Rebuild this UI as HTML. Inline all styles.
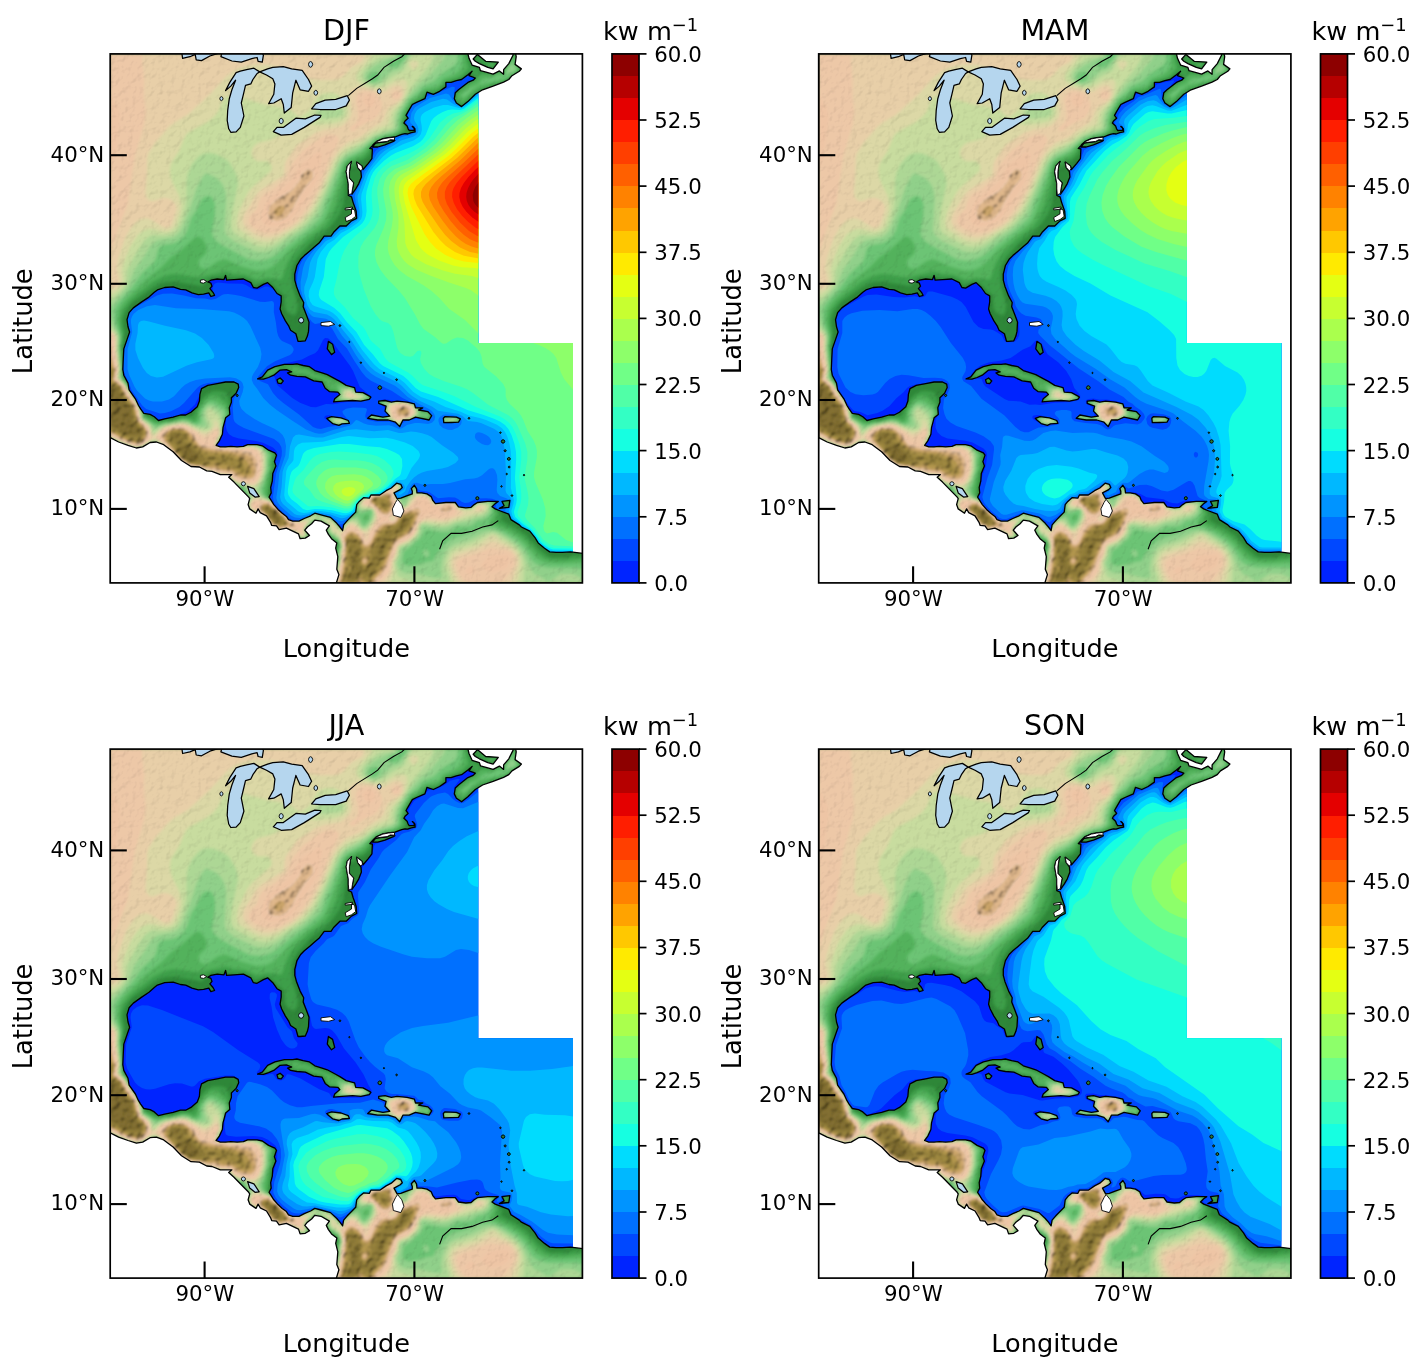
<!DOCTYPE html><html><head><meta charset="utf-8"><title>Seasonal wave power</title><style>html,body{margin:0;padding:0;background:#fff}svg{display:block}</style></head><body>
<svg width="1420" height="1362" viewBox="0 0 1420 1362" font-family="'DejaVu Sans','Liberation Sans',sans-serif" fill="#000">
<defs><path id="landshape" d="M110.2 50.6 L467.9 50.6 L467.9 53.7 L469.0 58.3 L472.1 65.1 L479.4 67.4 L480.5 70.7 L487.8 72.7 L493.1 74.2 L499.4 70.9 L503.6 74.2 L503.6 69.7 L508.8 63.6 L513.0 55.2 L513.5 50.6 L515.1 50.6 L516.2 56.7 L515.1 64.4 L521.4 68.9 L519.3 71.2 L512.0 75.7 L508.8 79.5 L503.6 82.1 L493.1 86.1 L482.6 89.8 L475.3 94.3 L467.9 101.6 L461.6 106.6 L456.4 103.0 L454.3 98.7 L455.3 92.8 L458.5 89.8 L467.9 82.4 L473.2 80.2 L475.3 78.0 L469.0 75.7 L472.1 71.2 L467.9 74.7 L461.6 79.5 L456.4 80.6 L451.1 82.4 L445.9 82.4 L445.9 86.9 L439.6 91.3 L433.3 94.3 L427.0 92.1 L424.9 98.7 L416.5 102.3 L412.3 104.5 L408.1 111.7 L406.0 115.3 L408.1 118.2 L405.0 121.0 L403.9 123.1 L407.1 126.0 L408.1 128.8 L409.2 130.5 L414.4 130.2 L413.9 127.4 L412.3 126.4 L414.9 128.8 L415.1 131.9 L411.3 132.6 L407.6 134.0 L405.0 133.7 L401.8 134.4 L399.7 135.1 L395.0 137.0 L388.2 137.7 L382.9 138.6 L376.6 141.4 L373.5 144.2 L372.4 145.6 L369.8 148.4 L372.4 149.0 L371.9 158.7 L368.3 163.4 L363.0 169.5 L362.0 166.1 L356.7 162.1 L357.8 167.5 L360.9 171.6 L361.4 176.9 L358.8 183.6 L355.7 188.9 L352.0 194.2 L352.5 188.9 L353.6 182.9 L349.4 178.3 L349.4 171.6 L350.4 164.8 L351.5 161.4 L347.3 166.1 L346.2 171.6 L347.3 178.3 L348.3 183.6 L348.3 188.9 L348.3 195.5 L351.5 196.8 L353.0 202.1 L356.2 211.2 L356.7 218.3 L351.5 220.9 L346.2 226.0 L339.9 226.0 L333.6 232.3 L331.0 236.1 L324.2 236.1 L319.0 243.1 L313.7 247.5 L309.5 251.2 L304.3 255.6 L300.6 259.3 L296.9 265.5 L294.8 274.1 L294.8 280.2 L296.4 286.2 L300.1 295.9 L303.7 302.5 L303.2 306.7 L306.4 315.0 L309.0 322.1 L308.5 331.4 L307.4 336.1 L305.3 340.8 L300.1 341.3 L298.0 341.3 L295.9 333.8 L290.6 330.3 L288.5 325.6 L285.4 320.9 L281.7 313.8 L280.1 309.0 L281.2 301.9 L281.2 295.9 L277.0 293.5 L272.8 287.5 L267.6 282.6 L263.4 284.4 L257.1 288.1 L253.4 287.5 L250.8 282.6 L243.4 279.0 L234.0 279.6 L226.6 280.2 L225.6 275.3 L224.0 279.6 L217.2 279.0 L210.9 280.2 L207.8 282.0 L210.9 283.2 L212.0 286.2 L209.9 288.7 L213.0 292.3 L214.6 295.3 L210.9 296.5 L208.8 292.9 L203.6 294.1 L198.3 294.7 L192.0 292.9 L185.7 289.9 L180.5 289.3 L173.1 286.9 L164.7 287.5 L157.4 289.9 L154.3 292.3 L149.0 297.1 L141.7 301.9 L133.3 307.9 L129.1 312.6 L127.0 319.7 L128.0 326.8 L129.6 332.0 L127.0 339.6 L123.8 348.9 L123.3 358.1 L122.8 369.5 L123.8 375.2 L128.0 383.1 L129.1 389.9 L135.4 398.8 L138.5 405.5 L140.6 408.9 L143.8 413.3 L150.1 414.4 L154.3 416.7 L158.5 420.5 L164.7 418.9 L173.1 417.2 L180.5 415.0 L185.7 415.0 L191.0 412.2 L197.3 406.7 L199.4 401.1 L199.9 394.4 L201.5 388.7 L207.8 385.4 L217.2 383.7 L225.6 382.0 L234.0 382.0 L238.2 384.2 L238.7 387.6 L236.1 393.2 L231.4 397.7 L231.4 402.2 L229.3 407.8 L229.8 414.4 L225.6 417.8 L224.5 422.2 L223.0 427.7 L222.4 434.3 L219.3 440.9 L216.1 445.3 L220.3 446.9 L225.6 446.9 L230.8 446.4 L237.1 446.9 L243.4 446.4 L247.6 444.7 L257.1 444.7 L262.3 445.8 L268.6 450.2 L274.9 452.9 L276.5 455.1 L274.4 461.6 L275.9 465.9 L272.8 473.5 L272.3 481.0 L270.7 487.5 L271.2 492.9 L269.1 497.1 L271.2 500.4 L273.8 504.6 L278.0 509.4 L282.2 513.2 L286.4 516.4 L288.5 519.6 L292.7 521.1 L299.0 521.1 L304.3 518.5 L310.6 515.8 L314.8 513.2 L321.0 514.8 L330.5 517.4 L336.8 523.3 L339.9 527.0 L342.6 530.7 L343.6 524.9 L347.3 520.6 L352.5 515.3 L355.7 512.1 L356.7 504.6 L359.3 501.4 L363.5 497.7 L369.3 498.2 L370.9 495.0 L379.8 495.0 L386.1 490.7 L391.3 488.0 L396.6 483.2 L400.8 484.3 L402.3 487.5 L400.2 489.6 L394.0 492.9 L397.1 498.7 L400.8 498.2 L406.0 496.1 L412.3 493.9 L412.3 491.2 L411.3 488.6 L414.4 485.3 L416.5 488.6 L417.0 492.9 L421.8 492.9 L427.0 493.9 L431.2 496.6 L432.8 500.4 L435.4 503.6 L445.9 502.5 L455.3 502.5 L458.5 506.8 L465.8 507.8 L471.1 507.3 L474.2 504.6 L477.4 502.5 L487.8 501.4 L498.3 501.4 L495.2 503.6 L492.0 506.8 L495.2 508.9 L500.4 511.0 L508.8 514.2 L510.9 519.6 L519.3 524.9 L521.4 527.0 L529.8 531.2 L535.0 537.6 L538.2 542.9 L544.5 548.2 L549.7 551.9 L556.0 552.4 L562.3 552.4 L570.7 551.9 L583.3 553.5 L583.3 585.1 L335.7 585.1 L338.9 574.6 L336.8 569.3 L337.8 556.6 L335.7 548.2 L336.8 542.9 L331.5 538.7 L328.4 534.4 L326.3 530.2 L329.4 525.9 L321.0 521.1 L314.8 520.1 L311.6 523.8 L307.4 527.0 L304.8 530.2 L309.5 535.5 L305.3 538.1 L300.1 538.7 L298.5 533.9 L292.7 531.2 L286.4 528.1 L279.1 529.6 L276.5 525.9 L271.7 525.4 L270.7 522.7 L266.5 515.8 L260.2 512.6 L258.1 508.9 L256.0 513.2 L249.7 508.9 L248.1 504.6 L249.7 498.7 L248.7 497.1 L241.3 489.6 L234.0 482.1 L228.7 477.3 L231.9 474.6 L227.2 474.6 L220.3 474.6 L212.0 471.3 L206.7 470.8 L199.4 467.0 L191.0 466.5 L181.5 460.5 L173.1 451.8 L163.7 444.7 L156.4 442.0 L150.1 442.5 L142.7 446.9 L136.4 448.0 L128.0 445.3 L118.6 442.0 L110.2 437.6ZM372.4 147.0 L377.7 147.0 L385.0 144.9 L393.4 141.4 L394.8 140.4 L390.3 140.0 L387.1 141.7 L380.8 142.4 L375.6 143.2ZM473.2 59.0 L477.4 54.4 L485.7 61.3 L498.3 62.1 L493.1 68.9 L487.8 67.4 L479.4 63.6 L475.3 61.3ZM257.6 378.9 L262.3 376.9 L267.6 370.1 L274.9 366.7 L284.3 364.4 L292.7 364.4 L296.9 363.8 L303.2 365.5 L309.5 366.7 L314.8 370.6 L322.1 372.9 L327.3 374.6 L334.7 378.6 L339.9 381.4 L346.2 385.4 L354.6 387.6 L355.7 392.1 L363.0 392.7 L370.4 396.6 L370.9 397.2 L369.3 399.4 L360.9 401.1 L352.5 400.5 L342.0 401.1 L333.6 401.9 L334.7 398.8 L339.9 394.4 L337.8 392.1 L329.4 391.6 L325.2 388.2 L322.1 382.0 L313.7 380.9 L305.3 376.9 L296.9 376.3 L290.6 375.2 L287.5 372.9 L291.7 371.8 L286.4 369.7 L280.1 370.1 L273.8 375.2 L268.6 377.5 L263.4 379.2ZM277.0 379.7 L280.1 378.0 L283.3 380.9 L281.2 383.7 L278.0 383.1ZM326.8 418.3 L331.5 416.7 L341.0 417.8 L348.3 420.5 L349.4 423.3 L342.0 423.8 L338.9 425.3 L332.6 423.6 L328.4 420.0ZM378.7 401.1 L385.0 400.5 L391.3 402.2 L397.1 401.1 L407.1 402.2 L414.4 403.9 L415.5 407.8 L422.8 407.8 L418.6 410.0 L428.0 411.7 L431.7 415.6 L429.1 420.0 L415.5 417.2 L409.2 420.0 L402.9 420.0 L399.7 426.6 L395.5 422.2 L388.2 420.0 L377.7 420.0 L367.7 418.3 L371.4 415.0 L382.9 417.2 L389.8 416.1 L385.0 411.1 L386.1 406.1 L378.7 403.3ZM443.3 418.3 L444.8 416.7 L456.4 417.2 L460.4 418.9 L458.5 422.2 L451.1 422.5 L443.8 422.7ZM499.4 508.4 L503.6 507.8 L508.8 507.3 L509.9 500.4 L502.0 501.4 L504.1 505.7ZM328.4 341.3 L332.6 344.2 L334.7 352.3 L331.5 354.6 L327.3 348.9Z"/>
<path id="lakes" d="M182.6 58.3 L189.9 56.7 L195.2 54.4 L196.2 59.8 L201.5 60.6 L209.9 56.0 L217.2 53.7 L220.3 50.6 L181.5 50.6ZM222.4 50.6 L220.9 56.7 L231.9 61.0 L241.3 62.1 L251.8 58.6 L257.1 57.5 L258.1 61.3 L262.3 62.1 L263.4 55.2 L261.3 50.6ZM230.8 132.3 L236.1 131.9 L240.3 127.4 L243.9 116.0 L241.3 103.0 L243.4 94.3 L245.5 85.4 L250.8 83.9 L252.9 79.5 L257.1 73.5 L259.7 71.9 L253.9 68.2 L246.6 69.7 L240.3 71.2 L236.1 72.7 L229.8 82.4 L225.6 90.6 L230.8 86.1 L235.6 80.2 L231.9 89.8 L229.3 98.7 L227.7 110.3 L227.2 120.3 L228.7 128.8ZM259.7 71.9 L267.6 68.9 L272.8 67.4 L283.3 66.7 L291.7 68.9 L302.2 70.4 L308.5 79.5 L311.6 86.1 L308.5 91.3 L300.1 89.8 L295.9 80.2 L292.7 92.8 L291.2 107.4 L284.3 113.1 L283.3 104.5 L281.2 98.7 L273.8 103.0 L268.6 103.7 L273.8 94.3 L274.9 83.9 L272.8 78.7 L266.5 75.0ZM273.3 131.6 L281.2 135.1 L291.7 134.4 L304.3 127.4 L320.0 117.4 L321.0 115.3 L314.8 115.0 L305.3 118.9 L295.9 118.2 L283.3 127.4 L277.0 127.4ZM311.6 108.8 L320.0 109.5 L335.7 109.5 L346.2 105.9 L349.4 100.1 L347.3 95.7 L335.7 99.4 L325.2 100.1 L315.8 103.7ZM247.6 486.4 L253.9 488.6 L259.2 496.6 L255.0 497.1 L249.7 492.9Z"/>
<path id="marac" d="M397.6 499.3 L401.8 504.6 L403.9 511.0 L400.8 517.4 L393.4 515.3 L392.4 508.9 L395.5 502.5ZM351.5 161.4 L350.4 164.8 L349.4 171.6 L349.4 178.3 L353.6 182.9 L352.5 188.9 L351.8 193.5 L348.8 194.9 L348.3 188.9 L348.3 183.6 L347.3 178.3 L346.2 171.6 L347.3 166.1ZM356.7 162.1 L362.0 166.1 L362.5 168.9 L360.9 170.9 L357.8 167.5ZM354.6 209.9 L355.7 216.4 L351.5 219.6 L346.2 221.5 L345.2 217.6 L351.5 213.8 L351.5 208.6ZM352.5 207.0 L345.2 208.3 L345.2 209.9 L352.5 209.2ZM375.6 142.8 L380.8 142.1 L387.1 141.4 L390.3 139.7 L394.5 140.0 L394.5 137.2 L388.2 137.9 L382.9 138.9 L376.6 141.7ZM200.4 280.2 L203.6 279.6 L206.7 281.4 L203.6 283.2 L200.4 282.6ZM321.0 322.6 L330.5 321.5 L334.7 324.4 L328.4 326.2 L321.0 325.6Z"/>
<path id="small" d="M504.8 441.4 L504.3 440.2 L503.1 439.7 L501.8 440.2 L501.3 441.4 L501.8 442.7 L503.1 443.2 L504.3 442.7ZM506.2 450.7 L505.9 450.0 L505.1 449.7 L504.4 450.0 L504.1 450.7 L504.4 451.4 L505.1 451.8 L505.9 451.4ZM510.3 458.9 L509.9 457.9 L508.8 457.4 L507.8 457.9 L507.4 458.9 L507.8 459.9 L508.8 460.3 L509.9 459.9ZM510.1 467.0 L509.8 466.4 L509.1 466.1 L508.5 466.4 L508.2 467.0 L508.5 467.7 L509.1 467.9 L509.8 467.7ZM507.5 474.0 L507.2 473.5 L506.7 473.3 L506.2 473.5 L506.0 474.0 L506.2 474.5 L506.7 474.8 L507.2 474.5ZM502.2 486.4 L502.0 485.9 L501.5 485.7 L501.0 485.9 L500.7 486.4 L501.0 486.9 L501.5 487.1 L502.0 486.9ZM524.8 475.1 L524.5 474.6 L524.0 474.4 L523.5 474.6 L523.3 475.1 L523.5 475.6 L524.0 475.8 L524.5 475.6ZM512.8 495.5 L512.6 495.0 L512.0 494.7 L511.4 495.0 L511.1 495.5 L511.4 496.1 L512.0 496.4 L512.6 496.1ZM478.9 498.2 L478.5 497.1 L477.4 496.7 L476.2 497.1 L475.8 498.2 L476.2 499.3 L477.4 499.7 L478.5 499.3ZM425.9 485.3 L425.6 484.6 L424.9 484.3 L424.2 484.6 L423.9 485.3 L424.2 486.1 L424.9 486.4 L425.6 486.1ZM501.2 432.7 L500.9 432.1 L500.4 431.9 L499.9 432.1 L499.7 432.7 L499.9 433.2 L500.4 433.4 L500.9 433.2ZM469.8 418.3 L469.6 417.7 L469.0 417.5 L468.4 417.7 L468.1 418.3 L468.4 418.9 L469.0 419.2 L469.6 418.9ZM381.7 387.6 L381.1 386.3 L379.8 385.7 L378.5 386.3 L377.9 387.6 L378.5 389.0 L379.8 389.5 L381.1 389.0ZM340.8 325.6 L340.5 324.9 L339.9 324.7 L339.3 324.9 L339.1 325.6 L339.3 326.2 L339.9 326.5 L340.5 326.2ZM350.0 341.9 L349.8 341.5 L349.4 341.3 L348.9 341.5 L348.7 341.9 L348.9 342.4 L349.4 342.6 L349.8 342.4ZM361.6 362.7 L361.4 362.1 L360.9 361.9 L360.4 362.1 L360.2 362.7 L360.4 363.2 L360.9 363.4 L361.4 363.2ZM384.6 372.9 L384.4 372.5 L384.0 372.3 L383.5 372.5 L383.4 372.9 L383.5 373.4 L384.0 373.6 L384.4 373.4ZM397.4 379.7 L397.2 379.1 L396.6 378.9 L396.0 379.1 L395.7 379.7 L396.0 380.3 L396.6 380.6 L397.2 380.3ZM238.2 395.5 L237.9 394.7 L237.1 394.4 L236.4 394.7 L236.1 395.5 L236.4 396.2 L237.1 396.6 L237.9 396.2Z"/>
<path id="slakes" d="M381.2 91.3 L380.6 89.5 L379.3 88.8 L377.9 89.5 L377.4 91.3 L377.9 93.1 L379.3 93.8 L380.6 93.1ZM283.3 121.0 L282.7 119.1 L281.2 118.3 L279.7 119.1 L279.1 121.0 L279.7 122.9 L281.2 123.7 L282.7 122.9ZM317.7 92.8 L317.1 91.0 L315.8 90.3 L314.5 91.0 L313.9 92.8 L314.5 94.6 L315.8 95.3 L317.1 94.6ZM312.7 64.4 L312.0 62.3 L310.6 61.5 L309.1 62.3 L308.5 64.4 L309.1 66.4 L310.6 67.3 L312.0 66.4ZM303.7 320.3 L303.0 318.3 L301.1 317.5 L299.3 318.3 L298.5 320.3 L299.3 322.3 L301.1 323.1 L303.0 322.3ZM223.0 98.7 L222.5 97.2 L221.4 96.6 L220.3 97.2 L219.8 98.7 L220.3 100.1 L221.4 100.7 L222.5 100.1ZM245.5 483.7 L244.9 482.3 L243.4 481.7 L241.9 482.3 L241.3 483.7 L241.9 485.2 L243.4 485.8 L244.9 485.2Z"/>
<path id="rivers" d="M348.3 95.7 L356.7 88.4 L365.1 83.2 L372.4 78.7 L377.7 75.0 L384.0 67.4 L393.4 61.3 L401.8 56.7 L408.1 50.6M498.3 520.6 L492.0 524.9 L482.6 527.0 L472.1 531.2 L461.6 533.4 L451.1 533.4 L442.7 540.8 L439.6 549.2"/>
<clipPath id="axclip"><rect x="110.2" y="53.9" width="472.2" height="529.0"/></clipPath>
<clipPath id="dataclip"><path d="M105.0 45.9 L456.4 45.9 L456.4 74.2 L478.2 74.2 L478.2 343.1 L573.0 343.1 L573.0 552.9 L346.2 552.9 L338.9 531.2 L325.2 519.0 L312.7 518.0 L301.1 524.9 L285.4 522.7 L272.8 514.2 L262.3 503.6 L257.1 492.9 L246.6 476.7 L225.6 460.5 L204.6 449.6 L183.6 438.7 L155.3 431.0 L131.2 422.2 L105.0 422.2Z"/></clipPath>
<clipPath id="landclip"><use href="#landshape"/></clipPath>
<filter id="lblur" x="105" y="49" width="483" height="539" filterUnits="userSpaceOnUse" primitiveUnits="userSpaceOnUse"><feGaussianBlur stdDeviation="1.6" result="b"/><feTurbulence type="fractalNoise" baseFrequency="0.13" numOctaves="3" seed="7" result="n"/><feDiffuseLighting in="n" surfaceScale="0.55" diffuseConstant="1.3" lighting-color="#fff" result="l"><feDistantLight azimuth="225" elevation="50"/></feDiffuseLighting><feBlend in="b" in2="l" mode="multiply" result="m"/><feComposite in="m" in2="b" operator="in"/></filter>
<filter id="mblur" x="105" y="49" width="483" height="539" filterUnits="userSpaceOnUse" primitiveUnits="userSpaceOnUse"><feTurbulence type="fractalNoise" baseFrequency="0.17" numOctaves="4" seed="3" result="n"/><feDiffuseLighting in="n" surfaceScale="3.2" diffuseConstant="1.3" lighting-color="#fff" result="l"><feDistantLight azimuth="225" elevation="50"/></feDiffuseLighting><feComposite in="l" in2="SourceGraphic" operator="in" result="li"/><feBlend in="SourceGraphic" in2="li" mode="multiply" result="m"/><feGaussianBlur in="m" stdDeviation="0.8"/></filter>
<g id="landfill" clip-path="url(#landclip)"><g filter="url(#lblur)"><rect x="105" y="49" width="483" height="539" fill="#2d8738"/><path fill="#3c9f48" d="M110.0 54.0 467.6 54.0 469.0 61.0 472.0 66.0 477.1 68.0 481.0 71.5 492.0 73.3 498.0 70.6 502.0 70.8 508.0 61.7 511.4 54.0 516.9 54.0 516.9 63.0 520.5 67.0 520.9 70.0 519.4 72.0 512.9 76.0 508.0 80.3 502.0 83.3 481.9 90.0 475.5 94.0 468.0 101.1 462.0 105.1 459.0 104.5 456.1 102.0 454.7 99.0 454.8 95.0 456.1 92.0 460.0 88.1 466.0 83.5 474.2 79.0 474.6 77.0 470.0 72.3 461.0 78.5 447.0 82.4 444.0 87.2 438.0 91.3 433.0 93.1 427.0 92.7 423.0 98.5 412.6 104.0 407.0 113.0 406.3 118.0 404.1 123.0 407.3 130.0 406.4 132.0 396.0 136.5 381.7 140.0 380.1 141.0 385.4 143.0 384.0 144.3 379.0 146.0 374.0 146.0 372.0 146.7 370.9 148.0 370.5 153.0 364.0 160.0 356.6 162.0 353.0 167.9 350.6 164.0 349.0 164.1 348.0 165.0 345.9 171.0 345.7 184.0 343.2 204.0 339.6 214.0 328.2 230.0 322.0 233.7 310.1 243.0 297.7 257.0 293.6 264.0 291.6 273.0 291.7 280.0 293.1 288.0 297.6 304.0 296.9 311.0 295.0 314.4 293.0 315.1 291.0 314.6 287.0 311.4 285.2 308.0 284.2 297.0 283.1 294.0 278.0 290.3 272.0 284.0 268.0 281.7 264.2 282.0 256.0 285.3 254.0 284.5 250.6 281.0 244.0 277.7 230.0 277.7 225.0 275.5 222.0 276.9 215.0 277.3 209.0 278.8 205.7 281.0 203.5 285.0 201.0 286.1 175.0 281.4 167.0 281.9 162.0 283.1 154.0 286.7 133.7 301.0 129.0 305.7 125.0 312.3 123.1 318.0 122.8 322.0 124.4 333.0 122.7 348.0 123.8 375.0 125.1 379.0 136.6 397.0 145.0 413.4 147.8 416.0 157.5 421.0 166.0 419.9 172.0 420.0 181.0 416.7 192.0 415.9 194.0 413.6 202.0 399.0 207.0 393.9 212.0 391.6 216.0 391.0 222.0 391.6 226.3 393.0 229.5 402.0 230.2 413.0 227.0 418.5 224.9 427.0 224.3 434.0 220.6 443.0 222.0 443.7 240.0 444.0 248.0 442.3 257.0 442.7 263.0 444.5 274.7 453.0 275.5 455.0 273.9 461.0 274.3 466.0 271.1 477.0 269.4 496.0 291.0 517.1 293.1 518.0 299.0 518.1 312.0 512.3 317.0 511.7 331.0 515.4 341.0 524.4 353.5 512.0 355.4 503.0 357.2 500.0 361.0 496.5 366.4 495.0 370.0 492.3 379.9 491.0 395.0 481.6 397.0 481.1 401.0 482.1 403.8 486.0 403.7 488.0 402.5 490.0 398.0 493.1 397.9 495.0 399.0 496.2 402.0 496.0 408.8 493.0 410.5 486.0 412.0 484.3 414.0 483.7 416.4 485.0 419.6 490.0 427.0 491.4 431.0 493.8 435.8 500.0 437.0 500.5 447.0 499.1 454.0 499.2 457.0 500.8 460.0 504.3 467.0 505.3 469.6 505.0 476.0 500.2 478.0 499.7 494.0 499.4 496.0 500.1 497.2 502.0 494.8 507.0 502.2 515.0 502.0 517.0 500.4 519.0 500.8 520.0 507.2 524.0 516.0 528.1 527.0 536.1 539.0 549.1 547.6 556.0 551.0 557.2 566.0 557.4 574.0 555.4 583.0 554.6 583.0 583.0 333.3 583.0 335.3 575.0 334.4 568.0 336.2 561.0 336.1 551.0 337.5 544.0 336.2 542.0 331.0 538.9 326.4 534.0 325.0 531.0 325.3 526.0 324.2 525.0 319.0 522.6 315.0 522.8 308.1 529.0 308.0 530.1 310.3 534.0 309.6 537.0 304.0 540.4 299.0 539.8 294.9 535.0 288.0 532.0 278.0 531.9 274.1 529.0 269.0 526.7 263.6 518.0 258.0 515.0 254.0 514.9 248.5 511.0 246.5 508.0 245.7 505.0 246.9 499.0 246.2 497.0 241.0 491.0 232.0 483.7 226.0 477.6 218.0 476.7 197.4 470.0 191.0 469.5 188.0 468.4 179.0 462.7 171.0 454.0 166.0 450.0 160.2 446.0 156.0 444.2 150.7 445.0 144.0 448.7 141.0 449.5 135.0 449.9 127.0 447.6 110.0 440.6ZM476.1 56.0 478.0 55.5 486.0 61.0 496.0 61.8 496.7 64.0 495.0 66.8 493.0 68.1 489.0 67.6 476.0 60.9 474.7 59.0ZM285.6 364.0 297.0 364.4 309.0 367.4 315.0 371.1 327.0 375.2 346.7 384.0 353.0 385.5 355.4 387.0 357.4 390.0 364.0 391.2 369.0 394.0 371.0 396.0 371.3 398.0 369.0 400.7 362.0 402.5 340.0 402.8 335.0 402.2 333.5 401.0 333.3 399.0 337.0 394.1 336.8 393.0 335.0 391.9 330.0 391.5 328.0 390.5 325.3 388.0 322.0 381.9 313.0 379.9 304.0 376.2 292.0 375.0 290.3 374.0 289.1 371.0 287.0 369.9 281.0 370.1 274.0 375.1 268.0 377.4 264.0 378.2 262.5 377.0 265.4 372.0 270.0 368.3 275.0 366.2ZM277.9 379.0 281.0 378.8 282.1 380.0 282.0 382.0 280.0 383.3 278.0 382.6 277.1 381.0ZM381.7 399.0 391.0 399.6 405.0 399.3 413.0 401.3 415.0 402.5 417.0 405.2 420.5 407.0 422.0 409.1 428.0 410.7 430.0 412.0 431.6 414.0 431.9 417.0 430.0 419.7 428.0 420.5 417.0 419.0 410.0 421.7 405.0 422.4 401.0 427.0 399.0 427.8 397.0 427.0 393.9 424.0 388.5 422.0 375.0 421.4 368.0 419.7 366.8 417.0 367.7 415.0 370.0 413.2 373.0 412.8 382.0 414.5 384.3 414.0 383.2 411.0 383.0 407.0 379.0 404.9 377.4 403.0 378.2 400.0ZM445.7 415.0 457.0 415.3 460.6 418.0 460.7 421.0 459.0 423.3 457.0 424.1 448.0 424.7 444.0 424.1 441.8 422.0 441.3 418.0 443.0 415.8ZM328.4 416.0 335.0 415.1 344.0 416.5 349.0 419.0 350.5 421.0 350.7 423.0 349.0 425.0 347.0 425.6 339.0 426.6 334.0 425.8 330.0 423.7 326.8 420.0 326.5 418.0ZM503.5 501.0 506.0 500.4 508.2 501.0 509.0 503.0 508.0 505.7 506.0 506.7 504.0 506.0 502.8 503.0Z"/><path fill="#52b25c" d="M110.0 54.0 465.8 54.0 466.1 61.0 468.1 68.0 462.0 75.0 456.1 78.0 445.4 81.0 442.4 86.0 437.0 89.6 433.0 91.0 426.0 91.0 422.0 96.6 411.0 103.3 404.7 114.0 404.1 118.0 402.5 122.0 403.8 129.0 402.6 131.0 395.0 135.5 383.4 138.0 377.0 140.7 369.6 147.0 367.6 152.0 363.0 156.2 354.0 160.6 349.0 161.7 347.0 163.5 344.5 169.0 342.4 183.0 336.4 204.0 330.5 218.0 324.1 227.0 307.7 239.0 292.0 254.9 286.5 265.0 282.2 278.0 281.0 279.4 268.0 277.7 257.0 280.1 245.0 274.6 232.0 273.4 226.0 271.1 198.0 277.4 178.0 274.1 172.0 274.1 163.0 276.6 153.0 281.6 130.0 299.7 122.9 309.0 121.0 313.7 120.0 319.0 120.2 324.0 122.5 334.0 121.3 348.0 122.9 377.0 137.4 400.0 141.7 408.0 145.0 416.7 156.0 422.5 173.0 421.1 183.0 418.1 188.0 418.4 195.0 420.7 196.0 419.3 198.4 410.0 201.5 404.0 205.0 399.5 209.0 396.8 213.0 395.7 216.0 395.9 219.0 397.5 226.4 404.0 228.9 412.0 228.7 414.0 226.0 418.2 224.0 427.0 223.6 434.0 220.0 442.0 219.7 444.0 240.0 444.6 248.0 443.1 257.0 443.5 263.0 445.6 272.4 453.0 273.6 456.0 271.8 461.0 271.7 468.0 268.8 477.0 266.8 495.0 268.2 497.0 272.0 499.3 291.2 518.0 299.0 518.8 313.0 512.8 317.0 512.5 331.0 516.3 341.0 525.9 345.1 521.0 354.2 513.0 355.2 511.0 356.3 503.0 361.0 497.4 367.0 495.5 371.0 492.6 379.0 492.0 395.0 482.4 397.0 481.9 401.0 483.0 402.9 486.0 402.8 488.0 401.5 490.0 397.0 493.0 397.0 495.0 399.0 497.1 402.0 497.0 409.0 494.0 410.4 492.0 410.9 487.0 412.0 485.6 414.0 484.7 416.1 486.0 419.0 490.7 427.0 492.3 431.0 494.7 436.0 501.1 453.0 499.9 456.0 500.9 460.0 505.2 467.0 506.2 470.0 505.7 476.0 501.2 478.0 500.5 493.0 500.4 495.4 502.0 493.5 507.0 497.3 513.0 495.1 519.0 495.6 522.0 498.5 524.0 513.0 530.6 520.0 535.3 527.0 541.0 537.0 552.4 542.6 557.0 549.0 559.8 562.0 560.5 568.0 560.3 583.0 557.9 583.0 583.0 334.1 583.0 336.0 575.0 335.2 568.0 337.0 562.0 337.3 551.0 339.2 546.0 339.1 544.0 337.2 541.0 331.0 537.4 327.7 534.0 325.9 530.0 326.5 526.0 324.1 524.0 319.0 521.7 314.6 522.0 307.8 528.0 307.1 530.0 309.5 535.0 308.0 537.4 304.0 539.6 300.0 539.4 296.0 534.9 286.7 531.0 278.0 531.3 274.0 528.3 271.0 527.4 269.2 526.0 263.3 517.0 258.0 514.2 255.0 514.5 253.0 513.6 248.5 510.0 246.5 505.0 247.8 499.0 247.0 496.5 241.5 490.0 232.0 482.8 226.9 477.0 220.0 476.5 210.1 473.0 206.0 472.7 199.0 469.9 188.0 467.8 179.0 461.9 172.0 454.2 167.0 450.0 157.0 443.8 151.3 444.0 143.0 448.3 136.0 449.4 129.0 447.6 110.0 439.8ZM512.8 54.0 515.5 54.0 516.1 57.0 515.8 63.0 519.7 68.0 518.8 71.0 505.0 80.6 481.0 88.6 475.0 92.2 463.0 102.3 461.0 102.8 458.1 101.0 456.7 97.0 458.0 92.7 467.0 85.2 475.3 81.0 479.3 75.0 483.0 74.3 492.0 74.8 498.0 72.2 503.0 72.3ZM488.5 63.0 493.2 63.0 494.4 64.0 494.2 65.0 492.0 66.5 490.0 66.1 487.1 64.0ZM284.3 367.0 296.0 366.4 308.0 369.5 314.0 373.1 333.0 380.5 353.0 386.5 357.1 391.0 363.0 391.8 368.0 394.4 369.8 396.0 370.1 398.0 368.0 400.1 361.0 401.8 336.0 401.3 334.6 399.0 338.0 394.5 338.0 392.4 336.0 390.4 331.0 389.7 328.0 388.0 323.0 379.2 314.0 378.0 305.0 374.2 295.0 373.7 293.5 373.0 291.9 370.0 290.0 368.5ZM274.5 368.0 279.1 368.0 275.8 372.0 273.0 374.0 268.0 375.6 266.0 375.0 268.5 371.0ZM381.0 400.0 391.0 400.5 399.0 399.8 411.0 401.4 414.3 403.0 416.6 406.0 419.6 408.0 421.0 410.3 429.0 412.6 430.8 415.0 430.7 417.0 428.0 419.3 418.0 418.0 410.0 420.9 404.0 421.9 401.0 426.0 399.0 426.9 393.5 423.0 388.0 421.1 375.0 420.6 369.0 419.1 368.0 418.0 368.2 416.0 371.0 413.7 381.0 415.3 385.4 415.0 384.1 411.0 384.0 406.9 378.6 403.0 378.8 401.0ZM331.9 416.0 340.0 416.3 345.0 417.6 348.9 420.0 349.6 423.0 348.0 424.5 339.0 425.8 333.0 424.5 329.5 422.0 327.6 419.0 328.7 417.0ZM444.9 416.0 453.0 415.5 457.0 416.2 459.5 418.0 459.7 421.0 458.0 422.8 456.0 423.4 445.0 423.5 443.0 422.2 442.1 420.0 442.3 418.0Z"/><path fill="#6cc474" d="M110.0 54.0 462.8 54.0 461.9 66.0 460.5 69.0 458.0 71.9 451.1 76.0 444.0 78.2 442.0 80.0 439.5 84.0 436.0 86.4 425.0 88.5 419.3 95.0 410.0 101.4 402.8 113.0 400.4 122.0 400.7 128.0 399.0 131.0 394.0 134.2 382.3 137.0 376.0 139.7 368.3 146.0 362.0 153.0 349.0 159.2 345.6 162.0 343.0 166.5 339.7 179.0 327.2 213.0 323.2 221.0 319.0 225.2 289.8 249.0 278.0 262.1 273.0 266.3 266.0 269.8 257.0 270.7 241.0 266.3 227.0 259.8 224.0 259.3 218.0 261.1 207.8 268.0 205.0 268.7 202.0 268.3 199.1 266.0 198.3 262.0 200.0 259.1 206.0 253.2 206.8 248.0 205.6 244.0 203.0 239.8 200.0 236.9 198.0 236.2 194.0 238.3 179.0 251.9 171.0 257.0 161.3 267.0 145.0 279.9 124.0 301.1 119.7 307.0 117.7 312.0 117.2 322.0 120.9 336.0 119.9 348.0 121.6 367.0 121.6 377.0 136.7 400.0 141.8 410.0 143.7 418.0 155.0 424.2 158.0 424.5 166.0 422.5 173.0 422.1 183.0 419.5 188.0 420.2 194.0 423.1 197.0 422.8 199.0 420.3 199.7 413.0 202.1 407.0 206.0 402.3 210.0 400.5 215.0 401.0 224.0 406.7 226.5 410.0 227.3 413.0 224.9 418.0 222.6 435.0 218.7 444.0 221.0 445.0 239.0 445.3 249.0 443.7 256.0 444.1 262.0 446.1 266.8 450.0 270.4 454.0 270.9 456.0 269.0 461.0 269.3 469.0 263.8 489.0 264.1 494.0 266.1 497.0 272.0 500.3 290.0 517.9 292.0 519.0 300.0 519.2 313.0 513.7 317.0 513.4 330.0 516.7 340.0 526.3 342.0 527.0 345.2 522.0 355.8 513.0 356.8 504.0 361.0 498.3 367.4 496.0 371.0 493.3 380.3 492.0 397.0 482.5 400.0 483.1 402.2 486.0 401.4 489.0 396.1 493.0 397.0 496.3 399.0 498.0 404.0 497.5 410.0 494.4 411.1 493.0 411.4 488.0 414.0 485.8 416.0 487.1 418.0 491.1 426.0 492.6 430.0 494.8 436.0 501.8 447.0 500.4 453.0 500.4 456.0 501.7 459.9 506.0 468.0 506.9 471.0 506.1 477.0 501.5 491.0 501.1 493.3 502.0 493.6 503.0 492.2 507.0 493.9 513.0 489.1 522.0 489.6 524.0 505.0 530.3 517.0 537.3 524.8 544.0 536.0 557.7 542.0 561.5 546.0 562.7 558.0 564.1 583.0 562.8 583.0 583.0 334.6 583.0 336.6 575.0 336.0 568.0 338.1 561.0 338.2 552.0 340.3 545.0 338.0 540.0 332.0 536.7 328.2 533.0 326.9 530.0 327.5 526.0 325.6 524.0 319.7 521.0 316.0 520.6 314.0 521.3 306.9 528.0 306.3 530.0 308.5 535.0 307.0 537.2 304.0 538.8 300.0 538.6 295.9 534.0 288.7 531.0 285.0 530.4 280.0 531.2 278.0 530.7 274.6 528.0 269.9 526.0 264.0 516.9 258.0 513.5 254.0 513.5 249.3 510.0 247.2 505.0 248.6 499.0 247.9 496.0 242.0 488.4 234.0 483.6 227.0 476.3 219.0 475.7 197.8 469.0 189.0 467.7 179.0 461.4 169.0 451.0 161.0 445.0 157.0 443.0 152.4 443.0 143.0 447.7 136.0 448.8 128.0 446.6 110.0 439.1ZM366.0 514.7 363.8 517.0 363.8 519.0 365.0 520.3 367.0 519.6 368.3 517.0 368.0 514.4ZM512.8 58.0 514.0 57.1 514.8 64.0 518.1 68.0 518.0 69.7 516.8 71.0 507.0 77.7 502.2 80.0 480.0 84.5 473.0 89.2 466.0 96.1 463.0 97.5 461.4 97.0 461.5 95.0 464.0 92.0 469.7 88.0 478.0 84.5 483.2 79.0 493.0 77.0 498.0 74.2 502.0 74.8 504.0 74.0 505.7 69.0ZM338.8 385.0 353.0 387.6 357.0 391.9 363.0 392.7 367.0 394.8 368.5 396.0 368.9 398.0 367.0 399.5 360.0 401.0 351.0 401.3 337.0 400.2 336.2 399.0 336.5 398.0 339.0 395.0 339.5 393.0 337.0 386.0ZM381.5 401.0 391.0 401.3 400.0 400.4 411.0 402.1 414.0 403.8 420.0 411.5 428.0 413.4 429.4 415.0 429.2 417.0 427.0 418.1 420.0 416.8 416.0 417.5 409.0 420.5 404.0 421.2 401.0 425.0 399.0 426.0 394.0 422.5 389.0 420.6 375.0 419.7 370.0 418.5 368.9 417.0 371.0 414.6 382.0 416.4 385.9 416.0 386.9 415.0 385.0 411.0 384.5 406.0 380.2 403.0 380.0 402.0ZM331.4 417.0 342.0 417.4 347.0 419.4 348.8 422.0 347.0 423.9 336.0 424.7 332.0 423.0 329.2 420.0 329.4 418.0ZM444.7 417.0 455.0 416.5 458.0 417.7 459.0 420.0 458.0 421.8 456.0 422.6 446.0 422.9 444.0 422.0 443.0 420.0 443.4 418.0Z"/><path fill="#90d08a" d="M110.0 54.0 400.0 54.0 397.0 58.6 390.6 61.0 388.3 63.0 387.6 65.0 388.0 66.2 392.0 67.4 396.0 67.0 399.0 65.1 405.8 58.0 406.8 54.0 457.7 54.0 457.0 61.5 454.8 65.0 441.0 73.9 434.0 81.0 423.0 85.9 417.0 92.3 409.0 99.0 400.4 113.0 398.4 121.0 398.1 128.0 396.0 130.9 393.0 132.6 382.0 135.5 375.0 138.6 360.0 150.9 348.0 157.0 344.0 160.3 341.0 165.0 336.8 177.0 329.5 195.0 325.9 202.0 323.2 211.0 320.0 218.0 308.0 229.2 273.0 256.6 267.0 259.3 261.0 260.5 255.0 260.3 248.0 259.0 223.0 245.5 217.0 241.4 213.1 237.0 211.9 233.0 214.8 216.0 215.1 207.0 214.4 202.0 212.4 198.0 210.0 196.1 207.0 195.9 203.0 197.9 201.0 200.2 196.4 210.0 191.0 218.3 187.5 230.0 184.0 236.0 180.0 239.7 175.0 242.7 170.0 244.1 163.0 244.7 160.0 246.3 157.8 250.0 155.9 258.0 154.0 261.7 141.9 273.0 130.5 289.0 118.6 302.0 115.2 307.0 114.0 312.0 114.5 321.0 115.7 326.0 118.8 333.0 119.6 337.0 118.7 348.0 120.8 368.0 120.4 377.0 136.6 401.0 141.4 411.0 143.0 418.8 149.0 421.9 155.0 426.4 182.0 420.7 187.0 421.3 195.0 424.7 200.0 424.1 201.8 422.0 201.7 414.0 202.9 410.0 205.3 406.0 209.0 403.8 213.0 404.2 222.9 410.0 224.7 413.0 222.5 426.0 222.3 433.0 218.0 444.3 221.0 445.5 240.0 445.9 248.0 444.4 254.0 444.6 261.0 446.5 264.3 449.0 268.1 455.0 267.2 461.0 267.7 467.0 264.3 481.0 261.2 489.0 261.5 493.0 264.4 497.0 271.0 500.2 291.0 519.1 299.4 520.0 314.0 514.2 318.0 514.4 330.0 517.5 335.2 522.0 340.0 527.6 342.0 528.3 344.4 524.0 348.0 520.4 354.0 516.5 358.0 515.4 362.0 524.2 363.0 525.1 364.8 525.0 368.0 522.5 370.0 519.7 372.0 511.6 371.0 510.2 370.0 510.1 361.0 512.9 359.0 512.9 357.3 506.0 359.3 501.0 362.0 498.3 367.0 496.8 371.0 493.8 379.0 493.0 397.0 483.1 400.0 483.9 401.5 486.0 400.6 489.0 395.5 493.0 397.0 497.4 400.0 499.2 404.0 499.2 410.8 495.0 412.0 493.0 412.3 488.0 414.0 486.8 415.6 488.0 417.9 492.0 426.0 493.3 430.0 495.5 434.0 501.0 436.0 502.4 448.0 500.9 453.0 501.0 455.4 502.0 459.0 506.3 463.0 507.4 468.0 507.6 471.0 507.0 478.0 502.0 490.0 502.0 491.8 503.0 491.9 504.0 491.0 507.0 491.1 512.0 489.6 515.0 484.0 519.3 477.0 521.0 472.0 525.3 465.0 526.6 457.0 526.3 451.0 530.7 447.0 531.8 441.0 531.9 428.0 529.5 425.0 529.7 420.0 538.4 415.2 542.0 411.0 546.6 403.8 551.0 402.3 560.0 403.0 563.2 406.0 565.5 410.3 566.0 419.0 564.5 427.0 561.7 433.0 561.1 435.5 556.0 443.9 545.0 452.0 538.4 467.7 534.0 477.0 529.4 492.0 528.4 501.0 531.4 517.0 541.2 524.6 549.0 532.1 561.0 538.0 565.3 548.0 567.7 576.0 568.0 583.0 569.0 583.0 583.0 335.1 583.0 337.1 575.0 336.6 568.0 338.9 561.0 339.2 552.0 340.9 547.0 341.0 544.6 339.0 539.7 332.0 535.2 328.7 532.0 327.9 530.0 328.4 526.0 325.3 523.0 319.0 520.0 314.0 520.3 306.2 528.0 305.6 530.0 307.6 535.0 306.0 537.2 303.0 538.4 300.0 537.8 296.9 534.0 290.1 531.0 286.0 529.9 279.0 530.7 275.0 527.7 270.0 525.6 266.0 518.7 263.3 516.0 258.0 512.8 254.0 512.9 250.0 509.9 248.6 508.0 247.8 505.0 249.4 497.0 244.5 488.0 243.0 486.6 239.0 485.8 235.0 483.5 230.0 479.3 228.0 476.0 220.0 475.4 211.0 472.2 206.0 471.6 199.0 469.0 189.0 467.2 180.0 461.7 172.0 453.0 163.3 446.0 156.0 442.1 150.4 443.0 142.0 447.5 136.0 448.3 129.0 446.4 110.0 438.6ZM374.0 71.9 370.2 74.0 368.6 77.0 369.3 80.0 372.0 81.9 376.3 81.0 378.2 79.0 379.5 76.0 379.5 74.0 378.0 72.0ZM512.0 63.0 516.1 69.0 514.0 71.0 509.0 73.6 507.0 73.8 507.1 70.0ZM340.9 388.0 344.0 387.2 352.0 388.2 356.0 392.3 362.0 393.3 365.7 395.0 367.6 397.0 367.4 398.0 363.0 399.8 358.0 400.5 350.0 400.6 339.0 399.4 338.3 398.0 340.6 394.0ZM383.0 402.0 400.0 401.1 406.0 401.4 411.0 402.8 413.2 404.0 417.4 409.0 419.7 414.0 419.4 415.0 410.0 419.6 403.1 421.0 400.9 424.0 399.0 425.2 394.4 422.0 388.0 419.5 383.0 418.4 378.0 419.1 371.0 418.0 370.2 417.0 370.5 416.0 372.0 415.3 382.0 417.7 385.0 417.5 387.6 416.0 387.9 415.0 385.8 411.0 385.6 406.0 382.5 403.0ZM331.6 418.0 335.0 417.5 342.0 418.2 346.6 420.0 347.8 422.0 346.0 423.4 337.0 424.1 333.0 422.7 331.1 421.0 330.4 419.0ZM444.7 418.0 448.0 417.2 455.0 417.3 457.0 418.1 458.1 420.0 456.0 421.7 447.0 422.2 444.3 421.0 444.0 419.0ZM424.1 550.0 427.0 550.0 428.9 552.0 429.2 555.0 428.0 556.9 426.0 557.0 423.7 555.0 422.9 552.0Z"/><path fill="#add795" d="M110.0 54.0 397.4 54.0 395.0 56.9 385.2 60.0 374.0 66.2 366.9 72.0 365.1 76.0 365.9 80.0 369.0 83.0 374.0 84.2 380.4 82.0 392.0 71.1 398.0 69.7 401.0 68.0 408.5 57.0 409.7 54.0 445.8 54.0 442.8 60.0 430.9 74.0 419.0 84.0 408.0 96.8 397.6 113.0 396.0 119.1 395.8 127.0 394.6 129.0 392.0 130.6 381.0 133.9 374.1 137.0 360.0 147.5 347.0 154.4 341.0 159.9 338.6 164.0 317.9 213.0 308.3 224.0 301.0 230.4 290.0 237.5 277.0 247.5 271.0 250.6 266.0 252.1 260.0 252.3 254.0 251.1 234.0 241.2 227.5 236.0 225.5 233.0 224.5 230.0 226.2 199.0 225.7 193.0 224.0 187.3 221.6 183.0 218.0 179.1 214.0 176.5 206.0 173.1 202.0 177.6 197.0 186.7 189.5 210.0 183.5 226.0 180.9 231.0 177.1 235.0 173.0 237.4 157.0 240.6 151.6 244.0 144.3 256.0 134.3 270.0 129.4 283.0 126.7 288.0 110.0 307.0ZM110.0 315.0 110.0 314.1 113.3 326.0 117.2 333.0 118.3 337.0 117.7 349.0 120.1 369.0 119.2 377.0 126.2 386.0 136.6 402.0 140.5 410.0 142.1 419.0 148.8 423.0 155.0 428.9 166.0 424.6 182.0 421.7 187.0 422.5 196.0 426.3 204.0 426.7 206.4 426.0 206.7 425.0 204.0 415.2 205.2 410.0 208.0 406.7 210.0 406.3 213.0 407.4 220.0 413.1 222.0 418.3 221.5 434.0 217.4 443.0 217.6 445.0 221.0 446.0 240.0 446.4 249.0 445.0 254.0 445.3 261.0 447.6 264.5 451.0 266.2 456.0 265.9 469.0 262.6 481.0 258.6 489.0 258.4 492.0 262.6 497.0 272.0 501.7 290.0 519.0 293.0 520.2 299.0 520.6 314.0 515.2 317.0 515.1 330.0 518.4 341.0 529.5 343.0 528.5 345.0 524.4 348.0 521.5 352.0 519.2 355.0 518.7 357.0 520.1 361.7 527.0 365.0 527.5 368.0 525.3 371.7 520.0 373.1 516.0 373.1 511.0 371.0 508.9 363.0 510.1 360.0 509.5 358.3 506.0 360.2 501.0 363.0 498.4 367.8 497.0 371.0 494.2 380.2 493.0 397.0 483.6 400.0 484.6 400.9 487.0 399.8 489.0 395.4 492.0 395.0 494.4 397.0 498.4 400.9 501.0 402.0 505.0 403.0 506.0 405.7 505.0 407.4 500.0 412.1 495.0 413.0 493.0 413.1 489.0 414.0 488.2 417.0 492.4 425.0 493.6 429.0 495.5 434.0 501.8 436.0 503.0 447.0 501.4 453.0 501.5 455.0 502.3 459.0 507.1 468.0 508.5 471.0 507.9 478.0 502.7 488.9 503.0 490.1 504.0 489.2 510.0 486.8 514.0 483.0 516.4 476.0 517.9 468.0 521.6 456.0 523.3 449.0 526.7 444.0 527.8 439.0 527.7 424.0 525.2 421.2 526.0 420.0 533.0 417.7 537.0 409.0 544.7 400.9 548.0 399.6 556.0 397.2 563.0 398.0 566.2 400.0 569.8 402.5 572.0 406.0 573.2 415.0 573.2 435.0 577.9 441.0 578.0 442.1 577.0 441.0 569.0 442.2 560.0 445.5 552.0 449.0 547.4 455.0 543.8 471.0 538.8 484.0 532.8 489.0 531.3 493.0 531.0 500.0 533.8 512.0 541.2 518.0 546.0 523.3 553.0 530.0 568.3 535.0 574.8 539.5 576.0 544.0 579.5 549.0 581.7 560.6 574.0 572.0 574.1 576.0 575.3 583.0 579.1 583.0 583.0 335.6 583.0 337.6 575.0 337.2 568.0 339.4 562.0 339.8 553.0 341.5 547.0 341.4 544.0 339.0 538.4 332.0 533.7 329.4 531.0 328.9 525.0 323.0 520.6 317.0 518.9 313.0 519.9 306.0 527.0 304.9 530.0 306.8 535.0 305.0 537.0 303.0 537.7 300.0 537.0 296.3 533.0 288.4 530.0 285.0 529.6 279.0 530.2 275.0 527.3 270.0 525.0 264.0 516.0 258.0 512.1 254.0 512.3 250.0 509.2 248.4 505.0 250.5 496.0 246.9 488.0 244.0 485.3 239.0 484.8 235.0 482.8 230.4 479.0 229.0 476.0 228.0 475.4 220.0 474.9 211.9 472.0 207.0 471.4 198.0 468.3 191.0 467.6 188.0 466.4 179.0 460.4 173.0 453.5 167.8 449.0 157.0 441.8 152.0 441.8 143.0 446.7 136.0 447.8 128.0 445.5 110.0 438.0ZM344.1 389.0 351.1 389.0 355.6 393.0 363.0 394.6 365.8 397.0 362.7 399.0 358.0 399.7 350.0 399.9 342.0 398.7 340.7 398.0 340.7 397.0 342.8 390.0ZM395.0 402.0 405.0 401.9 412.0 403.9 416.9 410.0 417.7 414.0 411.0 418.6 404.0 420.1 402.3 421.0 400.0 424.0 398.0 424.1 387.9 418.0 388.8 415.0 386.4 410.0 385.9 403.0ZM449.6 418.0 455.0 418.3 456.4 419.0 456.6 420.0 455.0 420.9 449.0 421.5 446.0 421.0 445.1 420.0 446.0 418.6ZM332.6 419.0 341.0 418.6 345.2 420.0 346.5 422.0 340.0 423.5 337.0 423.3 332.6 421.0 332.1 420.0Z"/><path fill="#c8dc9f" d="M110.0 54.0 395.1 54.0 393.0 55.8 384.0 56.4 377.1 59.0 369.0 65.3 362.8 72.0 361.5 77.0 363.1 81.0 368.0 84.6 375.0 86.0 382.0 84.4 393.0 76.2 403.0 71.2 405.2 68.0 407.5 61.0 413.4 54.0 433.8 54.0 432.1 60.0 428.0 67.0 414.0 83.4 403.3 102.0 395.3 112.0 393.4 118.0 392.8 127.0 391.0 128.3 374.0 134.8 363.0 143.0 348.0 150.8 342.0 155.5 337.0 162.3 324.6 192.0 314.0 213.0 305.4 223.0 300.0 227.9 288.3 235.0 279.0 241.8 273.0 245.0 265.0 247.0 257.0 245.8 239.0 236.5 233.3 232.0 231.4 228.0 231.1 222.0 232.3 211.0 238.0 185.0 237.8 179.0 235.8 173.0 229.2 162.0 225.7 159.0 221.0 156.4 214.0 153.6 209.0 152.7 204.0 153.4 199.0 156.1 192.0 164.0 187.8 173.0 186.5 181.0 186.6 198.0 185.7 207.0 182.7 218.0 178.9 227.0 175.9 231.0 171.0 234.1 165.0 235.4 152.0 235.0 149.0 236.4 144.7 240.0 138.0 249.4 127.9 268.0 126.6 272.0 126.3 281.0 124.0 287.0 120.8 291.0 110.0 300.9ZM327.0 102.9 321.0 105.4 317.0 109.4 315.4 114.0 317.0 117.4 320.0 118.8 324.0 119.0 338.0 117.4 342.7 115.0 343.5 111.0 342.1 108.0 340.0 105.8 334.0 102.9ZM110.0 325.0 115.9 333.0 117.4 337.0 116.9 349.0 119.6 369.0 118.5 378.0 125.7 386.0 135.6 401.0 139.6 409.0 141.5 419.0 149.8 425.0 151.8 428.0 153.0 432.2 154.0 432.4 159.0 428.6 165.0 425.7 181.0 422.5 187.0 423.4 201.0 429.0 208.0 429.3 210.1 428.0 210.9 425.0 207.4 418.0 206.7 413.0 208.0 409.7 209.0 408.9 211.0 409.2 219.0 417.1 220.6 421.0 221.0 434.0 216.8 443.0 217.0 445.1 220.0 446.3 240.0 446.8 249.0 445.5 254.0 445.9 260.1 448.0 263.7 452.0 264.9 457.0 264.4 471.0 261.3 481.0 256.0 488.3 254.0 489.8 252.0 489.7 245.0 484.8 237.0 483.3 232.0 479.9 228.3 475.0 220.0 474.6 198.1 468.0 189.0 466.6 180.0 460.8 172.0 452.1 163.3 445.0 156.0 440.9 151.0 441.5 142.0 446.6 136.0 447.5 129.0 445.5 110.0 437.6ZM346.2 390.0 351.0 390.0 355.0 393.5 361.5 395.0 363.7 397.0 361.0 398.5 354.0 399.3 343.9 398.0 342.6 397.0 343.4 393.0 344.4 391.0ZM393.1 403.0 401.0 402.1 406.0 402.5 411.0 403.9 413.0 405.5 416.0 410.0 416.5 414.0 410.0 418.6 403.0 419.9 400.0 423.2 398.0 423.4 389.5 418.0 389.4 415.0 387.4 411.0 387.9 404.0ZM334.3 420.0 340.0 419.2 344.9 421.0 343.9 422.0 338.0 422.7 334.4 421.0ZM394.9 485.0 398.0 484.2 400.3 486.0 399.1 489.0 394.8 492.0 394.5 494.0 396.1 498.0 399.9 502.0 401.3 506.0 403.0 507.1 405.0 506.7 407.0 505.0 409.5 500.0 415.0 492.4 418.0 493.6 425.0 494.2 428.0 495.4 430.1 497.0 435.0 503.2 448.0 501.7 453.0 501.9 455.1 503.0 458.0 507.1 462.0 508.6 471.0 508.9 476.7 504.0 479.0 503.2 487.5 504.0 488.5 505.0 488.3 507.0 486.8 511.0 483.0 514.1 474.0 516.4 466.0 519.4 456.0 521.5 447.0 524.9 440.0 525.4 425.0 523.4 422.0 523.8 420.2 525.0 418.4 533.0 415.7 537.0 408.0 543.6 399.5 547.0 398.2 555.0 394.9 563.0 397.0 573.7 399.0 576.9 416.7 583.0 336.0 583.0 338.0 575.0 337.6 569.0 340.0 561.6 340.4 553.0 342.0 547.0 341.9 544.0 341.0 540.6 339.0 537.3 330.7 531.0 330.2 526.0 329.1 524.0 320.3 518.0 325.0 517.8 330.0 519.2 341.0 530.4 343.0 529.5 347.0 523.2 350.0 521.3 353.0 520.5 356.0 521.9 361.1 528.0 364.0 529.2 366.0 528.9 369.0 526.3 373.0 520.3 374.2 516.0 374.1 512.0 373.0 509.4 371.0 508.3 364.0 508.6 361.0 508.0 359.5 506.0 360.3 502.0 363.0 499.0 368.0 497.3 371.0 494.6 380.9 493.0ZM253.5 494.0 256.0 494.0 262.5 498.0 271.0 501.4 291.1 520.0 299.0 521.1 315.0 516.1 319.4 517.0 313.0 518.3 306.0 526.0 304.4 530.0 306.0 535.0 304.0 536.9 301.0 537.0 297.2 533.0 289.6 530.0 286.0 529.2 279.0 529.9 275.1 527.0 270.4 525.0 264.4 516.0 258.0 511.6 254.0 511.9 250.0 508.5 248.9 504.0ZM491.9 533.0 496.2 534.0 512.0 544.0 516.0 547.3 519.8 552.0 522.7 558.0 524.3 565.0 523.6 583.0 448.7 583.0 449.1 578.0 446.1 569.0 445.6 564.0 446.7 558.0 450.0 551.4 455.0 547.9 474.0 541.8 488.0 534.2Z"/><path fill="#dcd8a6" d="M110.0 54.0 373.6 54.0 366.2 63.0 357.5 72.0 356.1 77.0 356.8 80.0 358.3 82.0 362.0 84.5 367.0 86.4 374.0 87.9 380.0 88.2 384.2 87.0 396.0 80.3 404.0 79.2 406.7 81.0 407.1 87.0 405.5 94.0 403.0 99.5 391.5 112.0 388.0 124.4 372.0 132.8 361.6 141.0 347.0 147.7 342.0 151.7 338.0 156.2 334.5 162.0 323.3 189.0 315.0 205.9 311.8 211.0 303.5 221.0 296.0 227.6 280.0 237.4 273.0 240.6 267.0 241.9 260.0 241.3 253.0 238.4 240.2 230.0 238.0 227.7 237.1 225.0 237.1 219.0 238.6 212.0 247.8 193.0 252.0 187.7 270.0 172.0 271.8 169.0 271.3 165.0 268.9 162.0 266.0 161.1 258.0 161.2 253.8 159.0 251.4 154.0 251.6 151.0 253.0 147.5 256.0 144.3 259.0 142.6 270.0 140.1 276.0 137.5 299.0 121.8 301.0 121.7 310.0 124.4 317.0 125.0 333.0 123.3 340.0 121.4 344.0 118.9 346.8 115.0 347.5 111.0 346.8 107.0 343.0 99.3 339.0 95.1 333.0 92.8 326.0 92.9 322.0 94.1 318.0 96.6 315.3 100.0 312.1 107.0 310.0 109.8 303.0 115.6 299.0 116.9 291.0 110.2 286.0 108.0 267.0 104.9 237.0 96.8 229.0 96.1 225.0 97.3 222.9 100.0 218.4 111.0 213.7 117.0 207.2 122.0 189.0 131.9 186.6 134.0 183.8 139.0 178.5 152.0 171.2 163.0 169.8 170.0 170.5 177.0 172.7 183.0 179.0 195.8 181.2 205.0 180.3 213.0 175.9 225.0 172.8 229.0 168.0 231.4 163.0 231.4 153.0 229.0 149.0 228.8 143.0 230.8 138.0 234.8 130.4 246.0 123.5 263.0 122.0 270.0 122.8 280.0 121.8 285.0 118.0 289.8 110.0 295.3ZM410.6 61.0 416.0 60.4 418.6 62.0 418.0 66.0 414.0 70.1 412.0 69.6 410.0 66.0 409.4 63.0ZM110.0 330.0 110.0 329.4 114.5 333.0 116.6 338.0 116.2 349.0 119.0 369.0 117.6 378.0 125.0 386.0 134.5 400.0 139.5 410.0 140.9 419.0 149.6 426.0 152.3 434.0 154.0 434.6 155.0 434.1 158.9 430.0 165.0 426.5 181.0 423.3 187.0 424.3 202.0 431.4 207.0 431.7 210.0 430.3 212.2 428.0 214.0 424.0 213.6 420.0 214.0 419.4 215.0 419.9 218.0 422.5 220.5 432.0 220.1 435.0 216.1 443.0 216.2 445.0 217.0 445.8 220.0 446.6 240.0 447.3 252.0 446.2 258.1 448.0 261.7 451.0 263.7 457.0 263.7 469.0 261.0 479.0 257.0 484.9 254.0 486.6 251.0 486.6 245.0 483.9 236.0 482.1 231.7 479.0 229.0 474.7 220.0 474.2 211.0 471.1 206.0 470.6 199.0 468.0 189.0 466.3 180.0 460.5 172.3 452.0 163.8 445.0 156.0 440.2 151.0 440.9 142.0 446.2 136.0 447.1 130.0 445.5 110.0 437.1ZM345.9 392.0 348.0 391.1 351.0 391.4 355.0 394.6 359.9 396.0 360.5 397.0 353.0 398.6 347.6 398.0 344.5 396.0ZM395.6 403.0 405.0 402.8 411.0 404.5 415.1 410.0 415.8 412.0 415.5 414.0 410.0 418.1 403.0 419.5 400.0 422.3 398.0 422.6 390.7 418.0 388.0 410.0 389.1 405.0ZM396.0 485.0 398.5 485.0 399.7 487.0 398.2 489.0 395.0 491.0 394.0 494.0 400.0 506.0 402.0 507.7 405.0 507.5 407.4 506.0 415.0 494.7 420.0 494.4 425.0 494.8 428.0 496.1 435.0 503.8 448.0 502.1 453.0 502.4 455.0 503.5 458.0 507.9 463.0 509.8 471.0 510.6 476.6 505.0 479.0 504.0 485.4 505.0 486.5 507.0 485.0 510.1 481.0 512.8 472.0 514.0 447.0 522.8 440.0 523.3 426.0 521.8 422.0 522.6 420.0 523.7 418.7 526.0 417.5 532.0 415.0 536.0 409.0 541.5 400.0 545.1 398.2 547.0 396.8 555.0 393.6 562.0 393.6 572.0 391.1 580.0 391.2 583.0 336.3 583.0 338.3 575.0 338.1 569.0 340.4 562.0 342.4 545.0 341.0 539.3 339.0 535.7 332.0 530.4 330.5 524.0 326.1 520.0 328.0 519.5 330.7 521.0 340.0 531.4 343.0 530.5 347.0 524.3 352.0 522.1 355.0 523.3 362.0 529.8 366.0 530.8 369.0 528.3 374.0 521.0 375.3 517.0 375.1 513.0 374.2 510.0 372.0 507.9 364.0 507.2 361.3 506.0 360.6 504.0 361.8 501.0 364.0 499.1 368.0 497.8 372.0 494.5 380.0 493.7ZM254.4 497.0 258.0 496.9 270.0 501.2 291.0 520.3 299.0 521.6 306.0 519.7 309.5 520.0 303.9 529.0 305.0 535.2 302.0 536.5 296.2 532.0 287.0 529.0 279.0 529.6 275.0 526.7 271.0 525.2 264.9 516.0 258.0 511.0 254.0 511.4 250.2 508.0 249.4 506.0 249.8 503.0 252.0 499.3ZM490.7 536.0 493.0 535.4 494.7 536.0 501.0 540.8 511.0 546.3 515.0 549.5 518.2 554.0 520.2 559.0 520.8 565.0 517.5 583.0 454.2 583.0 449.2 565.0 449.6 560.0 452.0 554.9 454.0 552.8 458.0 550.7 477.0 544.9Z"/><path fill="#e8cfa8" d="M110.0 54.0 111.0 54.0 364.8 54.0 363.0 60.0 361.4 62.0 352.0 67.0 342.0 77.3 338.0 79.2 333.0 80.1 320.0 80.1 308.0 78.6 286.0 68.9 269.0 64.8 254.0 64.6 241.0 67.6 233.0 71.6 226.0 76.8 210.0 94.3 187.3 115.0 175.0 122.0 169.0 126.7 155.0 142.7 148.3 153.0 147.2 158.0 147.0 173.0 145.4 193.0 146.6 198.0 150.0 201.1 154.0 201.1 161.0 198.4 165.0 197.8 170.0 199.0 174.0 202.0 176.0 205.1 176.7 209.0 172.8 222.0 170.8 226.0 167.0 227.9 163.0 227.0 151.0 219.6 146.0 218.0 140.0 219.3 134.0 223.7 129.5 230.0 125.0 238.6 118.3 258.0 116.8 269.0 119.2 280.0 119.0 284.0 116.0 287.5 110.0 289.3ZM393.5 86.0 399.0 85.2 401.0 86.0 402.7 88.0 403.5 94.0 401.4 99.0 399.0 101.4 389.0 107.6 386.4 112.0 383.9 119.0 380.6 123.0 369.0 130.3 360.0 137.2 347.0 142.7 339.0 150.2 332.5 160.0 321.7 187.0 313.5 203.0 308.3 211.0 299.0 221.9 293.0 226.7 281.0 233.5 275.0 236.1 269.0 237.4 264.0 237.3 258.0 235.7 252.0 232.5 246.0 227.9 243.1 223.0 243.2 217.0 245.3 212.0 250.2 205.0 254.5 197.0 257.5 193.0 262.0 189.0 283.2 176.0 284.1 174.0 284.6 166.0 285.9 161.0 297.0 145.2 316.0 132.5 324.0 129.8 340.0 126.7 344.0 124.3 349.0 119.3 350.9 116.0 351.7 112.0 349.6 96.0 350.0 92.7 351.3 90.0 355.0 88.1 361.0 87.8 371.0 89.2 383.0 92.0 385.0 91.5ZM110.0 332.0 110.0 331.5 111.0 331.8 113.9 334.0 115.7 338.0 115.6 350.0 118.5 370.0 116.8 378.0 124.5 386.0 134.6 401.0 138.6 409.0 140.4 419.0 148.7 426.0 150.2 429.0 151.0 433.9 152.0 435.8 154.0 436.9 155.0 436.3 159.4 431.0 165.0 427.3 179.0 424.2 183.0 424.1 187.0 425.2 202.0 433.7 205.0 434.5 209.0 433.1 215.0 427.8 217.0 427.3 219.0 429.4 219.8 433.0 215.4 443.0 215.4 445.0 216.4 446.0 220.0 447.1 240.0 447.8 251.0 446.8 256.0 448.1 260.1 451.0 262.5 457.0 262.7 468.0 260.7 477.0 257.0 483.0 255.0 484.4 252.0 485.1 244.0 482.9 238.0 482.2 232.4 479.0 230.4 475.0 229.0 474.3 220.0 473.8 199.0 467.7 190.0 466.4 180.0 460.2 171.5 451.0 163.0 443.9 155.0 438.6 153.0 438.7 143.0 445.4 136.0 446.7 129.0 444.7 110.0 436.7ZM348.1 393.0 351.0 393.2 354.5 396.0 354.5 397.0 351.0 397.5 348.0 396.5 346.8 395.0ZM394.5 404.0 401.0 403.1 406.0 403.4 410.0 404.7 412.0 406.2 414.3 410.0 414.9 412.0 414.4 414.0 410.0 417.6 402.9 419.0 399.0 421.9 398.0 421.7 391.8 418.0 389.0 410.0 390.0 406.0ZM395.4 486.0 398.0 485.6 398.9 487.0 394.0 491.3 393.6 494.0 399.0 506.4 401.0 508.4 404.0 508.6 407.4 507.0 416.0 496.0 423.0 495.2 426.0 495.8 429.0 497.5 432.9 503.0 435.0 504.4 448.0 502.6 453.3 503.0 454.7 504.0 458.0 509.0 463.1 512.0 463.7 513.0 460.0 516.0 447.0 520.8 441.0 521.3 427.0 520.0 423.0 520.9 420.0 522.6 418.3 525.0 416.3 532.0 413.6 536.0 408.0 540.8 400.0 544.2 397.8 546.0 395.6 555.0 392.5 562.0 391.3 572.0 384.7 583.0 336.7 583.0 338.7 575.0 338.7 569.0 340.9 562.0 341.6 553.0 342.9 547.0 340.1 534.0 344.0 530.3 347.0 525.5 351.0 523.6 355.0 525.1 365.0 533.1 367.0 532.8 375.4 521.0 376.4 518.0 376.3 515.0 375.0 510.4 373.1 508.0 362.7 505.0 362.0 503.0 362.8 501.0 368.0 498.3 372.0 494.9 380.1 494.0ZM392.0 516.4 390.3 519.0 391.0 520.1 393.0 520.4 394.7 518.0 394.0 516.5ZM254.0 499.0 258.0 498.3 270.0 501.7 277.0 507.4 291.0 520.7 299.0 522.1 306.0 521.0 306.7 522.0 303.2 529.0 304.0 535.0 302.0 535.7 297.5 532.0 288.0 528.8 279.0 529.3 275.0 526.4 271.2 525.0 265.0 515.8 261.0 513.4 258.0 510.4 254.0 510.9 250.7 508.0 250.1 504.0 252.0 500.7ZM477.1 506.0 479.0 505.2 481.0 505.6 483.0 507.0 483.0 508.0 481.0 510.2 477.0 510.9 475.5 510.0 475.4 509.0ZM490.3 542.0 494.0 541.7 509.0 547.9 513.3 551.0 516.2 555.0 517.7 560.0 517.6 565.0 511.2 583.0 460.2 583.0 456.0 576.0 452.8 567.0 452.5 562.0 454.2 558.0 459.0 554.4 478.0 548.5Z"/><path fill="#edc8a7" d="M110.0 54.0 142.4 54.0 142.2 61.0 144.2 79.0 143.9 96.0 145.8 112.0 143.9 125.0 134.8 156.0 127.8 204.0 117.0 232.1 110.0 255.5ZM364.1 91.0 372.0 91.5 378.3 95.0 381.9 103.0 381.5 109.0 378.5 115.0 374.0 119.3 361.0 125.6 355.0 130.4 351.0 130.9 349.7 129.0 350.2 127.0 356.0 122.7 357.8 119.0 357.8 112.0 355.8 101.0 356.1 97.0 358.9 93.0ZM394.0 91.0 398.0 90.2 400.4 92.0 401.1 95.0 399.0 98.5 395.0 99.6 391.7 98.0 391.1 96.0 391.4 94.0ZM326.4 135.0 332.0 134.4 337.0 135.7 338.9 138.0 338.5 142.0 330.0 157.2 318.3 188.0 309.3 204.0 301.4 215.0 296.0 220.9 290.7 225.0 282.0 229.7 275.0 232.3 269.0 233.0 264.0 232.5 258.0 230.3 252.0 226.7 248.9 223.0 248.7 219.0 250.8 215.0 256.7 209.0 259.2 201.0 261.6 197.0 265.0 193.6 273.0 189.0 285.2 179.0 287.3 176.0 292.0 163.4 302.0 151.1 319.9 138.0ZM110.0 333.0 113.0 334.6 114.7 338.0 114.9 351.0 117.9 370.0 116.1 378.0 123.9 386.0 134.7 402.0 138.4 410.0 139.5 418.0 140.5 420.0 146.8 425.0 149.4 429.0 150.8 438.0 145.8 443.0 141.0 445.6 136.0 446.3 132.0 445.3 110.0 436.1ZM397.5 404.0 405.0 403.9 410.0 405.5 411.7 407.0 413.8 411.0 413.4 414.0 409.0 417.5 402.0 418.7 399.0 420.7 394.0 418.4 392.5 417.0 390.4 409.0 392.4 406.0ZM178.3 425.0 183.0 424.9 188.0 426.6 203.0 437.3 205.0 438.0 209.0 436.3 215.0 430.8 217.0 430.5 218.3 432.0 218.5 434.0 214.2 444.0 215.3 446.0 217.2 447.0 241.0 448.4 250.0 447.6 256.8 450.0 260.1 454.0 261.6 461.0 260.9 472.0 258.0 479.8 255.0 482.7 252.0 483.7 238.0 481.3 233.0 478.7 231.3 475.0 230.0 474.0 221.0 473.5 198.0 467.1 191.0 466.5 182.0 461.4 172.0 451.0 159.8 441.0 157.2 438.0 157.5 436.0 159.3 433.0 163.7 429.0 169.0 426.7ZM395.7 487.0 397.3 487.0 393.2 491.0 393.1 494.0 398.0 507.4 400.0 509.4 404.0 509.4 407.4 508.0 412.1 504.0 417.0 497.7 420.0 496.5 424.0 496.3 428.3 498.0 432.8 504.0 435.0 505.1 448.0 503.1 453.0 503.5 454.7 505.0 458.0 513.0 454.6 516.0 448.0 518.6 441.0 519.2 428.0 517.9 424.0 518.9 420.0 521.4 417.9 524.0 415.1 532.0 412.1 536.0 408.0 539.5 399.0 543.7 397.0 545.7 394.4 555.0 391.7 561.0 389.3 572.0 386.0 576.6 380.7 581.0 379.5 583.0 337.2 583.0 339.2 575.0 339.3 569.0 341.5 562.0 343.3 547.0 341.3 536.0 341.7 534.0 348.0 526.1 352.0 525.4 356.0 527.5 362.4 533.0 364.2 536.0 365.0 540.8 367.0 540.8 369.3 533.0 377.1 521.0 377.9 517.0 374.9 509.0 372.0 506.7 364.4 504.0 363.7 503.0 364.2 501.0 368.0 499.0 372.0 495.3 381.0 494.0ZM393.0 515.0 390.8 516.0 389.1 518.0 389.5 520.0 391.0 521.0 393.2 521.0 395.2 519.0 395.0 515.7ZM255.4 500.0 259.0 499.9 270.0 502.3 278.0 508.7 290.0 520.6 294.0 522.0 303.9 523.0 302.2 530.0 302.3 534.0 298.0 531.5 288.0 528.5 279.0 528.9 275.0 526.0 271.0 524.5 265.6 516.0 261.0 513.0 258.0 509.7 255.0 510.6 251.4 508.0 250.6 506.0 251.0 503.7 253.0 501.2ZM487.3 549.0 492.0 548.1 498.0 549.3 504.0 549.4 508.0 550.4 511.0 552.2 513.9 556.0 514.9 560.0 514.3 565.0 512.0 570.0 502.1 583.0 466.2 583.0 461.0 576.9 458.7 573.0 456.4 565.0 457.0 561.2 462.1 558.0 477.0 553.4Z"/><path fill="#eec5a5" d="M366.4 95.0 371.1 95.0 373.8 97.0 374.8 99.0 374.4 104.0 371.0 107.1 367.0 106.6 363.4 102.0 363.3 98.0ZM110.0 96.0 110.0 95.2 112.0 97.4 117.1 107.0 118.9 113.0 119.5 119.0 114.9 156.0 110.0 170.7ZM317.2 153.0 320.0 152.6 321.9 155.0 317.8 178.0 314.0 185.9 297.4 212.0 290.0 220.0 281.0 225.1 272.0 226.5 268.0 225.7 264.7 224.0 262.0 221.0 261.2 217.0 264.0 207.0 267.0 201.3 271.0 197.3 288.2 184.0 292.0 179.0 298.0 168.1 302.0 163.4ZM110.0 336.0 110.0 335.0 111.8 336.0 113.1 339.0 114.0 355.5 116.9 370.0 115.4 379.0 122.9 386.0 128.0 394.7 133.1 401.0 137.6 410.0 139.0 419.1 141.0 421.8 146.2 426.0 148.4 430.0 148.5 438.0 145.4 442.0 141.0 444.8 136.0 445.5 132.0 444.5 110.0 435.0ZM399.9 405.0 406.0 405.2 409.8 407.0 412.3 412.0 410.8 415.0 408.0 416.8 399.0 418.6 395.2 417.0 393.3 413.0 393.2 409.0 396.0 406.3ZM172.4 427.0 181.0 426.1 187.0 427.6 195.3 434.0 203.0 443.5 205.0 444.2 210.0 443.7 214.4 447.0 217.0 448.0 241.0 449.7 249.0 449.4 253.5 451.0 257.6 455.0 259.5 460.0 259.0 472.0 256.9 478.0 254.0 480.9 251.0 481.7 238.0 479.7 234.3 478.0 232.0 474.0 230.0 473.0 221.0 472.7 212.0 469.7 207.0 469.4 199.0 466.8 191.0 465.9 188.0 464.6 180.0 459.1 173.0 451.2 160.1 439.0 160.0 436.0 163.0 431.5 167.0 428.7ZM389.6 491.0 391.0 491.1 391.6 492.0 395.7 508.0 395.0 511.2 386.3 518.0 386.5 520.0 390.0 522.0 393.0 522.1 395.0 520.9 396.2 519.0 397.3 514.0 399.0 512.1 408.4 509.0 414.8 505.0 420.0 500.3 423.0 499.1 427.0 499.9 431.7 506.0 434.0 507.1 447.0 504.3 452.0 504.4 454.1 507.0 454.0 511.0 451.3 514.0 447.0 515.5 441.0 515.6 429.0 513.3 425.0 514.6 422.0 517.1 417.6 522.0 413.8 531.0 411.0 534.7 406.0 538.7 398.0 542.8 396.0 544.9 386.9 571.0 384.0 575.0 377.7 580.0 376.5 583.0 338.0 583.0 342.5 561.0 344.1 547.0 342.7 538.0 343.6 534.0 349.0 528.2 353.0 528.2 357.0 530.5 360.9 534.0 364.2 542.0 366.0 543.0 368.0 542.2 372.8 531.0 381.4 519.0 376.1 509.0 367.7 503.0 367.6 501.0 372.1 496.0 380.0 495.0ZM261.4 502.0 267.0 502.1 271.0 503.8 278.0 509.4 290.0 521.5 300.4 525.0 301.1 527.0 300.4 529.0 298.0 529.9 287.0 527.6 280.0 528.6 276.0 525.9 272.0 524.6 266.3 516.0 261.0 512.3 258.0 508.2 255.0 509.3 252.3 507.0 252.2 505.0 254.0 502.9ZM499.8 555.0 507.0 555.1 509.0 556.3 509.9 558.0 509.0 564.0 505.0 568.5 501.0 570.3 491.0 572.1 487.0 570.8 482.0 567.0 481.6 565.0 482.5 563.0 488.2 557.0 492.0 555.5ZM469.5 567.0 474.0 567.5 475.0 568.5 475.0 570.0 472.0 573.5 468.0 574.2 466.0 572.8 465.7 570.0 467.0 568.2Z"/></g><g filter="url(#mblur)"><path fill="#e0b88c" d="M305.9 170.0 309.0 169.1 312.0 170.4 313.4 173.0 313.3 177.0 311.7 180.0 306.3 186.0 299.5 196.0 291.2 212.0 286.0 217.7 281.0 220.6 276.0 221.3 271.0 219.7 268.8 217.0 268.0 213.0 268.7 209.0 270.8 205.0 276.0 200.0 292.0 190.0 298.2 182.0 302.8 173.0ZM110.0 338.0 111.0 339.0 112.8 357.0 116.0 370.0 114.5 379.0 115.8 381.0 122.0 386.0 127.1 395.0 132.8 402.0 136.4 409.0 138.6 420.0 145.8 427.0 147.4 430.0 147.8 434.0 146.8 438.0 143.8 442.0 140.0 444.2 136.0 444.7 132.0 443.7 120.0 438.9 113.0 434.7 110.0 434.0ZM398.7 407.0 403.0 406.2 407.3 407.0 410.0 409.6 410.4 413.0 409.0 414.9 407.0 415.9 397.6 416.0 395.9 414.0 395.3 411.0 396.0 409.0ZM172.1 428.0 181.0 427.2 187.0 429.1 192.7 434.0 200.0 444.1 203.0 446.0 210.0 446.9 218.0 449.2 247.0 451.5 251.0 452.8 255.0 456.2 257.2 460.0 257.3 472.0 255.5 477.0 252.0 479.8 247.0 480.0 237.0 477.7 231.0 472.2 221.0 471.7 213.0 469.1 207.0 468.8 199.0 466.3 191.0 465.5 187.0 463.5 180.0 458.5 173.0 450.5 164.0 442.0 162.0 439.0 162.0 436.0 164.5 432.0 168.0 429.5ZM386.0 493.0 389.0 492.2 390.5 493.0 392.8 500.0 393.8 507.0 393.0 510.0 391.3 512.0 387.0 514.9 384.0 515.5 381.0 513.8 376.5 508.0 370.2 503.0 369.6 501.0 371.0 498.0 373.0 496.3 380.0 495.6ZM263.0 503.0 267.0 502.9 271.0 504.6 284.3 516.0 289.0 521.7 295.9 525.0 297.6 527.0 295.0 527.9 287.0 526.9 280.0 528.0 276.0 525.4 272.0 524.0 266.8 516.0 261.5 512.0 260.2 510.0 259.1 507.0 259.4 505.0ZM446.3 506.0 451.1 506.0 452.0 508.0 451.0 510.2 449.0 511.5 445.0 512.1 441.0 511.3 439.6 510.0 440.5 508.0ZM414.6 508.0 418.0 507.4 419.9 508.0 421.2 512.0 413.0 529.5 408.0 535.4 398.0 541.3 395.2 544.0 385.8 569.0 382.2 574.0 376.6 579.0 374.8 583.0 338.8 583.0 343.5 560.0 344.7 547.0 343.7 537.0 347.0 532.0 351.0 529.9 356.0 531.7 360.6 536.0 364.0 543.4 367.0 544.3 370.0 541.8 375.4 530.0 381.0 523.9 384.0 522.5 391.0 523.2 394.0 522.5 396.0 520.9 400.0 513.8Z"/><path fill="#ccA66a" d="M278.7 206.0 283.0 205.7 284.4 207.0 284.7 209.0 282.6 214.0 280.0 215.8 278.0 216.2 275.1 215.0 273.8 212.0 275.0 208.7ZM110.0 347.0 110.0 346.3 111.0 349.0 110.7 356.0 115.2 371.0 113.6 378.0 113.9 380.0 121.1 386.0 126.6 396.0 132.5 403.0 135.9 410.0 137.7 420.0 144.6 427.0 146.4 430.0 146.7 434.0 145.7 437.0 142.0 441.9 139.0 443.3 136.0 443.7 132.0 442.6 120.0 437.8 113.0 433.5 110.0 432.9ZM401.8 408.0 405.0 407.9 407.3 409.0 408.6 411.0 408.0 413.3 404.0 414.7 399.0 413.2 398.3 412.0 398.7 410.0ZM172.1 429.0 180.0 428.2 186.0 430.0 189.6 433.0 199.0 445.7 203.0 447.9 217.0 450.4 230.0 451.2 248.0 455.5 251.2 458.0 253.1 461.0 255.3 471.0 254.0 475.6 251.0 478.0 246.0 478.0 238.0 476.0 233.5 472.0 231.0 470.9 222.0 470.5 214.0 467.9 207.0 467.9 199.0 465.7 191.0 465.0 188.0 463.6 180.2 458.0 164.2 440.0 163.8 437.0 165.7 433.0 168.0 430.9ZM386.3 494.0 389.0 493.9 390.0 495.1 392.1 506.0 391.5 509.0 390.2 511.0 388.0 512.7 385.0 513.6 381.5 512.0 376.9 507.0 371.8 503.0 371.0 501.0 371.4 499.0 373.2 497.0 381.0 496.0ZM263.4 504.0 268.0 503.9 274.0 507.4 284.5 517.0 290.5 525.0 280.0 527.4 276.0 524.8 272.0 523.4 267.0 515.5 262.3 512.0 260.9 510.0 260.6 507.0ZM411.0 511.0 416.0 510.9 417.3 512.0 417.8 514.0 412.3 528.0 408.0 533.5 397.5 540.0 394.3 543.0 384.2 568.0 381.5 572.0 374.8 579.0 373.0 583.0 339.8 583.0 344.5 560.0 345.5 547.0 344.6 538.0 347.0 533.9 351.0 532.0 355.0 533.0 359.8 537.0 364.0 545.1 366.0 546.1 368.0 545.8 371.0 543.0 376.2 532.0 381.0 526.5 385.0 524.6 394.0 523.4 396.9 521.0 401.0 514.8ZM365.0 558.8 363.0 560.3 362.9 562.0 364.0 563.3 365.7 563.0 366.4 562.0 366.4 560.0Z"/><path fill="#b2964e" d="M110.0 363.0 110.0 362.4 114.3 371.0 114.3 374.0 112.6 379.0 113.2 381.0 119.0 385.0 121.7 388.0 125.4 396.0 131.4 403.0 134.3 408.0 137.0 420.4 145.4 430.0 145.8 433.0 145.0 436.0 142.0 439.9 139.0 441.9 136.0 442.4 132.0 441.4 121.0 437.0 113.0 432.3 110.0 431.7ZM402.7 411.0 404.0 410.3 405.3 411.0 405.0 412.0 404.0 412.2ZM172.3 430.0 179.0 429.3 185.1 431.0 187.5 433.0 191.3 439.0 197.2 446.0 203.0 449.7 211.0 451.7 230.0 453.2 243.3 458.0 247.5 462.0 251.7 470.0 251.8 473.0 250.0 475.0 244.0 475.5 239.3 474.0 232.0 469.4 222.0 468.4 215.0 465.2 207.0 466.8 199.0 465.0 192.0 464.6 189.0 463.5 181.0 458.0 166.4 441.0 165.6 438.0 166.3 435.0 168.6 432.0ZM384.3 496.0 388.2 496.0 389.3 498.0 390.3 503.0 389.7 509.0 388.1 511.0 386.0 511.9 382.7 511.0 373.3 503.0 372.2 501.0 372.5 499.0 374.0 497.6ZM263.6 505.0 266.0 504.3 268.0 504.7 275.0 509.0 284.5 518.0 287.5 524.0 286.5 525.0 281.0 526.7 272.5 523.0 267.3 515.0 261.7 510.0 261.8 507.0ZM409.4 513.0 413.6 513.0 415.1 515.0 414.2 520.0 411.3 527.0 407.0 532.3 397.0 538.4 393.2 542.0 382.6 567.0 380.0 571.0 372.9 579.0 370.8 583.0 361.7 583.0 362.6 580.0 361.0 578.0 358.8 579.0 358.6 583.0 341.1 583.0 344.9 567.0 346.3 547.0 345.3 540.0 347.0 535.9 351.0 533.8 356.0 535.5 359.7 539.0 363.0 546.4 366.0 548.6 368.0 548.3 371.6 545.0 376.9 534.0 381.0 529.0 385.0 526.5 395.0 523.9 402.0 515.7ZM364.0 556.7 362.2 559.0 361.9 562.0 363.0 564.1 365.0 564.7 367.4 563.0 368.1 560.0 366.9 557.0 366.0 556.3Z"/><path fill="#9e8840" d="M110.0 367.0 112.0 368.8 113.4 372.0 113.4 374.0 111.3 379.0 111.5 381.0 113.1 383.0 118.0 385.4 120.6 388.0 124.5 397.0 130.1 403.0 133.3 408.0 136.1 421.0 144.2 430.0 144.8 433.0 144.2 435.0 139.0 439.9 136.0 440.6 132.0 439.7 122.0 436.0 114.0 431.3 110.0 430.3ZM173.1 431.0 180.0 430.8 185.0 432.8 186.8 435.0 188.0 439.4 189.2 441.0 198.2 449.0 204.0 452.4 211.0 454.9 217.0 454.4 229.0 455.8 240.0 460.7 243.2 464.0 245.7 471.0 245.0 471.8 243.0 471.9 233.0 466.4 221.0 464.1 214.0 461.4 212.0 461.8 207.0 465.0 192.0 463.9 189.0 462.7 181.0 457.0 168.4 441.0 167.7 438.0 168.4 435.0 170.0 432.8ZM374.2 499.0 376.0 498.2 384.0 498.2 386.7 499.0 388.3 505.0 387.5 509.0 386.0 510.0 384.0 509.5 380.0 505.7 375.3 503.0 373.7 501.0ZM264.0 506.0 266.0 505.3 268.0 505.8 276.0 510.8 284.1 519.0 285.6 522.0 285.2 524.0 281.0 525.7 273.0 522.5 268.0 514.9 262.8 510.0 262.6 508.0ZM407.6 515.0 411.0 515.3 412.4 517.0 412.1 521.0 410.1 526.0 406.0 530.8 396.0 536.7 392.0 540.5 380.1 567.0 371.0 578.2 366.5 583.0 365.0 583.0 365.4 581.0 363.9 578.0 361.0 576.3 358.0 578.0 356.7 583.0 343.0 583.0 346.0 571.1 348.0 569.2 351.0 568.4 351.7 567.0 351.0 565.9 348.0 565.8 346.7 564.0 347.5 552.0 346.5 540.0 348.0 537.4 350.0 536.2 353.0 536.4 358.6 540.0 362.7 551.0 360.7 559.0 361.1 563.0 363.0 565.7 366.0 566.1 368.0 564.6 369.4 562.0 370.5 551.0 380.0 533.1 385.0 528.7 396.0 524.6 402.0 517.4Z"/><path fill="#8f7b38" d="M110.0 371.0 110.0 370.1 112.1 373.0 111.5 375.0 110.0 376.7ZM110.0 385.0 110.0 384.0 117.0 386.2 119.0 387.6 122.5 397.0 131.5 407.0 133.1 411.0 134.0 420.1 143.1 431.0 143.2 434.0 140.0 437.1 136.0 438.1 129.0 436.7 123.8 435.0 116.0 430.4 110.0 428.3ZM172.5 433.0 177.0 432.2 183.1 434.0 184.5 436.0 183.8 440.0 184.5 442.0 192.0 446.1 201.2 454.0 205.6 458.0 206.4 460.0 205.9 461.0 203.7 462.0 197.0 462.9 192.0 462.8 183.7 458.0 176.9 450.0 175.9 445.0 170.7 440.0 170.3 436.0ZM265.0 507.0 267.0 506.8 271.0 508.6 277.0 513.0 283.2 520.0 283.5 523.0 281.0 524.1 273.0 521.1 268.5 514.0 264.4 510.0 264.2 508.0ZM404.1 518.0 407.0 517.2 409.4 518.0 409.9 521.0 408.4 525.0 405.0 528.7 394.1 534.0 390.8 537.0 388.4 541.0 377.9 565.0 373.0 572.1 368.0 576.7 366.0 576.2 362.0 573.6 359.0 574.6 356.4 578.0 354.7 583.0 345.9 583.0 347.6 574.0 353.0 569.2 353.7 567.0 353.0 564.5 350.3 562.0 349.5 560.0 349.0 542.0 349.9 540.0 353.0 539.8 356.5 542.0 359.2 551.0 358.7 557.0 360.0 564.0 363.0 568.6 366.0 568.7 369.0 566.5 371.3 563.0 374.5 551.0 380.0 537.5 386.5 531.0 392.0 529.2 397.0 526.1 401.5 520.0Z"/><path fill="#837032" d="M113.1 388.0 116.0 387.7 118.0 388.8 120.4 398.0 128.0 404.8 130.5 408.0 131.9 412.0 131.8 420.0 132.8 422.0 141.1 431.0 141.5 433.0 140.0 434.6 132.0 435.0 125.0 433.4 113.8 427.0 110.0 423.5 110.0 388.9ZM173.8 435.0 176.0 434.4 178.0 435.0 179.1 436.0 178.9 438.0 177.0 439.3 174.1 439.0 173.0 437.0ZM180.6 446.0 185.0 445.9 193.0 449.5 198.7 456.0 199.2 458.0 198.4 460.0 196.0 461.1 192.0 461.2 186.1 458.0 178.9 450.0 178.7 448.0ZM268.8 511.0 271.0 510.5 276.1 514.0 278.5 517.0 279.2 520.0 276.0 520.6 274.0 519.9ZM403.2 521.0 406.0 520.5 406.5 523.0 405.0 525.1 402.0 525.9 401.4 524.0ZM356.0 562.0 357.0 562.8 358.4 569.0 356.2 572.0 354.0 577.7 352.0 579.6 351.0 579.4 350.7 577.0 351.3 575.0 355.8 571.0Z"/></g></g></defs>
<g transform="translate(0.0,0.0)">
<g clip-path="url(#dataclip)"><rect x="110" y="54" width="473" height="529" fill="#0024ff"/><path fill="#0048ff" d="M480.1 54.0 583.0 54.0 583.0 583.0 430.5 583.0 428.7 575.0 425.1 566.0 422.0 561.3 418.0 558.0 411.0 555.6 389.0 552.1 375.0 548.4 362.0 542.7 345.0 532.7 337.0 529.9 333.0 529.6 331.0 530.6 330.0 532.0 329.8 535.0 331.2 543.0 329.9 545.0 327.0 546.4 319.0 547.2 310.0 546.7 304.0 545.3 299.0 543.0 291.0 541.2 284.1 537.0 282.4 535.0 282.0 533.0 283.2 531.0 286.0 529.4 294.0 529.5 294.6 529.0 293.0 527.0 274.6 511.0 271.2 506.0 269.2 500.0 269.0 496.0 272.5 474.0 277.5 456.0 277.3 453.0 276.6 451.0 273.0 447.5 263.0 442.8 256.0 441.1 239.0 438.6 233.0 436.7 229.0 434.2 226.9 431.0 225.7 426.0 225.9 420.0 227.7 413.0 226.6 402.0 225.0 398.8 219.7 394.0 215.0 390.5 211.4 389.0 207.0 388.8 204.0 389.6 201.0 392.2 195.0 404.5 188.0 411.0 185.0 412.5 173.0 416.7 162.0 419.3 159.0 419.5 156.0 418.7 151.0 416.0 143.0 413.5 131.0 402.4 121.8 398.0 112.0 392.1 110.0 391.4 110.0 300.9 124.0 297.2 130.0 296.6 139.0 296.8 143.5 296.0 148.9 294.0 157.0 289.4 166.0 287.2 174.0 287.6 185.0 289.8 197.0 293.2 206.0 293.2 211.0 293.7 212.3 293.0 212.6 292.0 212.7 288.0 213.7 285.0 215.0 283.5 218.0 282.6 228.0 283.4 242.0 283.8 246.0 285.0 252.7 289.0 256.0 289.7 259.0 289.2 265.0 286.6 268.0 286.6 271.0 287.9 277.0 292.2 282.0 294.6 284.0 294.5 291.0 283.1 295.3 264.0 300.7 252.0 304.3 242.0 308.7 234.0 313.0 228.3 318.0 223.0 334.7 209.0 340.4 203.0 344.0 196.9 348.0 181.0 349.0 179.7 354.0 176.4 356.0 173.0 358.7 166.0 363.0 162.7 367.0 158.2 373.0 148.2 378.5 144.0 382.7 138.0 389.2 133.0 393.7 128.0 397.5 122.0 403.3 110.0 408.0 103.0 413.0 98.5 426.0 90.5 440.3 87.0 448.0 82.5 458.6 79.0 466.0 74.6 472.9 72.0 475.0 69.3 475.0 63.9 476.2 63.0 480.2 62.0 481.4 61.0ZM284.0 310.1 284.0 313.0 285.0 316.4 290.5 329.0 295.0 333.9 298.0 339.4 301.0 340.5 305.0 339.8 307.0 337.0 307.7 333.0 307.2 328.0 306.0 325.0 304.0 323.3 298.0 321.9 294.0 319.8 290.5 317.0 285.0 310.6ZM325.0 338.0 323.0 340.0 318.0 350.2 315.0 353.3 309.0 355.8 302.0 359.6 283.0 364.0 275.3 367.0 269.3 371.0 267.6 373.0 267.0 375.1 268.0 375.8 273.0 376.3 274.6 377.0 276.1 383.0 278.0 385.8 292.3 398.0 300.0 402.8 311.0 407.1 316.0 407.3 326.0 404.1 333.0 404.3 347.0 402.0 361.8 401.0 368.4 399.0 369.7 397.0 369.2 395.0 367.0 392.7 359.8 387.0 353.1 371.0 350.0 365.8 332.0 341.6 328.0 338.3ZM381.0 399.9 379.7 401.0 379.7 403.0 383.9 407.0 388.0 414.6 390.0 416.3 394.0 417.2 398.0 416.9 403.9 414.0 405.7 412.0 406.5 409.0 406.1 407.0 404.6 405.0 401.5 403.0 396.4 401.0 387.0 399.4 384.0 399.2ZM445.0 503.9 437.0 505.3 431.0 504.2 430.1 505.0 431.0 510.2 434.0 517.8 437.0 521.9 440.0 523.8 445.0 524.3 451.0 522.5 462.0 516.0 464.7 514.0 466.2 512.0 465.3 511.0 459.0 508.5 453.0 503.9 450.0 503.5ZM298.0 531.3 298.9 537.0 300.0 539.1 302.0 539.4 304.0 538.2 305.1 536.0 304.0 534.0 301.0 531.9ZM326.0 415.5 324.3 417.0 324.4 418.0 327.0 420.2 333.0 421.5 335.8 421.0 336.8 420.0 335.5 418.0 332.0 416.1 329.0 415.3Z"/><path fill="#0070ff" d="M486.1 54.0 583.0 54.0 583.0 583.0 476.2 583.0 476.1 574.0 476.9 566.0 478.4 558.0 480.9 550.0 484.3 542.0 488.1 535.0 500.9 516.0 500.1 513.0 495.8 507.0 496.5 501.0 495.0 499.7 492.0 498.8 486.0 498.3 477.0 498.6 474.0 499.7 469.0 502.6 465.0 503.0 462.0 502.1 458.0 498.9 455.0 497.6 449.0 497.2 438.0 498.2 430.0 492.4 427.0 491.4 420.0 490.4 416.0 487.6 414.0 487.4 413.0 488.5 411.0 494.2 404.1 502.0 401.4 511.0 398.2 517.0 394.0 521.7 389.0 525.0 381.0 527.5 372.0 527.7 364.0 526.0 354.0 521.8 351.0 521.3 341.0 524.6 339.0 524.0 330.1 519.0 324.0 518.3 322.2 519.0 322.3 520.0 325.0 523.9 325.5 526.0 323.0 535.3 322.0 536.7 320.0 537.9 317.0 538.2 315.0 537.6 309.5 532.0 307.8 529.0 308.3 526.0 310.4 522.0 310.6 521.0 310.0 520.1 307.0 519.8 298.0 520.8 292.0 519.5 289.0 517.5 280.0 509.5 274.6 503.0 273.2 499.0 273.0 496.0 276.0 474.0 281.6 456.0 281.9 451.0 281.3 447.0 279.0 442.9 274.0 439.1 244.0 427.9 238.0 424.8 234.7 422.0 233.5 419.0 232.7 407.0 233.6 399.0 237.3 393.0 238.9 389.0 238.9 386.0 237.1 383.0 233.0 381.2 227.0 380.9 208.0 383.0 203.0 384.3 199.5 386.0 197.1 388.0 184.0 403.0 179.4 407.0 171.0 411.3 164.8 413.0 160.0 413.6 146.2 409.0 142.0 405.2 131.5 390.0 128.5 382.0 125.1 375.0 124.0 371.0 123.5 366.0 124.1 349.0 128.9 332.0 127.4 322.0 127.5 319.0 128.4 316.0 130.6 312.0 135.9 307.0 157.0 295.4 163.0 293.7 172.0 293.6 184.0 295.5 196.0 298.3 205.0 298.6 211.0 299.7 216.0 298.8 222.0 294.9 224.0 294.2 228.0 294.0 234.0 294.7 241.0 296.1 260.0 301.7 265.0 302.1 272.0 301.0 273.5 302.0 274.0 304.0 273.8 312.0 275.8 322.0 277.1 332.0 278.3 336.0 280.0 339.0 282.0 340.9 291.0 345.1 293.3 348.0 293.7 350.0 292.3 353.0 290.0 355.0 275.0 361.2 267.0 366.3 258.5 376.0 257.6 378.0 257.7 379.0 260.0 381.1 268.0 384.3 273.0 392.9 277.4 398.0 283.3 403.0 299.0 414.5 313.0 427.0 317.0 428.6 321.0 428.9 329.0 426.7 338.0 425.7 346.9 423.0 348.0 422.0 348.2 420.0 343.2 414.0 342.4 412.0 342.6 411.0 346.0 408.7 353.0 407.4 363.0 407.7 366.0 408.3 366.8 409.0 366.9 410.0 365.4 415.0 365.4 417.0 366.4 419.0 368.0 420.1 376.0 421.7 389.0 421.8 393.0 422.8 398.0 425.1 400.2 425.0 405.0 421.6 415.0 418.9 418.0 418.8 426.0 419.7 429.3 419.0 430.3 418.0 430.9 416.0 430.2 414.0 428.1 412.0 417.0 406.3 412.0 402.6 402.5 398.0 392.0 390.9 371.0 380.8 366.0 377.0 362.0 372.3 354.4 361.0 347.0 348.6 338.0 339.1 332.4 329.0 329.8 326.0 327.0 324.1 324.0 323.1 321.0 323.0 315.0 323.9 312.0 322.0 305.3 313.0 302.1 307.0 297.4 287.0 296.9 281.0 297.4 275.0 299.4 266.0 302.9 259.0 321.4 238.0 324.0 235.9 330.0 233.3 338.0 225.6 346.0 222.3 353.9 216.0 354.5 211.0 351.7 197.0 351.8 194.0 358.0 183.1 360.0 178.2 362.0 171.0 371.0 159.5 374.8 152.0 376.4 150.0 390.6 141.0 397.0 136.1 401.0 134.2 408.0 132.4 410.1 131.0 410.4 130.0 406.9 125.0 406.2 122.0 408.4 113.0 412.3 106.0 415.0 103.7 423.8 99.0 428.0 95.4 437.0 93.2 452.0 86.7 454.5 87.0 454.8 88.0 453.9 94.0 454.7 97.0 456.0 99.1 459.0 100.6 461.0 100.3 463.3 99.0 485.2 82.0 489.5 78.0 489.7 76.0 484.8 71.0 484.2 69.0 485.5 68.0 492.0 66.9 494.1 65.0 494.5 63.0 494.0 62.0 487.7 58.0 486.5 56.0ZM445.0 417.7 443.5 419.0 443.3 421.0 444.0 422.3 446.0 423.3 454.0 422.8 456.0 422.2 457.3 421.0 457.4 420.0 456.7 419.0 454.5 418.0 448.0 417.3Z"/><path fill="#0094ff" d="M494.2 54.0 510.9 54.0 510.0 58.0 507.8 63.0 504.0 68.4 502.0 70.1 499.0 70.2 497.0 69.0 497.1 67.0 498.6 63.0 498.5 61.0 494.7 56.0ZM516.0 54.0 583.0 54.0 583.0 583.0 518.5 583.0 513.0 567.8 511.1 556.0 511.2 550.0 512.0 544.0 513.6 538.0 516.2 531.0 516.3 529.0 515.3 527.0 510.5 521.0 508.0 515.5 505.2 511.0 505.6 509.0 509.0 505.0 509.5 502.0 509.0 500.3 507.0 498.6 500.1 496.0 497.4 493.0 496.7 490.0 497.4 480.0 497.0 475.0 495.0 470.0 493.0 468.3 491.0 468.2 489.0 469.1 482.0 475.2 478.0 477.5 474.0 478.5 465.0 479.2 450.0 483.1 443.0 483.9 431.0 483.9 423.0 484.7 417.0 482.8 414.0 482.9 412.0 484.3 410.7 486.0 408.0 493.2 405.0 495.6 401.0 497.8 398.0 498.3 396.0 497.7 393.9 496.0 392.0 492.0 391.0 492.8 389.1 495.0 386.0 502.0 384.0 505.2 381.0 508.5 377.0 511.3 373.0 512.9 369.0 513.8 358.0 514.0 342.0 521.2 339.0 520.7 330.0 516.2 319.0 514.5 314.0 514.7 300.0 518.0 295.0 517.6 291.0 515.5 280.4 506.0 277.5 502.0 276.3 498.0 278.1 486.0 279.3 473.0 285.4 455.0 286.0 446.0 284.7 439.0 282.6 435.0 279.0 431.5 274.0 428.5 261.9 423.0 254.5 419.0 246.0 413.3 241.6 409.0 239.7 405.0 239.2 401.0 242.7 392.0 243.6 387.0 242.5 383.0 240.9 381.0 236.0 378.2 230.0 377.3 205.0 378.5 196.0 380.1 190.0 382.0 185.0 384.8 181.4 388.0 174.0 396.2 169.0 399.6 162.0 401.5 153.0 401.4 149.0 400.6 145.0 398.6 137.0 390.5 134.7 387.0 129.0 374.5 127.5 369.0 127.6 349.0 132.2 332.0 131.0 323.0 131.0 319.4 132.0 316.5 133.6 314.0 138.2 310.0 147.0 306.3 155.0 305.1 176.0 308.2 200.0 308.9 229.0 311.2 234.0 312.6 239.1 315.0 243.8 318.0 247.1 321.0 250.3 326.0 260.3 348.0 261.5 354.0 260.6 360.0 257.9 367.0 253.2 374.0 251.9 377.0 251.8 380.0 253.4 384.0 257.3 389.0 263.2 398.0 270.0 404.8 277.0 410.3 292.0 420.6 306.0 429.4 315.0 433.0 319.0 433.7 323.0 433.4 333.0 430.0 350.0 425.5 352.3 424.0 356.0 420.1 358.0 420.4 364.0 423.6 368.0 424.8 376.0 425.7 389.0 425.2 392.0 425.9 399.0 428.9 402.0 428.2 407.0 424.9 415.0 423.0 419.0 422.9 428.0 423.9 432.0 422.7 434.5 420.0 435.2 417.0 434.2 414.0 431.9 411.0 429.0 408.9 418.0 403.3 407.7 397.0 399.0 388.8 395.0 385.8 376.0 376.7 371.0 373.6 367.1 370.0 363.0 365.1 356.0 355.2 349.3 344.0 342.0 335.7 336.0 326.5 333.0 323.0 330.0 320.7 326.0 318.7 314.0 317.1 312.0 316.1 309.0 313.1 305.3 307.0 300.7 289.0 300.6 282.0 303.0 268.0 305.0 262.3 307.6 258.0 314.0 250.0 323.3 240.0 326.0 238.1 331.4 236.0 339.0 228.4 347.0 225.2 356.4 218.0 357.4 215.0 357.4 211.0 354.7 196.0 355.6 193.0 361.0 182.2 364.4 172.0 373.4 160.0 377.0 153.8 379.7 151.0 393.0 143.0 399.4 138.0 403.0 136.5 410.1 135.0 413.0 133.7 415.0 132.0 415.7 130.0 415.3 128.0 414.0 126.0 410.6 123.0 410.1 121.0 411.4 113.0 415.0 107.3 430.0 98.1 446.0 93.5 449.0 94.4 452.6 100.0 456.0 103.1 460.0 104.6 463.0 103.8 478.0 91.7 483.0 88.7 503.9 79.0 515.6 70.0 516.6 68.0 515.2 62.0ZM397.0 485.8 394.8 488.0 394.0 490.2 398.0 489.1 399.7 488.0 400.2 487.0 399.9 486.0 399.0 485.5ZM443.0 414.8 439.7 417.0 438.6 419.0 438.4 421.0 439.6 425.0 443.0 428.1 448.0 429.8 452.0 430.0 458.0 427.5 461.0 424.4 461.7 422.0 461.6 420.0 460.6 418.0 459.0 416.7 453.0 415.0 446.0 414.4ZM477.0 432.6 475.3 434.0 474.8 437.0 475.6 439.0 478.0 441.6 482.0 444.0 485.0 445.0 488.0 445.2 490.3 444.0 491.2 442.0 491.1 440.0 489.1 437.0 486.3 435.0 482.0 433.0 479.0 432.3ZM315.2 524.0 318.0 523.4 320.4 525.0 320.9 527.0 319.0 529.9 316.0 530.6 313.3 529.0 313.1 527.0Z"/><path fill="#00b8ff" d="M503.5 54.0 506.0 54.0 505.0 59.0 504.0 60.2 503.1 58.0ZM518.2 54.0 583.0 54.0 583.0 554.4 570.0 553.0 552.0 552.7 547.0 551.2 538.0 544.6 529.0 532.5 521.0 526.8 514.0 521.1 512.1 519.0 508.7 511.0 511.4 504.0 511.5 500.0 510.0 497.0 506.3 493.0 505.5 490.0 506.1 475.0 504.8 450.0 502.2 438.0 500.9 435.0 498.7 432.0 494.0 428.7 481.0 423.1 477.0 422.0 468.0 421.0 462.5 416.0 458.0 413.7 438.0 410.7 432.0 406.5 420.0 400.9 412.2 396.0 408.6 393.0 402.0 385.9 397.0 382.0 380.0 374.0 375.0 371.0 370.5 367.0 366.0 361.7 358.0 351.1 351.0 339.9 334.0 319.0 331.0 316.7 327.0 314.6 314.0 312.0 310.0 309.4 307.3 305.0 304.2 293.0 304.3 287.0 307.6 277.0 310.0 263.0 312.1 258.0 315.9 252.0 325.8 241.0 332.4 238.0 340.0 230.4 348.0 227.0 357.0 220.5 358.9 218.0 359.6 215.0 359.7 211.0 357.6 199.0 357.5 196.0 366.0 174.0 369.1 169.0 379.8 155.0 384.3 151.0 396.0 144.0 401.0 140.4 413.0 136.7 416.0 135.0 417.7 133.0 418.4 131.0 418.3 128.0 417.1 125.0 414.6 121.0 414.0 118.0 414.8 114.0 417.0 110.3 420.0 107.9 431.1 102.0 443.0 98.8 447.0 99.4 453.3 104.0 457.0 105.8 460.0 106.5 463.0 105.9 480.0 92.5 485.0 89.8 504.9 81.0 518.2 71.0 519.0 70.0 519.5 68.0 517.4 62.0ZM141.0 321.0 144.0 320.6 149.0 321.4 165.0 325.7 186.0 330.3 195.0 333.6 201.9 338.0 208.7 345.0 213.6 353.0 214.3 356.0 214.0 357.5 213.0 358.5 211.0 359.3 197.0 362.3 187.0 365.4 163.0 376.8 157.0 377.4 151.0 375.9 146.8 373.0 143.0 368.0 138.0 358.0 135.4 350.0 135.3 344.0 137.6 333.0 138.0 324.9 139.0 322.4ZM346.9 430.0 356.0 429.2 374.0 431.3 388.0 429.9 399.0 432.9 402.0 432.9 411.0 431.5 416.0 431.9 422.0 433.2 427.6 435.0 431.6 437.0 442.0 445.2 453.6 453.0 457.8 457.0 458.4 459.0 458.2 460.0 455.5 463.0 447.9 467.0 442.0 468.6 427.0 470.9 422.0 472.5 418.0 474.5 414.0 477.4 411.0 480.5 406.5 487.0 405.0 491.6 401.0 494.6 399.0 494.7 398.4 494.0 398.7 493.0 404.4 489.0 404.9 488.0 404.6 486.0 403.1 484.0 401.0 482.8 399.0 482.4 396.6 483.0 389.0 489.5 381.0 495.5 373.1 498.0 362.0 503.9 359.0 506.6 354.2 513.0 350.0 515.6 345.0 517.7 342.0 518.3 340.0 518.1 330.0 514.2 318.0 512.5 314.0 512.7 307.0 514.6 301.0 515.4 297.0 515.1 294.5 514.0 283.0 503.9 281.0 500.9 280.1 497.0 281.6 487.0 282.6 472.0 284.2 467.0 288.6 458.0 290.0 446.2 293.0 437.4 295.7 435.0 299.0 434.5 316.0 437.5 323.0 437.5Z"/><path fill="#00dcfe" d="M520.4 54.0 583.0 54.0 583.0 552.4 571.0 551.2 553.0 550.9 548.0 549.5 539.3 543.0 530.2 531.0 521.6 525.0 513.6 518.0 512.1 515.0 511.3 511.0 513.4 504.0 513.9 500.0 510.9 488.0 511.2 458.0 510.8 451.0 509.3 443.0 507.1 436.0 505.0 431.9 502.0 428.2 497.0 424.8 486.0 420.1 479.8 418.0 469.0 415.6 460.0 411.5 445.5 407.0 434.0 401.6 421.0 396.9 413.0 391.8 404.8 383.0 400.0 379.2 379.3 369.0 374.0 364.2 362.0 349.8 353.0 335.8 344.0 325.6 337.0 316.5 333.0 313.1 329.0 310.7 315.0 306.3 312.6 305.0 310.0 301.3 308.6 296.0 309.0 291.0 313.1 282.0 314.8 277.0 317.5 259.0 320.8 252.0 327.3 244.0 334.0 240.1 341.0 233.0 349.0 229.1 358.0 222.7 361.1 219.0 362.1 216.0 362.4 212.0 361.1 199.0 361.5 194.0 368.3 175.0 371.0 170.2 374.0 166.4 383.0 156.4 389.7 151.0 403.0 144.2 414.0 140.3 419.0 136.8 420.9 134.0 421.9 130.0 421.7 126.0 420.6 120.0 420.8 117.0 422.0 114.6 425.0 112.0 434.0 107.5 443.0 104.9 448.0 105.0 459.0 108.1 463.0 107.6 467.0 105.0 476.2 97.0 481.0 93.6 505.0 82.6 518.2 73.0 520.4 71.0 521.4 69.0 521.3 67.0 519.4 62.0ZM341.6 437.0 349.0 436.1 370.0 438.3 386.0 437.8 393.0 438.9 405.0 442.4 412.7 446.0 418.5 451.0 419.9 454.0 419.9 456.0 418.6 459.0 411.5 468.0 407.1 477.0 405.6 479.0 404.0 479.7 398.0 480.3 396.0 481.1 389.0 487.5 381.0 493.3 378.0 494.6 372.0 495.9 362.7 500.0 358.0 504.2 353.9 511.0 350.0 513.9 346.0 515.2 342.0 515.5 331.0 512.4 321.0 511.1 315.0 510.8 308.0 512.5 304.0 512.9 301.0 512.5 298.0 511.2 287.0 501.7 285.0 498.7 284.2 495.0 286.3 471.0 288.0 466.8 292.3 462.0 293.5 460.0 294.0 451.0 295.0 447.8 298.0 444.4 302.0 442.7 323.0 441.7Z"/><path fill="#16ffe1" d="M523.5 54.0 583.0 54.0 583.0 551.0 571.0 549.8 553.0 549.4 549.0 548.3 544.0 545.1 540.4 542.0 534.0 533.0 531.0 529.7 522.0 523.3 515.2 517.0 513.8 512.0 516.3 503.0 516.8 499.0 514.9 478.0 516.2 459.0 516.0 452.0 514.5 444.0 511.5 435.0 508.4 429.0 505.0 425.1 500.0 421.6 494.0 418.8 483.0 414.7 468.0 410.2 438.1 397.0 421.0 391.5 415.6 388.0 408.0 379.9 403.0 375.8 383.1 366.0 379.6 363.0 372.6 354.0 364.2 345.0 356.4 332.0 347.0 322.3 340.0 312.9 334.0 307.7 321.4 300.0 319.7 298.0 318.7 295.0 319.2 291.0 323.8 277.0 325.8 259.0 329.0 252.0 332.0 248.0 343.0 237.0 360.0 225.2 362.4 223.0 364.4 220.0 365.9 216.0 366.6 211.0 365.9 197.0 366.6 191.0 371.0 176.6 373.0 172.5 375.6 169.0 384.0 160.7 391.0 155.4 396.0 152.8 413.0 146.2 420.0 142.0 423.0 139.0 425.6 135.0 431.3 121.0 433.7 118.0 437.4 115.0 442.7 112.0 448.0 110.1 452.0 109.6 460.0 109.9 464.0 108.8 481.8 95.0 506.0 83.5 520.0 73.3 522.2 71.0 523.1 69.0 523.2 67.0 521.8 61.0ZM339.7 444.0 349.0 443.9 367.0 446.2 380.0 447.3 386.9 449.0 395.0 452.4 399.3 455.0 402.0 459.1 402.4 466.0 400.8 474.0 399.4 476.0 395.0 479.1 388.5 486.0 381.0 491.7 378.0 493.1 372.0 494.4 361.0 499.4 357.0 503.3 352.9 510.0 349.0 512.5 346.0 513.2 343.0 513.0 332.0 510.3 323.0 509.2 315.0 508.9 307.0 510.2 303.0 509.1 297.0 503.5 291.0 498.9 288.4 495.0 287.8 492.0 288.0 488.8 290.0 476.3 291.4 472.0 293.0 470.0 298.2 466.0 299.9 463.0 303.0 454.0 304.6 452.0 307.0 450.3 314.0 448.0Z"/><path fill="#33ffc4" d="M529.6 54.0 583.0 54.0 583.0 549.6 571.0 548.3 554.0 547.9 549.0 546.5 542.0 541.5 533.0 529.4 523.5 522.0 517.9 516.0 517.4 512.0 520.6 503.0 521.3 498.0 521.2 493.0 519.2 477.0 521.2 460.0 521.2 452.0 519.5 444.0 515.4 433.0 512.4 427.0 509.0 422.7 505.0 419.4 500.0 416.6 475.9 407.0 454.0 396.1 439.0 390.4 423.0 385.3 419.0 382.6 412.0 375.6 408.0 372.4 389.0 362.3 385.0 358.0 380.0 348.8 372.2 342.0 370.0 339.4 365.3 330.0 363.2 327.0 353.0 318.0 344.5 307.0 336.5 299.0 334.6 296.0 333.8 293.0 334.0 289.0 336.6 279.0 339.4 264.0 341.9 256.0 344.4 250.0 350.2 241.0 355.2 236.0 366.0 226.8 368.9 223.0 370.9 219.0 372.1 215.0 372.6 210.0 371.5 195.0 372.0 188.0 374.7 178.0 378.0 172.0 383.0 167.0 390.0 161.7 409.0 153.6 417.0 149.3 423.0 145.1 429.7 138.0 439.8 123.0 447.0 116.6 453.0 113.4 461.0 111.7 465.0 110.0 482.0 97.0 487.2 94.0 507.0 84.6 521.0 74.4 524.6 70.0 525.4 67.0 525.6 61.0ZM330.8 452.0 339.0 451.6 355.0 452.5 371.0 454.5 377.0 456.0 384.0 459.7 390.9 466.0 393.4 471.0 393.5 474.0 393.0 476.0 389.1 483.0 382.5 489.0 378.0 491.8 371.0 493.4 361.0 498.0 356.6 502.0 352.0 508.8 349.0 510.7 344.0 510.8 332.0 507.6 324.0 506.4 317.0 506.0 310.0 506.5 307.7 506.0 295.6 496.0 293.1 493.0 292.5 491.0 292.6 488.0 294.8 480.0 296.5 477.0 303.4 470.0 310.0 460.4 313.0 457.4 316.0 455.4 319.7 454.0Z"/><path fill="#50ffa7" d="M539.6 54.0 583.0 54.0 583.0 547.9 571.0 546.3 554.0 545.4 549.4 544.0 543.0 539.6 534.8 528.0 526.9 520.0 525.2 517.0 525.0 515.0 528.0 505.0 528.5 498.0 527.7 492.0 525.0 480.3 524.6 476.0 527.3 460.0 527.4 452.0 525.1 443.0 517.6 426.0 515.3 422.0 512.0 418.1 508.0 415.0 488.5 405.0 473.0 393.1 467.0 389.3 461.0 386.7 443.5 381.0 434.2 377.0 429.1 374.0 424.3 369.0 420.9 363.0 420.1 359.0 421.4 353.0 421.0 351.5 420.0 350.6 417.4 351.0 413.0 355.9 410.0 356.8 405.0 356.0 400.3 353.0 398.2 350.0 396.9 347.0 393.1 331.0 391.0 325.8 388.0 322.9 383.0 321.5 380.0 319.7 375.3 314.0 370.6 306.0 363.7 289.0 359.4 274.0 358.3 267.0 358.4 256.0 360.6 247.0 364.0 241.0 374.5 228.0 377.0 223.4 378.6 219.0 379.5 211.0 377.3 195.0 377.3 188.0 379.6 179.0 383.3 173.0 387.4 169.0 391.6 166.0 407.0 159.9 418.0 153.3 425.6 148.0 434.0 140.0 446.0 124.7 453.4 118.0 466.0 111.7 484.8 98.0 508.0 85.8 522.0 75.8 526.5 71.0 531.0 62.6 538.4 56.0ZM328.2 460.0 334.0 459.5 346.0 460.3 357.0 460.2 365.0 461.2 372.0 463.0 379.0 466.7 385.0 472.1 387.3 476.0 387.6 478.0 387.1 481.0 384.3 485.0 379.0 489.6 371.0 492.1 360.0 497.4 356.0 501.0 351.0 507.4 349.0 508.6 344.0 508.4 323.2 502.0 318.0 500.0 315.0 498.0 310.0 490.4 304.4 485.0 303.8 482.0 304.3 480.0 306.2 477.0 316.1 466.0 321.9 462.0Z"/><path fill="#70ff87" d="M551.5 54.0 583.0 54.0 583.0 544.8 574.4 543.0 566.1 540.0 557.0 532.7 553.0 532.1 547.0 533.5 545.0 532.1 544.0 530.4 543.3 526.0 545.7 516.0 545.2 508.0 542.6 499.0 535.7 483.0 534.0 477.0 534.1 472.0 536.9 457.0 536.9 451.0 535.9 446.0 533.4 440.0 527.6 431.0 523.3 420.0 521.0 415.6 517.3 411.0 509.8 404.0 506.9 400.0 505.7 396.0 505.6 389.0 503.2 384.0 496.0 376.2 484.4 367.0 482.7 364.0 481.4 356.0 479.8 352.0 476.6 348.0 468.0 340.5 463.0 338.1 457.0 337.6 452.8 339.0 446.0 343.6 443.0 343.7 441.0 342.5 434.9 337.0 423.6 329.0 420.0 324.3 415.0 314.6 404.9 298.0 399.2 291.0 386.0 277.2 380.5 270.0 376.4 262.0 374.9 255.0 375.1 250.0 376.3 245.0 383.7 228.0 386.1 220.0 386.4 212.0 383.5 196.0 383.1 189.0 384.6 181.0 386.6 177.0 388.9 174.0 394.8 169.0 409.0 163.3 427.0 151.4 436.7 143.0 450.3 127.0 457.7 120.0 487.2 100.0 512.0 85.7 525.0 76.4 535.0 66.7 548.9 57.0ZM330.9 468.0 336.0 467.4 356.0 467.4 366.0 469.0 372.0 471.6 378.0 476.1 381.1 480.0 381.2 483.0 379.6 486.0 377.5 488.0 370.0 490.8 360.0 496.1 350.0 505.7 347.0 506.4 343.0 505.6 331.2 501.0 324.2 497.0 320.1 493.0 317.0 487.0 316.2 484.0 316.4 481.0 318.7 476.0 324.0 470.9 327.0 469.2Z"/><path fill="#8dff6a" d="M564.5 55.0 565.1 54.0 583.0 54.0 583.0 400.8 581.0 399.4 564.1 379.0 560.7 372.0 556.3 358.0 553.5 354.0 550.1 351.0 545.4 348.0 539.0 345.0 523.0 339.9 512.0 338.5 490.0 338.3 485.0 337.5 481.0 335.9 465.0 319.9 449.0 308.7 439.4 298.0 431.6 291.0 423.1 285.0 407.0 276.1 399.1 270.0 394.6 265.0 391.0 259.0 388.6 253.0 387.7 248.0 388.2 241.0 391.9 226.0 392.9 218.0 392.6 212.0 389.4 196.0 389.1 187.0 390.4 181.0 394.2 175.0 399.0 171.3 407.2 168.0 412.8 165.0 433.0 151.0 442.0 143.0 458.1 125.0 466.7 118.0 486.0 105.0 512.0 89.3 538.0 71.6 560.6 58.0ZM336.7 475.0 354.0 474.3 362.0 475.3 366.3 477.0 370.6 480.0 372.9 483.0 373.0 485.0 371.4 487.0 366.1 491.0 359.0 495.2 350.0 503.0 347.0 503.7 344.0 503.2 336.5 500.0 330.4 496.0 326.7 492.0 325.0 488.0 325.4 483.0 328.0 479.0 332.0 476.3Z"/><path fill="#aaff4d" d="M580.6 55.0 581.6 54.0 583.0 54.0 583.0 344.7 581.0 343.9 569.0 335.6 556.3 330.0 539.0 324.6 508.0 317.1 499.0 313.9 491.0 308.8 477.6 295.0 471.0 290.3 465.9 288.0 449.0 282.5 430.0 275.4 416.0 269.4 408.0 264.5 404.3 261.0 401.0 256.6 398.6 252.0 397.1 247.0 396.7 241.0 398.4 228.0 398.5 218.0 397.8 212.0 395.0 199.0 394.3 190.0 394.5 186.0 395.5 182.0 397.0 179.0 399.6 176.0 402.4 174.0 415.7 167.0 437.1 152.0 446.0 144.0 461.7 127.0 470.0 120.0 490.0 107.0 536.0 79.6ZM345.6 481.0 353.0 480.6 358.0 481.2 362.0 483.0 364.1 486.0 363.9 488.0 362.5 490.0 352.0 499.0 348.0 500.7 343.9 500.0 338.3 497.0 335.0 494.0 333.0 490.0 333.6 486.0 336.0 483.3 340.0 481.7Z"/><path fill="#c7ff30" d="M582.3 64.0 583.0 63.9 583.0 326.1 562.0 317.7 528.0 307.0 515.0 302.0 505.0 296.5 485.4 282.0 477.0 277.4 472.0 276.0 455.0 273.7 443.0 270.6 426.0 264.2 415.0 258.1 411.6 255.0 409.0 251.5 406.6 247.0 405.3 243.0 404.4 223.0 402.7 213.0 399.5 199.0 398.7 191.0 399.0 187.0 400.0 183.5 401.3 181.0 404.0 178.1 420.0 168.0 441.2 153.0 450.1 145.0 465.1 129.0 475.0 121.0 496.0 108.2 532.0 88.2 562.0 73.0 578.0 65.5ZM344.3 488.0 349.0 487.1 353.0 487.4 355.3 489.0 355.4 491.0 353.4 494.0 351.0 495.8 349.0 496.5 346.0 496.3 343.0 494.5 341.5 492.0 342.0 489.7Z"/><path fill="#e4ff13" d="M580.2 73.0 583.0 72.4 583.0 312.3 538.0 298.3 523.0 292.8 510.0 286.4 488.1 273.0 480.0 269.0 475.0 268.0 462.0 267.3 453.0 265.5 439.0 260.6 428.4 255.0 424.0 251.5 420.6 248.0 415.9 240.0 404.8 203.0 402.9 192.0 404.0 185.6 405.5 183.0 408.0 180.3 445.0 154.3 453.1 147.0 468.0 131.5 478.0 123.6 497.0 112.4 527.0 96.8 554.0 84.1Z"/><path fill="#ffea00" d="M581.5 81.0 583.0 80.8 583.0 300.2 547.0 290.6 530.0 285.3 516.0 279.6 492.5 268.0 484.0 264.5 478.0 263.0 464.0 261.5 455.0 259.2 445.0 254.7 436.0 248.4 430.0 242.0 424.5 234.0 411.3 207.0 408.6 199.0 407.5 193.0 408.3 188.0 410.8 184.0 415.3 180.0 448.0 156.3 456.0 149.1 471.8 133.0 484.0 124.3 504.0 113.6 530.0 101.3 558.0 89.6Z"/><path fill="#ffc800" d="M578.9 90.0 583.0 89.2 583.0 289.2 557.0 283.6 539.0 279.1 522.0 273.6 489.5 261.0 483.0 259.3 464.0 255.8 454.9 252.0 446.0 246.0 439.9 240.0 433.4 232.0 417.0 205.4 414.4 199.0 413.4 194.0 413.9 190.0 416.2 186.0 425.1 178.0 451.4 158.0 459.0 151.1 473.0 137.0 478.0 132.9 485.0 128.4 503.0 119.0 527.0 108.5 552.0 98.9Z"/><path fill="#ffa300" d="M580.3 98.0 583.0 97.6 583.0 278.7 559.0 274.8 539.0 270.7 523.0 266.3 493.0 256.7 470.0 251.9 460.0 247.6 451.2 241.0 445.0 234.7 439.0 227.1 426.2 208.0 422.7 202.0 421.0 197.0 421.0 192.0 422.6 188.0 425.8 184.0 434.5 176.0 457.0 158.1 476.0 139.4 481.0 135.6 488.0 131.4 506.0 122.6 529.0 113.5 554.0 105.2Z"/><path fill="#ff8200" d="M577.9 107.0 583.0 106.3 583.0 268.5 559.0 265.9 538.0 262.6 523.0 259.3 495.0 251.9 476.5 248.0 471.0 246.3 466.0 244.0 461.0 240.7 455.5 236.0 449.0 229.1 442.8 221.0 433.4 207.0 429.9 200.0 428.8 195.0 429.4 191.0 431.3 187.0 435.3 182.0 441.6 176.0 460.0 160.5 478.0 143.1 484.0 138.7 491.0 134.6 508.0 126.9 530.0 119.1 553.0 112.6Z"/><path fill="#ff6000" d="M576.1 116.0 583.0 115.3 583.0 258.3 558.0 257.1 537.0 254.9 519.0 251.8 485.0 244.4 476.4 242.0 470.0 239.2 464.0 235.1 457.5 229.0 450.6 221.0 443.6 211.0 439.5 204.0 437.3 198.0 437.0 193.0 438.5 188.0 441.8 183.0 447.5 177.0 463.0 163.2 480.0 147.0 487.0 142.0 496.0 137.2 512.0 130.8 532.0 124.7 553.0 119.8Z"/><path fill="#ff3f00" d="M579.4 125.0 583.0 124.9 583.0 247.7 557.0 248.4 535.0 247.3 511.0 244.1 486.7 239.0 477.0 235.7 469.0 230.9 460.0 222.6 451.6 212.0 446.9 204.0 444.9 198.0 444.8 192.0 446.6 187.0 450.0 182.0 455.6 176.0 477.0 155.5 486.0 148.3 493.0 144.1 502.0 140.0 513.0 136.1 525.0 132.7 551.0 127.7Z"/><path fill="#ff1e00" d="M545.9 136.0 564.0 135.0 583.0 135.5 583.0 236.4 562.0 239.0 546.0 239.9 529.0 239.6 512.0 238.1 496.0 235.4 485.0 232.3 476.0 227.9 468.0 221.8 462.0 215.7 456.9 209.0 453.8 203.0 452.1 197.0 452.3 192.0 453.6 188.0 456.6 183.0 461.6 177.0 481.0 158.1 488.0 152.9 496.0 148.4 506.0 144.2 518.0 140.7 531.0 138.0Z"/><path fill="#e40000" d="M533.0 145.0 545.0 144.3 558.0 144.6 569.0 145.8 583.0 148.2 583.0 223.3 564.0 228.2 549.0 230.9 533.0 232.2 517.0 232.0 502.0 230.4 490.0 227.6 481.0 223.6 472.0 217.2 466.6 212.0 462.8 207.0 460.4 202.0 459.3 197.0 459.5 193.0 461.0 188.0 463.8 183.0 468.4 177.0 475.0 170.0 482.9 163.0 489.0 158.5 496.0 154.5 504.0 151.1 513.0 148.4 523.0 146.3Z"/><path fill="#b60000" d="M521.8 154.0 539.0 153.4 555.0 155.4 568.0 159.2 583.0 166.6 583.0 204.5 581.0 205.3 568.8 213.0 556.0 218.5 541.0 222.5 525.0 224.6 509.0 224.7 495.0 222.5 485.0 218.8 474.7 212.0 471.0 208.5 468.5 205.0 466.8 201.0 466.2 197.0 466.5 193.0 468.1 188.0 470.7 183.0 473.6 179.0 478.2 174.0 483.9 169.0 495.0 161.8 507.0 157.0Z"/><path fill="#8d0000" d="M518.3 163.0 530.0 163.1 541.0 165.1 551.0 169.0 558.0 174.0 562.3 180.0 563.4 183.0 563.8 187.0 563.1 191.0 561.9 194.0 557.7 200.0 550.3 206.0 540.7 211.0 529.0 214.8 516.0 216.8 504.0 216.9 494.0 215.2 485.0 211.8 477.0 206.6 474.8 204.0 473.3 201.0 472.7 195.0 473.6 191.0 475.2 187.0 480.0 180.3 488.0 173.5 497.0 168.4 507.0 164.8Z"/></g>
<g clip-path="url(#axclip)"><use href="#landfill"/><use href="#landshape" fill="none" stroke="#000" stroke-width="1.3" stroke-linejoin="round"/><use href="#lakes" fill="#b5d6ee" stroke="#000" stroke-width="1.25" stroke-linejoin="round"/><use href="#slakes" fill="#b5d6ee" stroke="#000" stroke-width="0.9"/><use href="#rivers" fill="none" stroke="#000" stroke-width="1.1"/><use href="#small" fill="#2e7d32" stroke="#000" stroke-width="1"/><use href="#marac" fill="#fff" stroke="#000" stroke-width="0.9"/></g>
<rect x="110.2" y="53.9" width="472.2" height="529.0" fill="none" stroke="#000" stroke-width="1.7"/><line x1="110.2" y1="508.9" x2="126.8" y2="508.9" stroke="#000" stroke-width="2.1"/><text x="104.3" y="515.3" text-anchor="end" font-size="21.3">10°N</text><line x1="110.2" y1="400.0" x2="126.8" y2="400.0" stroke="#000" stroke-width="2.1"/><text x="104.3" y="406.4" text-anchor="end" font-size="21.3">20°N</text><line x1="110.2" y1="283.8" x2="126.8" y2="283.8" stroke="#000" stroke-width="2.1"/><text x="104.3" y="290.2" text-anchor="end" font-size="21.3">30°N</text><line x1="110.2" y1="155.2" x2="126.8" y2="155.2" stroke="#000" stroke-width="2.1"/><text x="104.3" y="161.6" text-anchor="end" font-size="21.3">40°N</text><line x1="204.6" y1="582.9" x2="204.6" y2="566.3" stroke="#000" stroke-width="2.1"/><text x="204.8" y="606.1" text-anchor="middle" font-size="21.3">90°W</text><line x1="414.4" y1="582.9" x2="414.4" y2="566.3" stroke="#000" stroke-width="2.1"/><text x="414.6" y="606.1" text-anchor="middle" font-size="21.3">70°W</text><text x="346.4" y="40.3" text-anchor="middle" font-size="28.6">DJF</text><text x="346.4" y="656.8" text-anchor="middle" font-size="25.6">Longitude</text><text transform="translate(32 321.3) rotate(-90)" text-anchor="middle" font-size="25.7">Latitude</text><g shape-rendering="crispEdges"><rect x="612.0" y="560.86" width="27.0" height="22.34" fill="#0024ff"/><rect x="612.0" y="538.82" width="27.0" height="22.34" fill="#0048ff"/><rect x="612.0" y="516.77" width="27.0" height="22.34" fill="#0070ff"/><rect x="612.0" y="494.73" width="27.0" height="22.34" fill="#0094ff"/><rect x="612.0" y="472.69" width="27.0" height="22.34" fill="#00b8ff"/><rect x="612.0" y="450.65" width="27.0" height="22.34" fill="#00dcfe"/><rect x="612.0" y="428.61" width="27.0" height="22.34" fill="#16ffe1"/><rect x="612.0" y="406.57" width="27.0" height="22.34" fill="#33ffc4"/><rect x="612.0" y="384.52" width="27.0" height="22.34" fill="#50ffa7"/><rect x="612.0" y="362.48" width="27.0" height="22.34" fill="#70ff87"/><rect x="612.0" y="340.44" width="27.0" height="22.34" fill="#8dff6a"/><rect x="612.0" y="318.40" width="27.0" height="22.34" fill="#aaff4d"/><rect x="612.0" y="296.36" width="27.0" height="22.34" fill="#c7ff30"/><rect x="612.0" y="274.32" width="27.0" height="22.34" fill="#e4ff13"/><rect x="612.0" y="252.27" width="27.0" height="22.34" fill="#ffea00"/><rect x="612.0" y="230.23" width="27.0" height="22.34" fill="#ffc800"/><rect x="612.0" y="208.19" width="27.0" height="22.34" fill="#ffa300"/><rect x="612.0" y="186.15" width="27.0" height="22.34" fill="#ff8200"/><rect x="612.0" y="164.11" width="27.0" height="22.34" fill="#ff6000"/><rect x="612.0" y="142.07" width="27.0" height="22.34" fill="#ff3f00"/><rect x="612.0" y="120.02" width="27.0" height="22.34" fill="#ff1e00"/><rect x="612.0" y="97.98" width="27.0" height="22.34" fill="#e40000"/><rect x="612.0" y="75.94" width="27.0" height="22.34" fill="#b60000"/><rect x="612.0" y="53.90" width="27.0" height="22.34" fill="#8d0000"/></g><rect x="612.0" y="53.9" width="27.0" height="529.0" fill="none" stroke="#000" stroke-width="1.7"/><line x1="639.0" y1="582.9" x2="646.5" y2="582.9" stroke="#000" stroke-width="1.7"/><text x="654.3" y="590.9" font-size="21.3">0.0</text><line x1="639.0" y1="516.8" x2="646.5" y2="516.8" stroke="#000" stroke-width="1.7"/><text x="654.3" y="524.8" font-size="21.3">7.5</text><line x1="639.0" y1="450.6" x2="646.5" y2="450.6" stroke="#000" stroke-width="1.7"/><text x="654.3" y="458.6" font-size="21.3">15.0</text><line x1="639.0" y1="384.5" x2="646.5" y2="384.5" stroke="#000" stroke-width="1.7"/><text x="654.3" y="392.5" font-size="21.3">22.5</text><line x1="639.0" y1="318.4" x2="646.5" y2="318.4" stroke="#000" stroke-width="1.7"/><text x="654.3" y="326.4" font-size="21.3">30.0</text><line x1="639.0" y1="252.3" x2="646.5" y2="252.3" stroke="#000" stroke-width="1.7"/><text x="654.3" y="260.3" font-size="21.3">37.5</text><line x1="639.0" y1="186.1" x2="646.5" y2="186.1" stroke="#000" stroke-width="1.7"/><text x="654.3" y="194.1" font-size="21.3">45.0</text><line x1="639.0" y1="120.0" x2="646.5" y2="120.0" stroke="#000" stroke-width="1.7"/><text x="654.3" y="128.0" font-size="21.3">52.5</text><line x1="639.0" y1="53.9" x2="646.5" y2="53.9" stroke="#000" stroke-width="1.7"/><text x="654.3" y="61.9" font-size="21.3">60.0</text><text x="603" y="40.3" font-size="25.6">kw m<tspan dy="-9.7" font-size="17.9">−1</tspan></text>
</g>
<g transform="translate(708.5,0.0)">
<g clip-path="url(#dataclip)"><rect x="110" y="54" width="473" height="529" fill="#0024ff"/><path fill="#0048ff" d="M523.8 55.0 524.8 54.0 583.0 54.0 583.0 583.0 481.9 583.0 478.9 560.0 478.7 550.0 479.2 541.0 480.4 532.0 482.2 524.0 489.4 503.0 488.3 502.0 484.3 501.0 477.0 500.2 469.0 503.6 464.0 503.1 461.0 502.3 455.0 499.2 438.0 497.2 432.0 494.0 426.0 492.3 421.0 492.7 416.5 494.0 409.0 505.4 402.0 513.3 393.2 520.0 384.0 524.2 376.0 525.9 368.0 526.2 360.0 525.4 349.0 522.9 346.0 523.9 343.0 527.0 341.0 527.7 333.7 523.0 331.0 522.3 329.1 523.0 328.5 527.0 326.9 530.0 326.9 532.0 329.4 538.0 332.7 543.0 332.7 545.0 331.0 549.3 329.0 552.6 326.0 554.8 322.0 556.6 301.0 563.7 292.0 565.7 284.0 566.5 276.0 566.5 269.0 565.7 262.0 563.8 255.0 560.8 247.9 556.0 242.1 550.0 237.7 543.0 235.0 535.5 233.8 527.0 234.6 518.0 237.1 510.0 239.0 506.7 241.0 504.8 242.0 504.6 243.0 505.1 247.5 510.0 253.0 512.7 255.0 513.3 259.0 512.5 265.8 515.0 267.8 517.0 272.0 524.0 276.0 525.1 279.0 527.9 281.0 528.1 286.0 527.1 292.0 529.4 297.0 532.5 300.4 538.0 302.0 538.4 305.0 538.0 307.7 536.0 308.1 535.0 304.3 530.0 304.0 525.9 290.0 523.6 286.0 521.9 281.0 518.5 277.1 514.0 271.3 503.0 269.5 497.0 271.0 492.0 271.3 487.0 274.4 474.0 277.4 466.0 278.6 455.0 277.5 451.0 275.0 448.4 264.0 442.4 257.0 440.7 239.0 438.4 233.0 435.9 229.0 432.2 227.0 427.4 227.1 420.0 229.8 414.0 229.5 408.0 231.2 397.0 235.0 392.1 236.7 387.0 236.0 384.9 232.9 383.0 226.0 382.4 208.5 384.0 201.0 386.3 198.5 388.0 195.0 392.3 188.1 398.0 181.0 406.0 174.0 410.8 168.8 413.0 159.0 415.3 152.0 412.1 146.0 410.9 144.0 409.6 139.4 404.0 130.3 390.0 128.0 382.5 124.2 375.0 123.1 370.0 123.7 349.0 129.0 332.2 127.5 320.0 129.7 314.0 133.7 309.0 137.0 306.5 155.0 296.5 159.0 294.9 168.0 294.4 185.0 296.9 196.0 297.4 206.0 296.2 212.0 297.6 214.9 297.0 216.6 296.0 219.0 292.2 220.0 291.5 224.0 291.4 243.0 296.8 249.0 299.4 253.0 302.0 257.2 307.0 265.0 322.0 270.0 327.0 275.0 329.0 282.0 329.4 285.0 330.2 293.0 334.9 296.0 340.7 298.0 342.2 305.0 342.0 307.0 341.1 309.5 338.0 310.7 335.0 311.0 332.0 310.3 323.0 309.4 320.0 303.6 308.0 302.1 301.0 298.3 293.0 295.7 286.0 294.4 280.0 294.5 273.0 296.4 264.0 302.1 253.0 305.0 243.0 308.5 234.0 314.8 222.0 323.0 210.0 332.2 199.0 345.0 186.0 348.0 178.7 349.0 178.2 353.0 178.0 355.0 175.9 357.5 172.0 358.1 166.0 359.0 165.0 363.0 164.3 369.0 157.6 371.0 153.3 372.5 148.0 379.3 144.0 379.6 141.0 381.2 139.0 389.1 134.0 401.0 122.7 405.1 118.0 407.8 112.0 414.0 104.4 423.3 99.0 428.0 93.9 433.9 93.0 438.5 91.0 444.0 88.0 449.0 83.9 465.0 80.3 465.8 81.0 460.9 88.0 460.1 90.0 461.0 90.6 463.0 90.5 479.0 87.0 505.4 78.0 519.0 69.8 519.7 68.0 517.7 64.0 517.8 62.0 520.0 58.3ZM327.0 340.8 322.0 346.3 314.0 349.8 302.0 358.1 293.0 360.5 280.0 362.4 272.0 365.4 266.0 369.9 260.5 378.0 263.0 379.2 271.0 378.4 273.0 379.0 275.0 384.0 277.0 386.5 296.0 399.1 300.0 400.7 312.0 401.5 321.0 404.7 327.0 404.5 332.0 405.1 346.0 402.7 362.0 402.1 370.0 400.0 371.8 398.0 371.6 395.0 365.7 388.0 362.6 379.0 357.8 371.0 350.0 362.4 339.0 354.3 334.0 345.0 332.4 343.0 329.0 340.8ZM380.0 399.0 377.8 400.0 377.3 401.0 377.5 403.0 378.4 404.0 383.5 407.0 386.2 415.0 385.0 416.2 382.0 416.7 372.0 414.9 369.9 416.0 369.7 417.0 371.0 418.0 377.2 419.0 389.0 419.7 395.0 421.8 399.0 424.5 400.0 424.2 402.5 421.0 404.0 420.2 409.0 419.6 416.0 417.6 428.0 419.0 429.0 418.6 430.3 417.0 430.3 415.0 428.9 413.0 423.0 410.3 420.8 408.0 417.0 406.7 414.0 403.4 411.1 402.0 407.0 400.8 398.0 399.5 391.0 399.7 385.0 398.6ZM445.0 417.6 444.0 418.2 443.6 420.0 444.0 421.3 445.0 422.1 449.0 422.3 456.0 421.7 457.5 421.0 457.9 420.0 457.4 419.0 455.0 418.0ZM328.0 415.0 325.0 415.5 324.0 416.5 323.8 418.0 325.5 420.0 331.0 422.7 334.0 423.3 338.0 423.2 343.7 421.0 343.2 420.0 340.0 417.9 332.0 415.2Z"/><path fill="#0070ff" d="M553.8 55.0 555.6 54.0 583.0 54.0 583.0 583.0 573.1 583.0 571.2 580.0 566.0 574.6 555.0 565.4 544.5 559.0 523.0 548.1 518.0 544.8 514.0 541.2 510.0 536.4 506.7 530.0 505.3 525.0 504.6 517.0 503.9 515.0 494.9 507.0 495.0 505.0 497.1 502.0 497.1 501.0 496.0 500.0 491.3 498.0 489.1 496.0 486.0 485.6 484.0 482.3 482.0 481.1 480.0 481.1 478.0 481.9 465.0 489.8 459.0 491.4 453.0 490.6 443.0 486.1 438.0 484.8 431.0 485.1 420.0 488.4 416.0 486.0 414.0 485.6 413.0 486.0 411.5 488.0 410.0 493.1 404.0 496.4 399.0 498.0 396.3 497.0 394.3 494.0 395.0 491.3 399.1 489.0 400.4 487.0 400.2 486.0 399.1 485.0 397.0 484.9 381.0 495.3 372.6 497.0 369.0 499.5 364.0 500.7 361.0 502.4 358.0 505.1 355.5 511.0 354.0 513.0 341.0 522.2 339.0 521.6 330.0 516.0 316.0 512.8 313.0 513.0 298.0 518.9 294.0 518.9 291.0 518.1 282.9 511.0 277.3 505.0 275.3 502.0 273.8 497.0 278.9 478.0 283.6 465.0 285.6 449.0 285.3 446.0 282.0 441.3 275.0 436.3 267.0 432.6 248.1 426.0 242.0 422.5 238.0 418.8 236.0 414.2 234.6 408.0 235.5 399.0 239.0 394.0 241.3 388.0 240.9 384.0 239.0 381.2 236.0 379.3 233.0 378.3 226.0 377.8 215.0 378.1 200.0 375.2 193.0 374.8 187.0 376.0 181.1 379.0 176.7 383.0 169.4 392.0 167.0 393.6 164.0 394.6 155.0 395.3 147.0 394.3 142.0 392.0 137.0 387.6 130.0 373.4 128.8 367.0 129.1 349.0 133.8 333.0 133.8 321.0 136.0 317.4 139.0 315.0 143.0 313.2 154.0 310.7 171.0 309.9 189.0 311.2 204.0 308.9 209.0 309.0 213.0 310.0 217.0 312.0 222.1 316.0 227.3 321.0 232.1 327.0 242.4 343.0 254.4 358.0 256.9 363.0 257.6 367.0 257.1 371.0 253.8 377.0 253.8 379.0 255.0 381.3 262.6 386.0 273.0 398.8 296.0 415.6 306.9 427.0 312.0 430.9 316.0 432.3 320.0 432.3 330.0 427.6 339.0 427.0 344.0 425.5 350.0 424.6 351.2 423.0 351.0 420.0 349.9 418.0 346.9 415.0 346.1 413.0 347.8 411.0 353.0 409.9 358.0 410.0 362.1 411.0 363.0 412.3 363.0 417.0 363.6 419.0 366.0 421.3 377.0 423.1 388.4 424.0 393.0 425.6 397.0 428.6 399.0 429.4 402.0 428.8 405.0 426.0 407.0 425.0 417.0 423.3 429.0 424.4 432.6 423.0 435.7 419.0 436.4 417.0 435.5 414.0 432.0 410.0 427.0 406.7 424.0 403.8 420.0 401.8 415.0 397.1 401.0 389.6 389.5 381.0 370.0 368.2 341.0 345.1 331.8 336.0 329.7 333.0 329.9 330.0 333.2 326.0 334.0 324.0 333.7 321.0 332.0 319.0 328.0 317.5 317.0 315.8 313.0 313.6 310.0 310.6 307.2 306.0 306.0 301.0 301.8 292.0 299.0 283.6 298.1 275.0 299.7 266.0 302.0 261.3 304.3 258.0 319.0 243.0 323.0 237.8 325.0 236.4 330.5 235.0 338.0 225.8 340.0 224.4 344.2 223.0 345.3 222.0 352.0 208.4 351.4 200.0 349.5 194.0 350.0 190.5 352.0 191.8 353.0 191.4 357.0 186.5 361.2 178.0 362.6 171.0 372.0 159.6 375.8 150.0 390.8 142.0 392.3 141.0 393.7 138.0 395.1 137.0 402.0 133.7 409.0 132.0 410.2 131.0 408.2 128.0 406.4 123.0 406.5 122.0 409.3 118.0 410.3 114.0 416.0 107.4 425.0 101.5 430.0 97.0 435.0 95.7 451.0 88.7 452.0 89.0 452.5 90.0 453.3 98.0 454.9 101.0 458.7 104.0 462.0 104.7 468.0 101.0 476.0 94.6 482.0 91.3 502.0 84.1 508.3 81.0 513.5 77.0 521.9 72.0 523.8 70.0 526.8 65.0 529.0 63.4 535.0 60.9ZM442.0 413.8 439.1 416.0 437.7 419.0 438.8 424.0 441.0 426.6 444.0 427.8 454.0 429.7 458.0 428.8 461.0 426.2 462.4 423.0 462.8 420.0 462.4 418.0 461.0 416.4 455.0 414.3 445.0 413.3ZM487.0 451.8 485.5 453.0 485.3 455.0 486.1 457.0 487.0 457.6 488.0 457.6 489.5 456.0 489.6 454.0 489.0 452.8ZM315.7 523.0 319.0 523.1 321.0 524.1 322.8 526.0 323.0 527.0 320.7 533.0 320.0 534.3 318.0 535.4 315.0 534.0 311.0 530.6 310.3 529.0ZM283.1 534.0 286.0 533.6 288.9 535.0 291.0 537.0 291.1 539.0 289.9 540.0 287.0 540.6 284.0 540.3 280.9 539.0 279.4 537.0 280.1 536.0Z"/><path fill="#0094ff" d="M580.7 60.0 583.0 59.7 583.0 552.5 571.0 551.3 552.0 551.2 549.0 550.4 539.3 543.0 535.0 536.8 530.0 531.2 521.0 526.2 511.9 520.0 508.4 514.0 503.9 511.0 503.2 510.0 503.6 509.0 508.0 507.1 508.9 506.0 509.6 502.0 509.0 500.4 507.0 499.6 500.0 499.1 496.2 496.0 495.4 494.0 495.7 486.0 500.0 461.4 500.5 455.0 500.0 450.7 498.6 446.0 496.0 440.7 493.0 436.6 487.0 430.8 474.0 421.1 465.0 413.4 459.0 410.8 438.0 403.7 432.0 400.8 427.0 397.2 416.0 387.5 402.0 379.4 387.0 368.7 367.0 356.4 362.0 352.7 346.7 339.0 343.0 334.0 342.2 329.0 344.3 319.0 344.4 316.0 343.4 313.0 341.2 310.0 338.0 307.7 334.0 306.2 317.0 303.8 314.0 302.4 312.0 300.5 308.6 295.0 306.2 289.0 304.9 283.0 304.3 275.0 304.8 267.0 306.9 261.0 314.5 251.0 320.3 245.0 324.0 240.0 326.0 238.5 331.7 237.0 339.0 228.0 341.0 226.8 346.0 225.8 351.0 221.2 356.0 217.7 356.5 216.0 356.2 211.0 353.3 198.0 353.3 195.0 360.7 184.0 363.3 178.0 365.0 172.1 374.3 160.0 378.0 152.7 382.7 149.0 394.0 142.4 398.0 137.8 403.0 135.5 409.0 134.4 414.3 132.0 415.3 130.0 415.0 127.7 413.0 124.7 410.4 123.0 410.3 122.0 413.0 116.6 417.0 111.8 430.5 101.0 439.0 97.2 447.0 95.0 449.0 95.9 452.2 101.0 454.9 104.0 459.0 106.4 462.0 107.0 464.2 106.0 476.0 97.3 480.0 95.0 485.0 92.7 506.0 85.3 516.0 79.6 532.0 71.9 552.0 66.1ZM342.1 431.0 347.0 430.6 364.0 432.9 378.0 432.4 385.0 432.8 389.0 433.6 398.0 436.6 414.0 439.3 423.0 441.6 433.0 446.2 446.0 455.7 455.9 462.0 459.5 466.0 460.2 468.0 460.2 470.0 459.0 472.0 456.0 473.0 445.0 469.5 441.0 469.6 437.0 470.7 431.0 474.0 421.0 482.1 419.0 482.9 415.0 482.8 413.0 483.4 409.6 487.0 407.5 492.0 400.0 495.4 398.0 494.7 398.0 493.0 402.1 490.0 403.2 488.0 403.1 486.0 400.7 483.0 398.0 482.2 396.0 482.4 389.7 487.0 380.0 493.0 378.0 493.7 372.0 494.2 368.0 496.6 362.0 498.0 356.4 503.0 353.4 510.0 352.0 511.7 347.0 514.9 342.0 516.8 339.0 516.7 331.0 513.6 315.0 510.2 313.0 510.3 298.0 514.7 295.0 514.7 293.0 514.0 284.4 506.0 281.9 502.0 281.3 499.0 285.3 482.0 291.9 465.0 292.2 462.0 291.7 455.0 293.6 447.0 294.3 438.0 295.0 436.4 297.0 435.4 300.0 435.7 316.0 440.7 321.0 441.1 324.0 440.4 327.0 439.0 334.8 433.0Z"/><path fill="#00b8ff" d="M576.7 72.0 583.0 71.2 583.0 550.9 571.0 549.6 554.0 549.6 550.0 548.9 546.0 546.4 540.8 542.0 536.5 536.0 531.0 529.9 522.1 525.0 513.0 518.9 510.0 513.4 507.7 511.0 507.4 510.0 510.2 507.0 511.1 503.0 511.0 499.9 509.0 498.0 503.0 496.3 501.2 494.0 501.3 490.0 505.6 473.0 506.4 462.0 506.4 453.0 505.5 446.0 503.4 439.0 500.7 433.0 497.0 427.4 490.0 419.7 483.4 415.0 468.0 407.1 435.0 392.5 421.6 381.0 405.0 372.0 391.0 360.6 375.4 351.0 367.0 344.7 358.1 336.0 354.1 330.0 353.1 325.0 354.1 316.0 354.0 311.0 352.8 307.0 351.0 304.0 348.0 300.9 343.0 297.9 337.0 295.8 324.0 292.7 319.3 290.0 317.3 287.0 315.9 283.0 314.3 270.0 315.0 263.0 317.3 256.0 319.3 252.0 326.0 242.2 327.5 241.0 333.0 238.7 340.7 229.0 347.0 227.2 352.0 222.4 357.0 219.1 357.7 218.0 357.7 211.0 355.3 199.0 355.3 196.0 362.6 185.0 365.4 179.0 367.1 174.0 371.0 168.0 382.7 153.0 396.0 143.2 399.0 139.8 403.0 137.5 409.0 136.2 416.0 132.7 417.0 130.0 415.5 122.0 416.3 119.0 420.0 115.0 432.0 104.8 439.0 101.2 445.0 100.2 448.0 101.3 456.0 106.9 460.0 108.6 462.0 108.8 465.0 107.5 477.0 100.2 481.6 98.0 521.0 84.1 546.0 77.5ZM341.3 447.0 346.0 446.8 358.0 450.5 364.0 451.4 370.0 451.1 383.0 448.9 387.0 448.9 398.0 452.6 409.0 455.4 415.0 458.4 418.4 462.0 419.8 467.0 419.0 473.0 417.7 476.0 416.1 478.0 407.0 485.4 406.0 485.3 402.0 481.1 399.0 480.1 396.0 480.0 379.0 491.3 371.0 492.6 367.0 495.1 362.0 496.1 356.9 500.0 354.3 503.0 351.0 508.7 348.0 510.4 343.0 511.1 337.0 510.7 326.5 509.0 315.0 506.1 308.3 505.0 305.0 503.5 301.2 500.0 297.0 494.7 295.2 491.0 294.8 487.0 296.6 481.0 302.7 471.0 307.9 458.0 310.0 456.0 312.3 455.0 324.0 454.1 329.0 453.1Z"/><path fill="#00dcfe" d="M579.3 83.0 583.0 82.8 583.0 549.0 571.0 547.5 554.0 547.4 551.0 546.9 542.9 541.0 537.6 534.0 532.0 528.2 523.8 524.0 514.0 517.5 510.9 511.0 512.4 505.0 512.7 499.0 511.7 497.0 508.5 494.0 507.7 492.0 508.3 489.0 511.8 481.0 513.1 476.0 512.1 445.0 510.4 437.0 507.5 428.0 505.0 422.9 500.0 415.4 495.1 410.0 490.0 406.5 477.0 401.5 460.0 392.7 444.0 385.6 439.3 381.0 432.0 370.2 429.0 366.8 426.0 365.3 417.0 363.7 413.2 362.0 410.0 359.0 402.0 348.7 398.0 344.6 382.8 336.0 376.0 331.1 371.0 325.5 368.0 319.0 367.2 314.0 368.5 304.0 367.9 301.0 366.9 299.0 363.3 295.0 357.0 290.5 350.0 286.9 338.0 281.7 333.8 279.0 331.3 276.0 330.0 273.0 329.0 269.0 328.6 264.0 329.2 255.0 330.8 248.0 336.0 240.9 340.0 234.0 342.9 231.0 348.0 228.9 352.8 224.0 357.3 221.0 359.0 219.0 359.5 215.0 358.0 202.0 358.0 197.0 365.9 185.0 371.0 174.1 374.0 169.2 388.1 153.0 401.0 141.8 403.7 140.0 409.0 138.3 417.1 134.0 418.7 131.0 419.6 124.0 421.0 121.0 424.7 117.0 435.0 108.1 439.0 106.0 444.0 105.3 448.0 106.2 459.0 110.5 463.0 110.7 483.0 103.1 523.0 91.8 550.0 86.5ZM338.6 466.0 348.0 465.1 363.0 466.8 370.0 468.5 381.0 472.7 387.0 474.1 388.4 475.0 388.8 476.0 388.1 478.0 385.8 481.0 378.0 488.0 375.9 489.0 370.0 490.3 366.0 493.0 361.0 494.5 349.0 504.3 347.0 505.1 344.0 505.4 333.5 504.0 326.0 501.6 320.7 498.0 317.6 493.0 316.9 490.0 316.8 486.0 319.1 479.0 323.7 473.0 330.0 468.9Z"/><path fill="#16ffe1" d="M565.9 95.0 583.0 94.5 583.0 544.2 571.0 541.6 556.1 540.0 553.0 539.1 548.0 535.6 541.6 529.0 536.0 524.5 525.0 521.2 517.3 517.0 515.4 515.0 514.2 512.0 514.0 510.0 515.6 501.0 516.1 493.0 518.0 490.0 523.2 485.0 524.3 483.0 525.1 480.0 524.6 475.0 522.0 466.6 521.4 463.0 521.6 446.0 520.1 431.0 520.9 422.0 522.0 418.0 524.0 413.7 531.0 405.8 534.8 400.0 536.9 395.0 537.8 391.0 537.7 387.0 537.0 383.7 535.5 380.0 532.9 376.0 529.0 372.5 516.5 366.0 508.0 358.7 506.0 357.8 504.0 358.2 502.2 360.0 497.8 371.0 495.4 374.0 493.0 375.7 489.0 376.9 485.0 377.0 480.3 376.0 476.0 374.0 471.5 370.0 469.0 365.4 467.8 358.0 467.6 339.0 465.6 335.0 460.9 330.0 450.5 321.0 439.0 312.3 402.0 295.6 382.0 283.4 366.0 275.9 357.0 270.6 351.5 266.0 348.0 261.2 345.7 255.0 344.8 249.0 345.2 242.0 346.6 237.0 354.0 226.9 360.0 221.5 361.2 219.0 361.6 215.0 361.3 203.0 362.2 198.0 370.7 185.0 378.0 170.7 396.0 151.0 404.0 144.4 411.0 140.7 418.1 136.0 420.4 133.0 423.0 126.9 425.0 124.0 437.0 113.6 440.0 111.9 444.0 111.2 459.0 113.6 463.0 113.6 524.0 99.9 545.0 96.8ZM342.7 479.0 347.0 478.4 352.0 478.4 359.0 479.8 361.2 481.0 363.4 483.0 364.2 485.0 363.9 487.0 362.4 489.0 356.1 494.0 351.0 497.3 346.0 498.4 341.0 497.3 337.0 495.2 334.8 493.0 333.7 491.0 333.3 488.0 334.3 485.0 336.0 482.7 339.0 480.4Z"/><path fill="#33ffc4" d="M550.4 106.0 566.0 105.9 583.0 106.6 583.0 333.8 570.0 331.4 547.0 330.9 537.0 328.4 513.1 317.0 484.0 304.8 462.5 294.0 441.0 286.5 395.0 265.3 384.7 260.0 374.0 253.5 369.0 249.8 365.5 246.0 362.0 239.0 361.2 232.0 361.8 229.0 365.0 221.0 367.0 205.0 368.1 201.0 369.9 197.0 375.6 188.0 382.0 175.3 385.0 171.0 399.6 155.0 405.0 150.4 418.0 140.8 427.0 130.2 431.0 126.7 440.0 120.9 446.0 118.9 465.0 117.8 481.0 115.6 519.0 108.7 535.0 106.9Z"/><path fill="#50ffa7" d="M528.2 116.0 555.0 116.3 583.0 119.5 583.0 301.6 550.0 299.4 539.0 297.8 527.0 295.1 504.0 287.8 477.7 277.0 461.1 271.0 436.0 263.4 407.0 249.9 393.4 242.0 387.0 237.0 383.1 233.0 380.4 229.0 378.4 224.0 377.2 214.0 378.1 204.0 380.9 196.0 389.1 179.0 394.1 172.0 403.6 161.0 418.0 148.5 431.0 135.7 437.0 132.1 446.0 128.2 456.8 125.0 502.0 118.3Z"/><path fill="#70ff87" d="M501.9 125.0 523.0 124.5 543.0 125.7 562.0 128.7 583.0 133.9 583.0 274.8 567.0 276.0 553.0 276.2 540.0 275.6 527.0 273.9 507.0 269.4 478.0 260.5 447.4 252.0 433.0 246.7 416.0 236.5 403.6 227.0 399.8 223.0 396.4 218.0 393.7 211.0 392.9 203.0 394.1 195.0 397.5 186.0 401.6 179.0 410.3 167.0 431.1 146.0 436.0 142.3 441.0 139.5 454.0 133.8 463.0 130.7 478.9 127.0Z"/><path fill="#8dff6a" d="M480.8 133.0 494.0 132.1 509.0 132.2 522.0 133.1 535.3 135.0 548.0 137.8 559.0 141.2 569.0 145.1 583.0 151.8 583.0 247.7 564.0 253.1 545.0 255.7 535.0 255.9 525.0 255.5 504.0 252.7 465.0 244.1 449.0 239.0 439.0 234.2 432.0 229.9 424.5 224.0 416.2 216.0 412.5 211.0 410.0 206.0 408.8 201.0 408.8 196.0 410.0 190.0 412.5 184.0 416.3 177.0 420.6 171.0 434.0 155.8 442.0 149.2 453.4 143.0 464.1 138.0 473.0 134.8Z"/><path fill="#aaff4d" d="M484.3 140.0 494.0 139.5 506.0 140.1 518.0 141.9 529.0 144.5 539.5 148.0 548.5 152.0 557.3 157.0 565.4 163.0 570.7 168.0 575.7 174.0 583.0 187.0 583.0 205.2 578.6 213.0 575.7 217.0 571.0 221.9 565.6 226.0 559.0 229.9 552.0 232.9 544.0 235.5 536.0 237.2 519.0 238.6 508.0 238.2 497.0 237.1 463.0 231.0 456.6 229.0 450.2 226.0 444.0 222.2 438.0 217.7 433.0 213.0 428.9 208.0 426.1 203.0 424.7 199.0 424.2 195.0 424.7 190.0 426.4 185.0 428.9 180.0 439.7 165.0 444.0 160.5 449.0 156.5 459.0 149.9 468.0 145.0 476.0 141.8Z"/><path fill="#c7ff30" d="M489.2 148.0 496.0 148.1 504.0 149.1 512.0 151.0 520.6 154.0 528.0 157.5 535.0 161.8 540.3 166.0 545.1 171.0 548.7 176.0 551.1 181.0 552.6 187.0 552.8 192.0 552.0 197.0 550.0 202.0 546.6 207.0 542.6 211.0 534.0 216.6 523.0 220.6 511.0 222.6 498.0 222.8 485.0 221.4 471.0 219.2 464.0 217.6 459.0 215.7 454.0 212.9 450.0 210.0 445.9 206.0 443.0 202.0 441.0 198.0 440.1 194.0 440.0 191.0 440.7 187.0 442.6 182.0 449.1 171.0 453.5 166.0 457.8 162.0 470.0 153.5 480.0 149.5Z"/><path fill="#e4ff13" d="M479.8 159.0 484.0 158.2 489.0 158.1 495.0 158.8 499.9 160.0 509.2 164.0 517.3 170.0 522.5 177.0 524.5 184.0 524.4 188.0 523.7 191.0 521.6 195.0 519.2 198.0 514.0 202.0 508.0 204.8 500.0 206.8 492.0 207.4 482.0 206.9 473.0 205.1 467.0 202.7 462.1 199.0 459.3 195.0 457.8 190.0 458.0 184.0 459.8 178.0 463.1 172.0 467.5 167.0 474.0 161.9Z"/></g>
<g clip-path="url(#axclip)"><use href="#landfill"/><use href="#landshape" fill="none" stroke="#000" stroke-width="1.3" stroke-linejoin="round"/><use href="#lakes" fill="#b5d6ee" stroke="#000" stroke-width="1.25" stroke-linejoin="round"/><use href="#slakes" fill="#b5d6ee" stroke="#000" stroke-width="0.9"/><use href="#rivers" fill="none" stroke="#000" stroke-width="1.1"/><use href="#small" fill="#2e7d32" stroke="#000" stroke-width="1"/><use href="#marac" fill="#fff" stroke="#000" stroke-width="0.9"/></g>
<rect x="110.2" y="53.9" width="472.2" height="529.0" fill="none" stroke="#000" stroke-width="1.7"/><line x1="110.2" y1="508.9" x2="126.8" y2="508.9" stroke="#000" stroke-width="2.1"/><text x="104.3" y="515.3" text-anchor="end" font-size="21.3">10°N</text><line x1="110.2" y1="400.0" x2="126.8" y2="400.0" stroke="#000" stroke-width="2.1"/><text x="104.3" y="406.4" text-anchor="end" font-size="21.3">20°N</text><line x1="110.2" y1="283.8" x2="126.8" y2="283.8" stroke="#000" stroke-width="2.1"/><text x="104.3" y="290.2" text-anchor="end" font-size="21.3">30°N</text><line x1="110.2" y1="155.2" x2="126.8" y2="155.2" stroke="#000" stroke-width="2.1"/><text x="104.3" y="161.6" text-anchor="end" font-size="21.3">40°N</text><line x1="204.6" y1="582.9" x2="204.6" y2="566.3" stroke="#000" stroke-width="2.1"/><text x="204.8" y="606.1" text-anchor="middle" font-size="21.3">90°W</text><line x1="414.4" y1="582.9" x2="414.4" y2="566.3" stroke="#000" stroke-width="2.1"/><text x="414.6" y="606.1" text-anchor="middle" font-size="21.3">70°W</text><text x="346.4" y="40.3" text-anchor="middle" font-size="28.6">MAM</text><text x="346.4" y="656.8" text-anchor="middle" font-size="25.6">Longitude</text><text transform="translate(32 321.3) rotate(-90)" text-anchor="middle" font-size="25.7">Latitude</text><g shape-rendering="crispEdges"><rect x="612.0" y="560.86" width="27.0" height="22.34" fill="#0024ff"/><rect x="612.0" y="538.82" width="27.0" height="22.34" fill="#0048ff"/><rect x="612.0" y="516.77" width="27.0" height="22.34" fill="#0070ff"/><rect x="612.0" y="494.73" width="27.0" height="22.34" fill="#0094ff"/><rect x="612.0" y="472.69" width="27.0" height="22.34" fill="#00b8ff"/><rect x="612.0" y="450.65" width="27.0" height="22.34" fill="#00dcfe"/><rect x="612.0" y="428.61" width="27.0" height="22.34" fill="#16ffe1"/><rect x="612.0" y="406.57" width="27.0" height="22.34" fill="#33ffc4"/><rect x="612.0" y="384.52" width="27.0" height="22.34" fill="#50ffa7"/><rect x="612.0" y="362.48" width="27.0" height="22.34" fill="#70ff87"/><rect x="612.0" y="340.44" width="27.0" height="22.34" fill="#8dff6a"/><rect x="612.0" y="318.40" width="27.0" height="22.34" fill="#aaff4d"/><rect x="612.0" y="296.36" width="27.0" height="22.34" fill="#c7ff30"/><rect x="612.0" y="274.32" width="27.0" height="22.34" fill="#e4ff13"/><rect x="612.0" y="252.27" width="27.0" height="22.34" fill="#ffea00"/><rect x="612.0" y="230.23" width="27.0" height="22.34" fill="#ffc800"/><rect x="612.0" y="208.19" width="27.0" height="22.34" fill="#ffa300"/><rect x="612.0" y="186.15" width="27.0" height="22.34" fill="#ff8200"/><rect x="612.0" y="164.11" width="27.0" height="22.34" fill="#ff6000"/><rect x="612.0" y="142.07" width="27.0" height="22.34" fill="#ff3f00"/><rect x="612.0" y="120.02" width="27.0" height="22.34" fill="#ff1e00"/><rect x="612.0" y="97.98" width="27.0" height="22.34" fill="#e40000"/><rect x="612.0" y="75.94" width="27.0" height="22.34" fill="#b60000"/><rect x="612.0" y="53.90" width="27.0" height="22.34" fill="#8d0000"/></g><rect x="612.0" y="53.9" width="27.0" height="529.0" fill="none" stroke="#000" stroke-width="1.7"/><line x1="639.0" y1="582.9" x2="646.5" y2="582.9" stroke="#000" stroke-width="1.7"/><text x="654.3" y="590.9" font-size="21.3">0.0</text><line x1="639.0" y1="516.8" x2="646.5" y2="516.8" stroke="#000" stroke-width="1.7"/><text x="654.3" y="524.8" font-size="21.3">7.5</text><line x1="639.0" y1="450.6" x2="646.5" y2="450.6" stroke="#000" stroke-width="1.7"/><text x="654.3" y="458.6" font-size="21.3">15.0</text><line x1="639.0" y1="384.5" x2="646.5" y2="384.5" stroke="#000" stroke-width="1.7"/><text x="654.3" y="392.5" font-size="21.3">22.5</text><line x1="639.0" y1="318.4" x2="646.5" y2="318.4" stroke="#000" stroke-width="1.7"/><text x="654.3" y="326.4" font-size="21.3">30.0</text><line x1="639.0" y1="252.3" x2="646.5" y2="252.3" stroke="#000" stroke-width="1.7"/><text x="654.3" y="260.3" font-size="21.3">37.5</text><line x1="639.0" y1="186.1" x2="646.5" y2="186.1" stroke="#000" stroke-width="1.7"/><text x="654.3" y="194.1" font-size="21.3">45.0</text><line x1="639.0" y1="120.0" x2="646.5" y2="120.0" stroke="#000" stroke-width="1.7"/><text x="654.3" y="128.0" font-size="21.3">52.5</text><line x1="639.0" y1="53.9" x2="646.5" y2="53.9" stroke="#000" stroke-width="1.7"/><text x="654.3" y="61.9" font-size="21.3">60.0</text><text x="603" y="40.3" font-size="25.6">kw m<tspan dy="-9.7" font-size="17.9">−1</tspan></text>
</g>
<g transform="translate(0.0,695.2)">
<g clip-path="url(#dataclip)"><rect x="110" y="54" width="473" height="529" fill="#0024ff"/><path fill="#0048ff" d="M496.0 55.0 496.0 54.0 509.3 54.0 506.7 62.0 502.0 68.9 501.0 69.4 497.8 69.0 497.0 68.4 499.9 63.0 500.2 61.0 499.0 58.6 496.2 56.0ZM518.0 54.0 583.0 54.0 583.0 553.3 571.0 552.2 550.0 551.7 546.0 549.7 539.3 545.0 533.0 538.5 528.0 534.8 520.0 531.4 508.0 528.6 502.0 526.1 497.0 522.2 494.0 518.0 492.4 514.0 491.0 508.0 491.2 503.0 489.2 502.0 477.0 501.2 470.0 504.7 467.0 504.9 461.0 503.7 457.0 500.5 454.0 499.5 447.0 499.8 436.0 501.4 434.0 500.2 431.0 496.9 429.0 495.9 426.0 495.3 423.8 496.0 417.0 507.2 410.1 515.0 403.0 520.3 394.0 524.6 384.0 527.2 374.0 527.9 363.0 526.9 348.0 523.4 346.0 523.8 342.0 526.4 341.0 526.6 335.0 524.0 333.0 523.9 330.0 524.9 329.0 525.9 325.9 530.0 324.1 534.0 323.0 534.9 319.0 535.9 314.0 535.1 309.0 532.0 306.9 530.0 306.6 528.0 307.0 523.7 303.5 522.0 294.0 521.2 289.0 519.3 275.3 507.0 272.8 504.0 270.2 499.0 269.7 496.0 270.6 492.0 270.8 487.0 277.1 465.0 277.4 455.0 276.4 452.0 275.0 450.1 268.0 444.6 262.0 441.8 253.0 440.8 236.0 441.6 228.0 440.5 225.7 439.0 224.6 432.0 224.7 426.0 226.3 419.0 229.8 413.0 229.7 408.0 231.9 398.0 236.2 393.0 238.7 388.0 238.7 385.0 237.0 382.4 233.0 380.4 225.0 380.3 205.0 383.5 199.0 386.1 195.0 390.2 193.0 391.4 191.0 391.3 182.0 388.4 175.0 388.0 169.0 389.0 155.0 393.5 150.0 394.3 146.0 394.1 142.0 392.7 138.0 390.2 135.0 387.3 127.0 373.2 125.6 367.0 126.1 349.0 131.8 332.0 130.5 322.0 131.0 318.3 133.0 314.9 137.0 311.7 142.0 310.1 148.0 310.3 162.0 314.9 203.0 331.1 213.0 336.8 238.3 355.0 258.0 367.2 259.7 369.0 260.3 371.0 259.4 374.0 256.8 377.0 257.0 379.0 258.0 379.6 264.0 380.4 271.0 378.9 273.0 378.9 276.7 384.0 279.0 385.1 281.0 385.3 283.0 384.6 284.7 383.0 287.0 379.0 290.0 379.3 300.0 383.1 319.3 394.0 329.0 397.8 331.8 402.0 334.0 402.9 360.0 402.5 369.4 400.0 371.4 398.0 371.5 395.0 368.6 390.0 363.4 379.0 355.5 367.0 344.0 353.4 337.0 341.0 335.0 338.2 332.0 335.1 329.0 333.4 325.0 332.9 316.0 333.7 314.0 333.0 312.0 330.6 310.1 321.0 304.4 308.0 303.5 301.0 299.5 292.0 296.5 283.0 295.9 275.0 298.1 265.0 301.1 260.0 303.6 257.0 319.0 243.0 323.1 238.0 325.0 236.8 331.0 235.5 339.0 226.1 346.0 224.0 350.0 220.1 354.3 217.0 355.0 215.0 354.9 211.0 351.4 195.0 356.2 189.0 359.2 184.0 361.9 177.0 362.2 173.0 362.9 171.0 365.9 168.0 372.0 159.7 374.0 150.8 375.0 149.0 385.8 145.0 391.4 142.0 392.8 141.0 393.8 138.0 396.0 136.5 402.0 133.7 409.0 132.0 410.0 131.0 408.0 128.1 405.6 123.0 405.6 122.0 408.4 118.0 408.5 115.0 409.3 113.0 414.0 105.8 424.0 99.9 428.4 95.0 435.0 94.2 444.2 90.0 450.0 85.5 458.0 83.6 459.9 84.0 454.1 92.0 454.1 98.0 455.0 100.0 457.0 102.1 460.0 103.7 462.0 103.7 467.7 100.0 477.0 92.5 483.0 89.3 505.0 81.0 508.2 79.0 512.0 75.6 519.3 71.0 520.2 70.0 520.6 68.0 517.4 64.0 517.0 62.0ZM446.0 417.9 444.7 419.0 445.0 420.4 446.0 421.0 455.3 421.0 457.2 420.0 456.9 419.0 454.0 418.1ZM271.7 297.0 275.0 297.4 276.8 299.0 276.9 301.0 274.8 309.0 275.7 313.0 287.5 332.0 291.9 336.0 293.9 343.0 297.6 348.0 297.1 351.0 294.4 353.0 292.0 353.4 290.0 353.0 287.0 351.3 285.0 349.4 281.3 344.0 277.0 334.3 273.1 322.0 271.5 311.0 269.6 303.0 269.8 299.0 270.2 298.0Z"/><path fill="#0070ff" d="M550.9 55.0 552.0 54.0 583.0 54.0 583.0 549.3 571.0 548.2 553.0 548.0 550.0 547.2 546.0 545.0 541.0 541.3 531.0 530.1 513.0 519.5 508.8 514.0 502.4 510.0 503.0 508.7 508.0 507.0 508.8 506.0 509.5 502.0 509.0 500.5 507.0 499.8 502.0 500.4 501.0 501.0 500.8 502.0 501.4 504.0 501.0 505.3 499.0 506.7 497.0 506.5 496.7 505.0 499.5 501.0 498.6 500.0 489.6 497.0 486.0 495.0 484.4 493.0 483.0 488.1 482.0 486.4 480.0 484.9 477.0 484.2 471.0 484.6 457.0 487.2 437.0 492.3 427.0 491.0 419.0 490.9 416.0 487.7 414.0 486.8 412.3 489.0 411.6 493.0 410.0 494.8 397.1 502.0 392.0 506.0 386.8 509.0 380.0 511.7 373.0 513.4 366.0 514.0 357.0 513.9 341.0 522.4 339.0 522.1 330.0 517.4 316.0 514.3 314.0 514.3 299.0 518.3 295.0 518.1 291.7 517.0 283.0 510.1 277.8 505.0 275.4 502.0 273.2 497.0 274.2 487.0 280.0 468.5 281.1 462.0 280.8 454.0 279.0 448.0 277.0 444.1 272.0 437.6 266.0 433.4 259.0 431.1 240.0 427.6 236.0 425.6 234.4 423.0 234.3 421.0 235.8 415.0 236.0 408.0 237.6 401.0 247.0 387.6 249.0 386.6 251.0 386.8 260.0 389.1 267.0 391.8 272.0 395.4 280.3 404.0 284.1 407.0 290.0 410.1 297.0 412.0 302.0 412.1 311.0 410.8 339.0 408.0 360.0 407.6 373.0 404.2 382.3 407.0 383.3 408.0 384.3 411.0 386.6 415.0 385.0 416.5 382.0 416.7 371.0 413.5 370.0 414.0 368.4 416.0 368.3 417.0 369.0 417.9 376.0 419.0 389.0 419.2 395.0 421.2 399.0 424.1 400.0 423.8 402.2 421.0 404.0 420.0 409.0 419.8 415.0 418.4 429.0 420.9 432.0 419.0 433.7 416.0 432.8 413.0 430.0 410.1 426.0 408.4 423.0 405.3 418.0 404.3 416.0 401.9 414.0 400.6 397.0 398.7 392.0 398.9 389.0 398.0 386.2 396.0 384.6 393.0 385.8 384.0 385.0 380.0 383.5 378.0 375.0 371.5 370.0 366.7 365.1 361.0 358.7 352.0 355.4 345.0 348.7 326.0 345.7 321.0 342.0 317.5 337.0 314.6 330.0 312.2 317.0 309.2 314.0 307.6 312.4 306.0 311.3 304.0 308.9 296.0 307.6 289.0 308.9 268.0 310.7 262.0 315.4 256.0 323.7 248.0 327.0 244.0 333.0 241.2 334.5 240.0 341.0 230.8 348.0 228.0 353.0 223.1 358.0 219.7 359.2 216.0 358.0 201.6 358.2 197.0 364.8 187.0 370.9 174.0 378.5 163.0 382.0 156.7 384.5 154.0 396.0 145.1 401.4 139.0 404.0 137.7 409.0 136.5 416.0 133.0 417.1 131.0 417.2 129.0 414.7 121.0 415.2 119.0 423.6 108.0 430.0 102.1 432.0 100.7 438.0 98.6 445.0 97.4 448.0 98.7 453.1 104.0 455.8 106.0 460.0 108.1 463.0 107.9 469.0 103.9 477.0 97.4 481.0 95.0 485.1 93.0 504.0 86.3 510.0 83.3 515.8 79.0 524.0 74.0 527.0 71.0 530.5 66.0 533.0 63.8ZM329.0 413.9 326.0 415.2 325.0 416.8 325.1 418.0 326.6 420.0 331.3 423.0 334.6 424.0 338.0 424.2 347.2 422.0 347.5 421.0 346.9 420.0 341.0 416.2 332.0 413.7ZM444.0 412.9 441.2 415.0 440.1 418.0 440.7 422.0 441.9 424.0 443.0 424.8 449.0 425.6 458.0 425.5 460.0 424.9 461.9 423.0 462.9 419.0 462.1 417.0 460.8 416.0 455.0 413.9 446.0 412.7ZM315.7 522.0 318.0 521.7 321.0 522.9 323.0 525.0 322.9 527.0 321.0 528.6 319.0 529.4 316.0 529.3 314.0 528.4 313.3 527.0 313.4 526.0 314.6 523.0Z"/><path fill="#0094ff" d="M581.7 84.0 583.0 83.8 583.0 540.6 557.0 539.4 548.0 537.5 543.0 534.9 532.0 526.3 521.2 520.0 514.0 516.5 509.8 511.0 509.6 510.0 511.5 506.0 512.2 501.0 511.8 499.0 510.0 497.2 502.0 495.5 500.4 494.0 499.8 492.0 500.5 482.0 500.0 468.0 502.0 436.0 501.6 433.0 500.0 429.8 491.0 422.2 481.0 415.3 477.2 414.0 468.0 412.2 462.4 410.0 459.0 408.0 450.0 398.6 440.4 391.0 433.0 382.0 429.0 378.7 424.0 376.2 411.9 372.0 398.0 363.1 387.1 360.0 385.0 358.1 384.2 356.0 384.2 353.0 385.2 350.0 387.0 347.3 390.3 344.0 401.0 337.0 412.0 332.9 423.0 330.7 448.0 327.6 479.0 320.0 526.0 317.5 533.0 316.6 539.0 315.0 544.0 312.0 546.5 308.0 546.2 303.0 543.5 298.0 539.1 293.0 533.5 288.0 516.8 276.0 501.2 267.0 484.9 260.0 469.0 254.9 461.0 253.7 456.0 254.9 445.0 261.5 440.0 263.0 427.0 263.1 412.0 261.5 403.0 259.0 381.0 251.6 373.0 248.1 368.3 245.0 365.0 241.7 362.7 238.0 361.7 234.0 362.6 229.0 365.7 222.0 368.1 214.0 370.0 210.1 390.2 180.0 407.0 157.0 414.2 142.0 420.7 135.0 424.0 128.8 429.6 121.0 433.1 115.0 437.0 111.0 441.0 108.8 444.0 108.4 458.0 112.8 463.0 113.1 478.0 106.9 485.0 104.8 531.0 94.5ZM352.9 414.0 358.0 413.5 362.3 414.0 363.7 415.0 365.7 419.0 368.0 420.1 377.0 421.1 387.0 421.1 390.0 421.7 394.0 423.2 399.0 427.1 401.0 426.5 403.8 423.0 405.0 422.3 415.0 421.3 418.9 422.0 429.0 425.2 435.0 426.1 439.0 429.9 448.3 437.0 456.1 447.0 458.8 452.0 460.6 457.0 461.2 462.0 460.3 466.0 458.1 469.0 453.7 472.0 424.0 486.9 421.0 487.4 416.0 484.4 414.0 484.1 413.0 484.5 410.9 487.0 409.7 492.0 408.9 493.0 400.0 497.5 397.0 497.1 394.6 494.0 395.0 491.7 400.0 489.0 401.2 487.0 400.0 485.0 398.0 484.6 396.6 485.0 391.0 489.4 381.0 495.8 373.0 497.8 370.0 499.5 364.0 501.1 360.3 503.0 358.0 505.1 355.1 511.0 353.4 513.0 348.0 516.4 342.0 519.0 339.0 519.0 330.0 515.4 315.0 512.1 307.0 514.1 300.0 515.0 297.0 514.7 294.0 513.6 286.0 507.9 281.6 504.0 278.5 500.0 277.1 496.0 277.7 489.0 281.4 478.0 284.9 460.0 280.7 433.0 280.5 429.0 281.2 426.0 283.0 424.0 285.0 423.2 299.0 422.9 311.0 419.1 315.0 418.5 320.0 419.5 331.0 425.3 336.0 426.2 339.0 426.2 349.0 423.9 350.0 423.0 350.4 421.0 349.4 416.0 350.0 415.0Z"/><path fill="#00b8ff" d="M511.3 129.0 528.0 128.7 546.0 130.1 563.1 133.0 583.0 137.8 583.0 220.8 554.0 225.7 535.0 227.7 516.0 228.2 497.0 226.8 477.0 223.4 454.0 216.7 447.0 213.7 439.0 209.4 434.4 206.0 430.6 202.0 428.1 198.0 426.9 194.0 426.9 190.0 428.4 185.0 434.3 175.0 442.2 165.0 448.2 156.0 453.0 150.7 459.0 146.0 466.8 141.0 480.0 135.2 494.0 131.2ZM579.6 369.0 583.0 368.3 583.0 520.3 568.0 521.1 551.0 519.4 541.0 517.1 527.0 511.6 519.0 509.9 517.8 509.0 517.0 507.5 516.8 498.0 514.5 490.0 510.6 470.0 508.5 450.0 510.2 435.0 508.9 428.0 507.0 424.4 499.4 414.0 494.0 408.6 488.0 405.4 479.0 403.4 475.3 402.0 470.4 399.0 466.9 396.0 464.7 393.0 463.5 389.0 463.6 384.0 464.8 380.0 466.7 377.0 469.0 374.9 473.0 373.0 477.0 372.2 482.0 372.3 511.0 375.5 530.0 375.6 552.0 373.8 571.7 371.0ZM356.0 419.0 360.0 419.0 365.0 421.5 368.0 422.2 389.0 423.4 393.0 424.8 397.0 428.3 399.0 429.3 401.8 429.0 405.0 426.5 407.0 425.7 412.0 426.7 415.4 428.0 419.4 431.0 425.6 437.0 430.6 443.0 433.8 448.0 436.1 453.0 437.3 458.0 437.1 462.0 435.9 465.0 433.5 468.0 421.3 480.0 419.0 481.1 414.0 481.8 412.0 483.0 409.0 487.0 407.9 491.0 405.7 493.0 400.0 495.7 399.0 495.8 397.5 495.0 396.9 494.0 397.2 493.0 401.9 490.0 403.3 487.0 402.5 485.0 401.0 483.6 399.0 482.9 396.7 483.0 390.0 487.9 380.0 494.0 372.0 495.1 368.0 497.5 364.0 498.0 362.0 498.9 357.0 503.3 353.0 511.2 350.0 513.3 345.0 515.2 341.0 515.9 338.0 515.7 315.0 510.3 307.0 511.4 302.5 511.0 297.0 508.8 288.0 502.7 283.6 498.0 282.4 495.0 282.2 492.0 282.9 488.0 285.3 481.0 286.4 469.0 288.4 460.0 288.5 457.0 286.7 449.0 286.9 445.0 288.0 441.0 289.9 438.0 293.0 435.7 303.0 432.0 315.0 426.0 317.0 425.9 323.0 427.1 337.0 428.3 349.0 425.8 351.0 424.8 354.0 420.4Z"/><path fill="#00dcfe" d="M480.5 170.0 486.0 169.4 491.0 169.8 495.2 171.0 498.7 173.0 501.3 176.0 502.3 179.0 502.0 182.0 500.5 185.0 498.0 187.7 495.0 189.6 491.7 191.0 487.0 192.1 478.0 191.9 474.0 190.7 471.1 189.0 469.0 186.7 467.9 184.0 467.8 181.0 468.7 178.0 470.8 175.0 473.2 173.0 477.0 171.0ZM529.8 419.0 535.0 418.2 545.0 419.6 565.0 420.0 583.0 422.7 583.0 482.3 568.0 485.7 562.0 486.1 555.0 485.7 535.0 481.4 530.0 479.0 526.0 475.6 524.2 473.0 523.0 469.8 518.9 452.0 518.7 448.0 524.0 425.2 526.0 421.8ZM356.9 424.0 360.0 423.7 366.0 425.1 373.0 425.8 388.0 426.1 392.0 427.6 398.0 432.2 404.8 434.0 408.0 436.0 411.5 440.0 416.4 447.0 419.0 452.0 420.6 457.0 420.9 462.0 420.2 467.0 418.6 472.0 416.2 476.0 411.0 480.9 407.0 485.7 406.0 485.9 402.9 483.0 401.0 482.0 398.0 481.5 396.0 481.8 389.3 487.0 380.0 492.8 378.0 493.4 371.0 494.1 367.0 496.6 362.0 497.5 358.6 500.0 356.0 502.7 351.9 510.0 350.0 511.3 346.0 512.4 337.0 512.3 323.0 510.0 315.0 508.1 307.0 507.2 302.0 504.6 291.0 496.8 288.7 494.0 287.9 490.0 289.6 481.0 289.8 468.0 292.5 459.0 291.6 449.0 293.0 445.9 297.0 442.9 308.0 439.2 318.0 434.4 327.0 432.2 340.0 430.5 344.2 429.0 351.0 427.5Z"/><path fill="#16ffe1" d="M356.4 430.0 361.0 429.7 387.0 433.1 392.0 435.5 399.3 441.0 403.7 446.0 408.4 453.0 411.0 458.0 412.2 462.0 412.7 467.0 412.2 471.0 410.8 475.0 408.0 479.6 406.0 481.0 400.0 480.2 396.0 480.4 388.7 486.0 379.0 492.0 371.0 493.1 367.0 495.4 362.0 496.4 356.0 501.0 351.0 507.9 349.0 509.1 347.0 509.4 340.0 509.2 325.0 507.3 319.4 506.0 309.0 501.5 298.8 494.0 296.0 491.0 294.8 488.0 293.3 470.0 294.2 466.0 297.2 460.0 299.2 454.0 301.0 451.2 305.0 448.5 325.0 439.0Z"/><path fill="#33ffc4" d="M356.9 439.0 365.0 438.7 377.0 440.8 386.0 443.6 393.0 447.6 400.0 454.6 404.7 462.0 406.4 469.0 406.1 472.0 405.0 475.0 402.0 477.4 395.0 479.0 388.0 484.8 379.0 490.6 370.0 492.1 367.0 494.1 361.0 495.6 356.4 499.0 351.0 504.4 348.0 506.0 341.0 505.6 323.0 501.7 316.3 498.0 305.6 490.0 303.0 486.9 301.0 483.0 299.0 476.0 298.4 471.0 300.0 466.0 306.0 457.7 312.4 453.0 328.0 445.6 336.0 443.3Z"/><path fill="#50ffa7" d="M356.0 449.0 364.0 448.4 371.0 449.0 379.0 450.9 386.0 453.9 392.0 458.1 397.0 463.7 399.3 469.0 399.3 471.0 398.6 473.0 393.0 477.2 386.9 483.0 378.0 489.0 370.0 490.6 366.0 492.8 362.0 493.6 351.0 501.1 348.0 502.2 345.0 502.2 339.4 501.0 328.8 497.0 324.0 494.1 315.0 487.2 309.9 482.0 306.9 476.0 306.5 471.0 309.0 466.0 315.0 460.4 323.0 455.9 332.0 452.5 340.0 450.8Z"/><path fill="#70ff87" d="M356.3 458.0 364.0 458.1 370.2 459.0 376.8 461.0 382.0 463.7 385.8 467.0 387.5 470.0 387.7 473.0 386.0 477.0 382.6 481.0 376.5 486.0 369.0 488.3 365.0 490.5 361.0 491.8 352.0 496.8 348.0 497.7 341.0 496.1 334.0 492.6 325.3 485.0 319.6 478.0 318.6 474.0 319.4 471.0 322.7 467.0 327.0 464.0 333.0 461.3 339.0 459.7Z"/><path fill="#8dff6a" d="M346.5 469.0 356.0 468.7 360.0 469.4 363.9 471.0 366.6 473.0 368.4 476.0 368.5 478.0 367.4 481.0 362.7 486.0 354.0 490.3 349.0 490.8 343.6 489.0 340.0 486.4 337.1 483.0 335.7 480.0 335.4 477.0 336.6 474.0 338.6 472.0 342.0 470.2Z"/></g>
<g clip-path="url(#axclip)"><use href="#landfill"/><use href="#landshape" fill="none" stroke="#000" stroke-width="1.3" stroke-linejoin="round"/><use href="#lakes" fill="#b5d6ee" stroke="#000" stroke-width="1.25" stroke-linejoin="round"/><use href="#slakes" fill="#b5d6ee" stroke="#000" stroke-width="0.9"/><use href="#rivers" fill="none" stroke="#000" stroke-width="1.1"/><use href="#small" fill="#2e7d32" stroke="#000" stroke-width="1"/><use href="#marac" fill="#fff" stroke="#000" stroke-width="0.9"/></g>
<rect x="110.2" y="53.9" width="472.2" height="529.0" fill="none" stroke="#000" stroke-width="1.7"/><line x1="110.2" y1="508.9" x2="126.8" y2="508.9" stroke="#000" stroke-width="2.1"/><text x="104.3" y="515.3" text-anchor="end" font-size="21.3">10°N</text><line x1="110.2" y1="400.0" x2="126.8" y2="400.0" stroke="#000" stroke-width="2.1"/><text x="104.3" y="406.4" text-anchor="end" font-size="21.3">20°N</text><line x1="110.2" y1="283.8" x2="126.8" y2="283.8" stroke="#000" stroke-width="2.1"/><text x="104.3" y="290.2" text-anchor="end" font-size="21.3">30°N</text><line x1="110.2" y1="155.2" x2="126.8" y2="155.2" stroke="#000" stroke-width="2.1"/><text x="104.3" y="161.6" text-anchor="end" font-size="21.3">40°N</text><line x1="204.6" y1="582.9" x2="204.6" y2="566.3" stroke="#000" stroke-width="2.1"/><text x="204.8" y="606.1" text-anchor="middle" font-size="21.3">90°W</text><line x1="414.4" y1="582.9" x2="414.4" y2="566.3" stroke="#000" stroke-width="2.1"/><text x="414.6" y="606.1" text-anchor="middle" font-size="21.3">70°W</text><text x="346.4" y="40.3" text-anchor="middle" font-size="28.6">JJA</text><text x="346.4" y="656.8" text-anchor="middle" font-size="25.6">Longitude</text><text transform="translate(32 321.3) rotate(-90)" text-anchor="middle" font-size="25.7">Latitude</text><g shape-rendering="crispEdges"><rect x="612.0" y="560.86" width="27.0" height="22.34" fill="#0024ff"/><rect x="612.0" y="538.82" width="27.0" height="22.34" fill="#0048ff"/><rect x="612.0" y="516.77" width="27.0" height="22.34" fill="#0070ff"/><rect x="612.0" y="494.73" width="27.0" height="22.34" fill="#0094ff"/><rect x="612.0" y="472.69" width="27.0" height="22.34" fill="#00b8ff"/><rect x="612.0" y="450.65" width="27.0" height="22.34" fill="#00dcfe"/><rect x="612.0" y="428.61" width="27.0" height="22.34" fill="#16ffe1"/><rect x="612.0" y="406.57" width="27.0" height="22.34" fill="#33ffc4"/><rect x="612.0" y="384.52" width="27.0" height="22.34" fill="#50ffa7"/><rect x="612.0" y="362.48" width="27.0" height="22.34" fill="#70ff87"/><rect x="612.0" y="340.44" width="27.0" height="22.34" fill="#8dff6a"/><rect x="612.0" y="318.40" width="27.0" height="22.34" fill="#aaff4d"/><rect x="612.0" y="296.36" width="27.0" height="22.34" fill="#c7ff30"/><rect x="612.0" y="274.32" width="27.0" height="22.34" fill="#e4ff13"/><rect x="612.0" y="252.27" width="27.0" height="22.34" fill="#ffea00"/><rect x="612.0" y="230.23" width="27.0" height="22.34" fill="#ffc800"/><rect x="612.0" y="208.19" width="27.0" height="22.34" fill="#ffa300"/><rect x="612.0" y="186.15" width="27.0" height="22.34" fill="#ff8200"/><rect x="612.0" y="164.11" width="27.0" height="22.34" fill="#ff6000"/><rect x="612.0" y="142.07" width="27.0" height="22.34" fill="#ff3f00"/><rect x="612.0" y="120.02" width="27.0" height="22.34" fill="#ff1e00"/><rect x="612.0" y="97.98" width="27.0" height="22.34" fill="#e40000"/><rect x="612.0" y="75.94" width="27.0" height="22.34" fill="#b60000"/><rect x="612.0" y="53.90" width="27.0" height="22.34" fill="#8d0000"/></g><rect x="612.0" y="53.9" width="27.0" height="529.0" fill="none" stroke="#000" stroke-width="1.7"/><line x1="639.0" y1="582.9" x2="646.5" y2="582.9" stroke="#000" stroke-width="1.7"/><text x="654.3" y="590.9" font-size="21.3">0.0</text><line x1="639.0" y1="516.8" x2="646.5" y2="516.8" stroke="#000" stroke-width="1.7"/><text x="654.3" y="524.8" font-size="21.3">7.5</text><line x1="639.0" y1="450.6" x2="646.5" y2="450.6" stroke="#000" stroke-width="1.7"/><text x="654.3" y="458.6" font-size="21.3">15.0</text><line x1="639.0" y1="384.5" x2="646.5" y2="384.5" stroke="#000" stroke-width="1.7"/><text x="654.3" y="392.5" font-size="21.3">22.5</text><line x1="639.0" y1="318.4" x2="646.5" y2="318.4" stroke="#000" stroke-width="1.7"/><text x="654.3" y="326.4" font-size="21.3">30.0</text><line x1="639.0" y1="252.3" x2="646.5" y2="252.3" stroke="#000" stroke-width="1.7"/><text x="654.3" y="260.3" font-size="21.3">37.5</text><line x1="639.0" y1="186.1" x2="646.5" y2="186.1" stroke="#000" stroke-width="1.7"/><text x="654.3" y="194.1" font-size="21.3">45.0</text><line x1="639.0" y1="120.0" x2="646.5" y2="120.0" stroke="#000" stroke-width="1.7"/><text x="654.3" y="128.0" font-size="21.3">52.5</text><line x1="639.0" y1="53.9" x2="646.5" y2="53.9" stroke="#000" stroke-width="1.7"/><text x="654.3" y="61.9" font-size="21.3">60.0</text><text x="603" y="40.3" font-size="25.6">kw m<tspan dy="-9.7" font-size="17.9">−1</tspan></text>
</g>
<g transform="translate(708.5,695.2)">
<g clip-path="url(#dataclip)"><rect x="110" y="54" width="473" height="529" fill="#0024ff"/><path fill="#0048ff" d="M537.3 55.0 539.2 54.0 583.0 54.0 583.0 565.9 581.0 564.7 571.0 555.0 569.1 554.0 564.9 553.0 550.0 551.4 535.0 543.1 529.0 541.4 524.0 538.6 518.6 533.0 514.1 525.0 509.6 520.0 507.1 515.0 494.9 507.0 494.8 505.0 496.8 502.0 496.0 500.7 489.0 499.7 477.0 499.8 470.0 503.0 467.0 503.4 462.0 502.7 457.0 499.3 455.0 498.7 447.0 498.6 437.0 499.8 435.5 499.0 431.0 494.6 427.0 492.8 418.0 491.5 415.2 488.0 414.0 487.4 413.0 487.9 412.4 489.0 412.0 492.0 410.8 494.0 401.0 498.7 397.0 498.9 392.0 494.9 391.0 495.0 384.0 498.5 378.0 500.6 371.0 501.7 364.0 502.0 361.0 502.9 358.0 505.7 355.0 513.0 346.0 521.3 342.0 526.1 341.0 526.4 329.9 518.0 316.9 515.0 314.0 515.1 299.0 521.5 293.0 521.7 289.0 520.4 281.0 513.2 274.2 506.0 272.2 503.0 270.1 498.0 270.1 496.0 271.4 492.0 271.7 487.0 274.8 474.0 278.0 466.0 278.5 461.0 279.9 456.0 279.5 452.0 278.4 450.0 276.0 448.1 264.0 442.1 257.0 440.4 239.0 437.9 233.0 435.9 229.5 433.0 227.1 428.0 227.1 420.0 229.9 414.0 229.7 408.0 231.3 398.0 232.4 396.0 236.0 391.7 237.6 387.0 237.0 384.6 235.0 383.0 232.0 381.9 226.0 381.7 207.2 384.0 201.0 386.4 198.9 388.0 194.0 394.1 186.0 400.1 172.9 413.0 169.8 415.0 161.0 418.9 158.0 419.5 151.0 416.0 147.0 416.1 145.4 418.0 139.1 441.0 138.8 443.0 139.2 444.0 143.0 444.4 149.0 442.4 154.0 441.8 157.0 442.4 161.0 444.5 170.9 453.0 180.0 463.9 188.0 470.5 205.0 479.8 215.0 483.1 226.0 485.1 235.0 489.4 242.0 494.1 246.7 498.0 247.3 500.0 247.2 505.0 248.6 508.0 250.0 509.5 254.4 512.0 259.0 511.6 265.0 514.3 267.2 516.0 271.0 522.4 272.5 524.0 276.0 525.1 279.3 528.0 286.0 527.6 291.0 529.4 297.0 532.7 299.9 537.0 301.0 537.7 304.0 537.7 307.3 536.0 308.0 535.0 307.7 534.0 305.1 530.0 305.5 528.0 307.0 525.8 314.0 519.9 316.0 519.3 319.0 519.6 325.0 522.6 326.7 524.0 327.7 526.0 326.5 530.0 327.0 532.4 330.3 538.0 334.0 542.0 334.7 544.0 334.3 549.0 335.4 557.0 334.0 569.0 334.8 575.0 332.6 583.0 110.0 583.0 110.0 372.2 114.0 375.3 124.0 386.4 125.0 387.1 126.0 386.7 126.0 383.6 122.6 377.0 121.7 374.0 121.1 366.0 122.6 349.0 128.7 332.0 127.3 323.0 127.2 319.0 128.7 315.0 131.0 311.3 134.0 308.0 139.0 304.6 150.0 298.3 157.0 293.4 162.0 291.7 167.0 291.0 172.0 291.4 189.0 295.6 196.0 296.8 206.0 295.7 211.0 297.0 214.0 296.3 215.6 295.0 216.3 290.0 217.0 288.7 219.0 287.7 223.0 287.6 236.0 289.8 243.0 291.5 252.9 296.0 266.4 306.0 270.5 311.0 273.9 322.0 275.7 325.0 278.0 326.7 285.0 328.1 289.0 331.4 293.0 333.5 294.4 335.0 296.0 340.0 297.0 341.3 299.0 342.0 306.0 341.1 307.0 339.6 307.6 337.0 307.1 330.0 306.0 325.2 302.2 317.0 299.6 308.0 298.0 295.7 295.4 284.0 295.1 274.0 296.8 265.0 303.4 252.0 306.6 235.0 310.5 222.0 315.6 211.0 322.5 201.0 331.2 192.0 344.3 182.0 348.0 174.4 351.0 176.2 353.0 174.9 356.3 171.0 357.1 166.0 358.0 164.4 362.8 163.0 369.0 156.4 371.0 152.0 371.8 148.0 372.5 147.0 378.2 144.0 378.1 142.0 379.3 140.0 387.7 134.0 404.1 118.0 406.7 113.0 412.8 105.0 423.0 98.5 427.0 93.6 429.0 92.7 433.8 92.0 440.3 89.0 444.0 87.0 448.0 83.4 465.0 79.7 467.3 80.0 462.8 87.0 462.7 88.0 464.0 88.5 479.0 86.7 502.4 80.0 507.0 78.0 519.9 70.0 520.9 68.0 519.8 63.0 521.2 61.0 526.0 58.6ZM328.0 340.9 326.4 342.0 323.0 346.3 321.0 346.9 315.1 347.0 313.0 347.7 305.0 355.0 301.0 357.6 293.0 360.1 282.0 361.8 273.0 365.1 266.0 370.0 260.1 378.0 263.0 379.3 271.0 378.4 273.0 379.0 275.0 384.0 277.0 386.5 297.0 397.1 301.0 398.2 314.0 399.8 331.0 405.1 334.0 405.2 347.0 403.3 362.0 402.7 369.0 401.3 371.4 400.0 373.2 398.0 373.6 395.0 370.8 388.0 369.0 385.0 359.7 374.0 353.2 368.0 345.0 361.6 336.0 357.9 334.9 356.0 335.0 352.0 333.0 345.0 331.0 342.4ZM378.0 398.5 376.6 400.0 376.9 403.0 378.0 404.2 383.5 407.0 384.7 411.0 386.8 414.0 387.0 415.2 386.0 416.5 383.0 417.2 372.0 414.9 369.9 416.0 369.7 417.0 371.0 417.9 378.0 418.9 388.0 418.8 395.0 420.4 399.0 422.1 403.0 419.1 409.0 418.5 414.0 417.2 418.0 417.2 428.0 419.1 430.0 418.2 430.8 417.0 430.9 415.0 429.0 412.7 423.0 410.4 420.5 408.0 416.0 406.4 414.0 403.8 412.0 402.6 407.0 401.2 398.0 399.8 391.0 399.8 385.0 398.2ZM444.0 416.7 442.7 418.0 442.4 420.0 443.0 422.0 445.0 423.3 450.0 423.4 456.0 422.7 457.8 422.0 458.5 421.0 458.4 419.0 456.0 417.6 446.0 416.4ZM504.0 502.0 503.5 503.0 503.8 506.0 506.0 505.9 507.1 505.0 507.0 502.4 506.0 501.9ZM330.0 414.9 326.0 415.8 324.7 417.0 324.6 418.0 326.0 420.2 332.0 423.7 336.0 424.3 339.0 424.1 345.5 422.0 346.0 421.0 340.0 417.2 333.0 415.2Z"/><path fill="#0070ff" d="M575.8 58.0 583.0 57.1 583.0 551.6 552.0 547.5 547.0 545.6 540.0 541.1 530.0 530.1 522.1 525.0 513.3 518.0 509.6 511.0 509.5 510.0 511.3 505.0 511.5 501.0 511.0 499.2 509.0 497.6 501.7 496.0 499.0 494.0 497.9 492.0 497.6 488.0 499.2 476.0 497.4 464.0 496.0 449.5 494.7 443.0 493.0 438.0 490.7 434.0 488.0 431.1 481.9 428.0 470.0 426.0 467.0 424.9 465.0 423.0 462.3 417.0 459.0 414.9 444.0 410.7 437.0 411.4 428.0 406.9 424.0 403.9 420.0 402.3 416.6 399.0 414.0 397.4 403.0 393.4 397.0 390.6 385.6 382.0 372.0 373.6 362.0 366.1 355.0 362.3 347.0 356.3 341.0 353.0 338.2 349.0 335.0 339.3 332.0 335.2 329.0 334.7 319.0 336.0 315.3 335.0 313.0 333.5 311.0 329.4 309.8 321.0 305.1 308.0 304.2 301.0 300.6 291.0 299.2 285.0 298.8 279.0 300.0 267.0 303.8 259.0 318.7 243.0 323.0 237.3 325.0 236.0 329.6 235.0 330.8 234.0 337.2 224.0 339.2 217.0 341.6 212.0 345.0 207.6 350.0 202.9 350.5 199.0 348.6 194.0 350.0 184.8 351.0 184.1 351.7 190.0 352.0 190.7 353.0 190.9 356.0 187.9 359.0 183.0 361.4 177.0 362.3 171.0 365.0 168.4 372.2 159.0 375.3 150.0 390.8 142.0 392.2 141.0 393.5 138.0 394.9 137.0 402.0 133.6 408.8 132.0 409.8 131.0 408.5 129.0 406.1 123.0 406.6 121.0 408.9 118.0 409.8 114.0 415.0 107.5 425.0 100.7 429.0 96.3 434.0 95.2 439.0 93.0 450.0 87.0 454.0 86.8 454.7 88.0 453.6 93.0 454.4 99.0 456.0 101.4 458.0 103.0 460.5 104.0 462.0 104.0 467.0 101.0 477.0 93.6 483.0 90.6 506.0 82.5 514.0 77.3 522.0 73.2 528.0 68.4 531.0 66.9 548.0 62.8ZM217.5 303.0 223.0 302.4 228.0 303.9 241.7 311.0 246.0 315.0 249.0 320.3 256.6 338.0 259.7 355.0 259.8 360.0 257.9 368.0 256.6 371.0 253.6 375.0 253.0 377.0 253.0 379.0 253.7 381.0 256.0 383.2 261.9 387.0 269.0 396.7 273.0 400.9 293.8 416.0 298.1 420.0 305.2 428.0 308.7 431.0 315.0 433.8 321.0 434.2 324.0 433.4 331.9 430.0 339.0 428.7 344.0 426.6 350.0 425.4 351.4 424.0 351.9 422.0 351.2 419.0 349.1 415.0 349.0 413.8 351.0 411.9 356.0 411.0 360.0 411.4 362.0 412.5 362.8 414.0 363.7 419.0 366.0 421.2 377.0 423.0 389.0 423.1 394.0 424.6 397.0 427.0 399.0 427.9 401.0 427.4 405.0 423.0 415.0 421.6 418.6 422.0 429.0 424.9 434.0 425.1 436.0 426.4 440.0 430.9 449.7 440.0 454.0 442.7 465.0 447.9 469.8 452.0 473.4 458.0 477.3 468.0 478.3 473.0 478.2 475.0 477.3 477.0 475.0 478.7 472.0 479.5 454.0 479.8 445.0 480.8 424.0 486.4 421.0 486.0 416.6 483.0 414.0 482.4 412.0 483.1 409.2 486.0 406.9 491.0 404.0 492.4 402.6 492.0 404.5 488.0 404.2 486.0 403.1 484.0 400.0 481.9 396.0 481.8 389.0 486.9 380.0 492.2 377.3 493.0 371.0 493.4 367.0 495.6 363.0 495.9 360.7 497.0 357.0 499.7 354.9 502.0 351.0 510.4 341.0 517.8 339.0 517.7 331.0 513.7 315.0 510.3 313.0 510.5 298.0 516.8 294.0 517.0 291.2 516.0 283.3 509.0 278.6 504.0 276.7 501.0 275.8 497.0 282.4 479.0 290.0 464.9 292.5 459.0 293.7 452.0 292.6 445.0 289.0 439.0 286.0 436.3 283.0 434.5 270.0 429.7 246.2 422.0 241.0 419.5 238.2 417.0 236.3 413.0 235.2 408.0 236.0 400.0 239.9 394.0 242.2 388.0 241.7 383.0 240.0 380.5 235.0 377.3 226.0 376.0 218.0 375.8 204.0 374.5 198.0 375.2 193.0 376.6 189.0 378.5 174.0 387.4 170.0 390.5 166.3 396.0 161.0 409.6 159.0 411.8 157.0 412.1 146.0 410.6 143.8 409.0 140.0 403.2 136.6 396.0 133.0 389.8 130.9 381.0 127.0 373.4 126.1 367.0 127.5 350.0 133.6 333.0 133.0 323.0 133.3 320.0 135.0 317.1 137.0 315.1 141.0 312.7 148.0 309.8 164.0 305.7 173.0 305.2 186.0 308.4 193.0 308.8 199.0 307.9ZM110.0 440.0 110.0 439.1 111.0 439.4 135.0 449.5 143.0 449.6 151.0 447.8 154.4 449.0 155.9 451.0 157.0 454.0 159.7 470.0 162.1 480.0 165.0 488.1 169.0 496.4 174.6 505.0 181.0 512.4 188.0 518.4 196.0 523.2 201.0 525.3 207.0 527.0 213.0 527.8 218.0 527.7 228.0 525.5 244.0 518.1 248.0 517.8 255.0 518.8 260.0 518.4 263.3 520.0 268.8 528.0 273.7 530.0 277.0 532.9 279.0 533.5 284.0 532.8 287.0 533.3 293.6 537.0 296.0 541.6 298.0 543.5 300.0 544.2 306.0 544.5 308.0 544.2 311.0 542.6 314.9 539.0 315.4 537.0 315.2 535.0 312.1 530.0 312.3 529.0 316.0 525.6 318.0 525.1 320.0 526.0 321.0 528.0 320.6 532.0 321.0 539.0 320.0 542.6 318.0 545.2 291.4 571.0 283.4 580.0 281.6 583.0 110.0 583.0Z"/><path fill="#0094ff" d="M579.1 69.0 583.0 68.7 583.0 548.6 575.9 547.0 558.0 541.0 546.0 538.7 543.0 537.5 538.0 533.7 532.0 527.8 524.1 522.0 518.0 515.5 516.1 511.0 515.4 499.0 512.1 490.0 511.0 476.0 504.4 447.0 502.2 440.0 500.1 435.0 494.0 427.6 489.0 423.4 484.0 420.3 469.0 415.4 448.0 404.1 444.0 402.8 434.0 401.1 430.0 399.7 425.5 397.0 417.0 390.6 401.0 384.6 387.9 375.0 375.0 367.9 365.0 361.2 356.0 356.7 346.8 350.0 343.9 347.0 342.7 342.0 343.7 333.0 343.4 330.0 342.1 327.0 339.7 325.0 337.0 324.1 333.0 324.2 323.0 328.9 320.0 329.0 317.0 327.9 315.1 326.0 314.1 324.0 307.9 308.0 306.8 301.0 304.2 292.0 303.7 286.0 305.3 267.0 306.7 262.0 309.6 257.0 324.5 239.0 326.0 238.1 331.1 237.0 339.0 227.3 341.0 226.2 346.0 225.0 351.0 220.1 355.3 217.0 355.5 211.0 352.7 197.0 353.0 195.0 360.3 185.0 363.4 178.0 364.4 173.0 374.3 160.0 377.5 153.0 380.9 150.0 394.0 142.5 398.0 137.8 403.0 135.4 409.0 134.4 414.3 132.0 415.3 130.0 414.5 127.0 413.0 125.2 410.0 124.0 409.5 122.0 414.0 113.7 430.0 99.5 445.0 93.1 449.0 92.6 450.3 94.0 452.0 99.0 454.6 103.0 459.0 106.0 462.0 106.5 467.6 103.0 476.0 96.6 483.0 93.1 506.0 85.6 517.0 80.4 526.0 77.5 534.0 75.3 546.0 73.1ZM389.0 434.0 392.0 433.4 399.0 434.1 406.0 433.5 408.0 434.1 410.1 436.0 414.6 444.0 421.0 453.0 422.8 458.0 422.9 461.0 421.8 465.0 419.5 469.0 416.4 472.0 407.0 476.8 398.0 476.9 395.0 477.4 387.0 483.2 377.0 488.7 369.0 489.4 365.0 490.9 360.0 491.6 353.0 494.0 348.0 494.9 340.0 494.5 320.0 491.4 316.0 489.8 311.0 487.0 307.0 484.1 305.0 481.6 303.8 478.0 304.3 473.0 310.5 456.0 312.0 453.5 314.0 452.0 330.0 449.3 346.0 442.7 358.0 441.5 382.0 436.4ZM110.0 443.0 113.1 444.0 123.3 450.0 128.0 454.0 129.9 457.0 130.6 462.0 129.8 478.0 130.2 491.0 131.5 503.0 134.1 516.0 137.9 529.0 142.6 542.0 161.1 583.0 110.0 583.0Z"/><path fill="#00b8ff" d="M570.9 81.0 583.0 80.5 583.0 539.9 574.2 536.0 561.0 528.7 542.0 521.6 536.0 517.4 532.0 512.7 528.0 506.1 524.9 499.0 521.3 478.0 511.8 446.0 505.4 432.0 502.3 428.0 498.2 424.0 490.0 416.9 485.0 413.7 467.0 407.1 451.0 397.8 434.0 393.0 420.0 384.2 405.0 378.9 391.0 368.6 378.0 362.2 359.2 351.0 355.6 348.0 353.0 344.0 352.2 340.0 351.3 329.0 350.0 325.5 348.0 322.5 345.0 320.0 341.0 318.4 324.0 318.5 320.0 316.8 317.0 313.5 313.0 306.6 310.2 297.0 309.6 293.0 309.9 288.0 313.0 265.8 314.4 260.0 316.9 254.0 326.0 241.0 333.0 238.1 340.0 228.7 347.0 226.3 351.2 222.0 356.8 218.0 357.3 216.0 357.2 211.0 355.0 199.0 355.0 196.0 363.1 185.0 368.4 172.0 381.1 155.0 385.2 151.0 396.0 143.4 400.1 139.0 404.0 137.2 409.0 136.2 416.0 132.7 416.9 131.0 416.9 129.0 414.6 122.0 415.2 119.0 418.0 115.4 431.2 103.0 439.0 98.8 443.0 97.4 446.0 97.1 448.0 98.0 455.0 105.5 459.0 107.7 462.0 108.2 464.6 107.0 476.0 99.2 480.0 97.2 486.5 95.0 514.0 88.1 523.0 86.1 538.0 83.9Z"/><path fill="#00dcfe" d="M544.6 93.0 563.0 92.5 583.0 92.7 583.0 516.9 575.4 513.0 558.0 502.0 551.0 496.6 545.0 490.6 538.0 481.1 530.0 467.6 522.5 448.0 512.1 430.0 507.3 424.0 494.0 411.6 487.0 406.7 473.9 401.0 458.0 391.6 440.0 385.2 425.0 376.6 411.0 370.8 395.0 359.9 378.3 352.0 368.3 346.0 365.9 344.0 363.9 341.0 360.3 325.0 358.4 321.0 355.5 317.0 351.0 312.8 335.0 301.5 324.0 296.0 321.3 293.0 320.2 289.0 320.8 281.0 323.3 262.0 325.0 255.0 328.0 247.5 329.6 245.0 335.0 240.4 341.0 230.8 342.0 230.0 347.0 228.4 352.2 223.0 357.8 219.0 358.7 216.0 357.5 202.0 357.9 197.0 366.9 186.0 373.5 171.0 376.0 167.6 390.0 152.0 402.0 141.4 404.4 140.0 409.0 138.6 417.3 134.0 418.7 131.0 418.8 124.0 419.6 121.0 421.8 118.0 432.0 107.4 439.0 103.0 442.0 101.9 445.0 101.7 448.0 102.8 453.0 106.6 456.0 108.2 459.0 109.6 462.0 110.0 465.0 108.9 477.0 102.0 484.0 100.0 517.0 95.2Z"/><path fill="#16ffe1" d="M508.4 104.0 546.0 103.2 564.0 104.0 583.0 105.5 583.0 463.5 572.0 455.5 555.0 447.7 543.2 439.0 530.0 431.0 509.4 413.0 496.0 399.5 456.7 372.0 447.3 363.0 430.1 354.0 418.0 345.7 402.0 339.8 392.0 334.0 383.0 326.1 368.5 310.0 353.0 298.2 346.4 292.0 339.2 283.0 336.4 276.0 335.7 269.0 336.0 263.0 342.5 245.0 344.5 236.0 345.5 234.0 349.0 230.4 353.0 224.7 358.0 221.1 359.6 219.0 360.2 216.0 360.6 205.0 362.0 200.7 369.0 193.9 372.0 190.0 374.5 185.0 377.9 175.0 380.2 171.0 387.9 163.0 397.3 152.0 405.0 145.3 419.0 135.9 420.8 133.0 423.8 124.0 433.0 113.4 438.0 109.5 444.0 107.4 447.0 107.8 458.0 112.0 462.0 112.5 465.0 111.8 476.0 106.9 480.0 105.8Z"/><path fill="#33ffc4" d="M478.7 113.0 486.0 112.4 502.0 112.3 534.0 113.2 558.0 115.5 583.0 119.6 583.0 359.8 574.0 355.9 563.3 348.0 554.9 343.0 524.0 327.2 486.4 306.0 477.0 301.9 428.0 284.2 399.0 268.8 393.2 265.0 389.0 261.0 379.8 247.0 376.0 242.6 372.0 240.3 365.0 238.9 362.0 237.8 358.0 234.8 356.1 232.0 355.7 229.0 356.2 227.0 361.7 221.0 365.0 210.1 368.0 206.9 376.0 201.8 379.5 198.0 382.7 192.0 387.0 179.0 389.8 174.0 402.9 158.0 421.0 141.1 424.0 137.0 428.0 130.1 432.0 125.4 439.0 119.7 445.0 117.2 450.0 116.6 463.0 116.9Z"/><path fill="#50ffa7" d="M482.4 122.0 491.0 121.3 503.0 121.4 518.0 122.4 532.6 124.0 557.0 128.5 583.0 135.8 583.0 301.6 556.0 296.2 533.0 290.2 507.0 281.6 476.0 269.7 450.0 256.2 429.7 243.0 422.3 237.0 416.1 231.0 410.2 224.0 406.3 218.0 403.7 212.0 402.4 206.0 402.1 194.0 402.9 187.0 404.3 182.0 406.8 177.0 417.8 161.0 428.4 149.0 436.0 139.3 442.0 134.4 451.0 129.8 458.1 127.0 470.0 124.1Z"/><path fill="#70ff87" d="M488.8 132.0 500.0 131.9 512.0 132.9 525.0 135.0 537.0 137.8 548.0 141.1 560.0 145.6 583.0 157.0 583.0 260.7 565.0 262.5 546.0 262.2 527.0 259.7 508.0 255.0 496.0 250.7 478.0 243.1 461.0 237.4 455.0 234.6 448.0 230.2 442.0 225.5 436.0 219.7 431.0 213.7 427.4 208.0 425.1 203.0 423.5 197.0 423.1 192.0 423.9 186.0 425.7 180.0 428.9 173.0 432.6 167.0 446.7 150.0 451.0 146.3 457.0 142.2 464.7 138.0 473.0 134.7 480.0 133.0Z"/><path fill="#8dff6a" d="M490.4 145.0 499.0 144.8 508.0 145.7 518.0 147.9 527.8 151.0 537.1 155.0 546.1 160.0 553.3 165.0 560.1 171.0 565.5 177.0 570.1 184.0 573.2 191.0 574.5 197.0 574.7 203.0 573.5 209.0 571.0 214.3 567.0 219.4 563.0 223.0 558.4 226.0 553.0 228.6 547.0 230.7 534.0 233.2 519.0 233.4 510.0 232.4 500.0 230.4 470.0 221.6 461.0 217.4 454.2 212.0 447.0 203.2 444.8 199.0 443.5 195.0 442.9 191.0 443.2 186.0 444.2 182.0 446.4 177.0 450.3 171.0 459.0 160.9 467.0 153.5 472.0 150.4 478.0 147.8 484.0 146.0Z"/><path fill="#aaff4d" d="M486.1 163.0 496.0 162.2 505.8 164.0 515.0 168.0 522.8 174.0 528.0 181.0 530.0 188.0 529.9 192.0 529.1 195.0 527.6 198.0 525.2 201.0 520.1 205.0 513.2 208.0 506.0 209.7 497.0 210.4 487.0 210.0 479.0 208.6 473.1 206.0 468.0 202.2 464.8 198.0 462.6 192.0 462.6 185.0 464.4 179.0 467.5 174.0 473.0 169.0 479.0 165.4Z"/></g>
<g clip-path="url(#axclip)"><use href="#landfill"/><use href="#landshape" fill="none" stroke="#000" stroke-width="1.3" stroke-linejoin="round"/><use href="#lakes" fill="#b5d6ee" stroke="#000" stroke-width="1.25" stroke-linejoin="round"/><use href="#slakes" fill="#b5d6ee" stroke="#000" stroke-width="0.9"/><use href="#rivers" fill="none" stroke="#000" stroke-width="1.1"/><use href="#small" fill="#2e7d32" stroke="#000" stroke-width="1"/><use href="#marac" fill="#fff" stroke="#000" stroke-width="0.9"/></g>
<rect x="110.2" y="53.9" width="472.2" height="529.0" fill="none" stroke="#000" stroke-width="1.7"/><line x1="110.2" y1="508.9" x2="126.8" y2="508.9" stroke="#000" stroke-width="2.1"/><text x="104.3" y="515.3" text-anchor="end" font-size="21.3">10°N</text><line x1="110.2" y1="400.0" x2="126.8" y2="400.0" stroke="#000" stroke-width="2.1"/><text x="104.3" y="406.4" text-anchor="end" font-size="21.3">20°N</text><line x1="110.2" y1="283.8" x2="126.8" y2="283.8" stroke="#000" stroke-width="2.1"/><text x="104.3" y="290.2" text-anchor="end" font-size="21.3">30°N</text><line x1="110.2" y1="155.2" x2="126.8" y2="155.2" stroke="#000" stroke-width="2.1"/><text x="104.3" y="161.6" text-anchor="end" font-size="21.3">40°N</text><line x1="204.6" y1="582.9" x2="204.6" y2="566.3" stroke="#000" stroke-width="2.1"/><text x="204.8" y="606.1" text-anchor="middle" font-size="21.3">90°W</text><line x1="414.4" y1="582.9" x2="414.4" y2="566.3" stroke="#000" stroke-width="2.1"/><text x="414.6" y="606.1" text-anchor="middle" font-size="21.3">70°W</text><text x="346.4" y="40.3" text-anchor="middle" font-size="28.6">SON</text><text x="346.4" y="656.8" text-anchor="middle" font-size="25.6">Longitude</text><text transform="translate(32 321.3) rotate(-90)" text-anchor="middle" font-size="25.7">Latitude</text><g shape-rendering="crispEdges"><rect x="612.0" y="560.86" width="27.0" height="22.34" fill="#0024ff"/><rect x="612.0" y="538.82" width="27.0" height="22.34" fill="#0048ff"/><rect x="612.0" y="516.77" width="27.0" height="22.34" fill="#0070ff"/><rect x="612.0" y="494.73" width="27.0" height="22.34" fill="#0094ff"/><rect x="612.0" y="472.69" width="27.0" height="22.34" fill="#00b8ff"/><rect x="612.0" y="450.65" width="27.0" height="22.34" fill="#00dcfe"/><rect x="612.0" y="428.61" width="27.0" height="22.34" fill="#16ffe1"/><rect x="612.0" y="406.57" width="27.0" height="22.34" fill="#33ffc4"/><rect x="612.0" y="384.52" width="27.0" height="22.34" fill="#50ffa7"/><rect x="612.0" y="362.48" width="27.0" height="22.34" fill="#70ff87"/><rect x="612.0" y="340.44" width="27.0" height="22.34" fill="#8dff6a"/><rect x="612.0" y="318.40" width="27.0" height="22.34" fill="#aaff4d"/><rect x="612.0" y="296.36" width="27.0" height="22.34" fill="#c7ff30"/><rect x="612.0" y="274.32" width="27.0" height="22.34" fill="#e4ff13"/><rect x="612.0" y="252.27" width="27.0" height="22.34" fill="#ffea00"/><rect x="612.0" y="230.23" width="27.0" height="22.34" fill="#ffc800"/><rect x="612.0" y="208.19" width="27.0" height="22.34" fill="#ffa300"/><rect x="612.0" y="186.15" width="27.0" height="22.34" fill="#ff8200"/><rect x="612.0" y="164.11" width="27.0" height="22.34" fill="#ff6000"/><rect x="612.0" y="142.07" width="27.0" height="22.34" fill="#ff3f00"/><rect x="612.0" y="120.02" width="27.0" height="22.34" fill="#ff1e00"/><rect x="612.0" y="97.98" width="27.0" height="22.34" fill="#e40000"/><rect x="612.0" y="75.94" width="27.0" height="22.34" fill="#b60000"/><rect x="612.0" y="53.90" width="27.0" height="22.34" fill="#8d0000"/></g><rect x="612.0" y="53.9" width="27.0" height="529.0" fill="none" stroke="#000" stroke-width="1.7"/><line x1="639.0" y1="582.9" x2="646.5" y2="582.9" stroke="#000" stroke-width="1.7"/><text x="654.3" y="590.9" font-size="21.3">0.0</text><line x1="639.0" y1="516.8" x2="646.5" y2="516.8" stroke="#000" stroke-width="1.7"/><text x="654.3" y="524.8" font-size="21.3">7.5</text><line x1="639.0" y1="450.6" x2="646.5" y2="450.6" stroke="#000" stroke-width="1.7"/><text x="654.3" y="458.6" font-size="21.3">15.0</text><line x1="639.0" y1="384.5" x2="646.5" y2="384.5" stroke="#000" stroke-width="1.7"/><text x="654.3" y="392.5" font-size="21.3">22.5</text><line x1="639.0" y1="318.4" x2="646.5" y2="318.4" stroke="#000" stroke-width="1.7"/><text x="654.3" y="326.4" font-size="21.3">30.0</text><line x1="639.0" y1="252.3" x2="646.5" y2="252.3" stroke="#000" stroke-width="1.7"/><text x="654.3" y="260.3" font-size="21.3">37.5</text><line x1="639.0" y1="186.1" x2="646.5" y2="186.1" stroke="#000" stroke-width="1.7"/><text x="654.3" y="194.1" font-size="21.3">45.0</text><line x1="639.0" y1="120.0" x2="646.5" y2="120.0" stroke="#000" stroke-width="1.7"/><text x="654.3" y="128.0" font-size="21.3">52.5</text><line x1="639.0" y1="53.9" x2="646.5" y2="53.9" stroke="#000" stroke-width="1.7"/><text x="654.3" y="61.9" font-size="21.3">60.0</text><text x="603" y="40.3" font-size="25.6">kw m<tspan dy="-9.7" font-size="17.9">−1</tspan></text>
</g>
</svg></body></html>
